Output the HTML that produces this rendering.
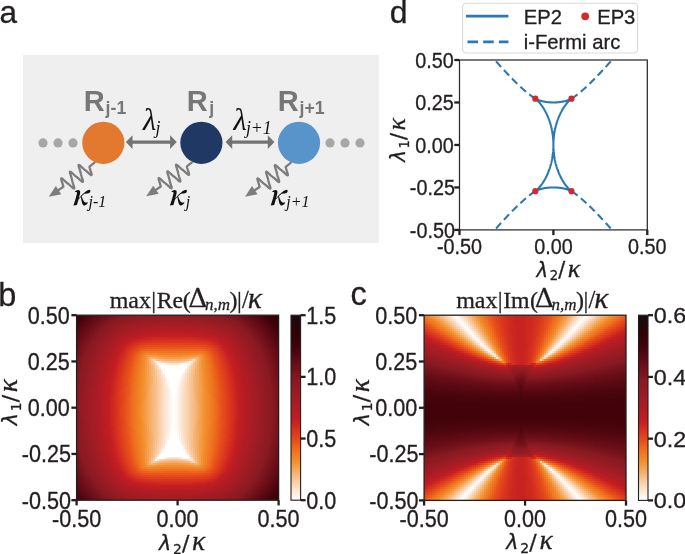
<!DOCTYPE html>
<html><head><meta charset="utf-8"><title>Figure</title><style>html,body{margin:0;padding:0;background:#fff;}body{width:685px;height:554px;overflow:hidden;}svg{display:block;}</style></head><body>
<svg width="685" height="554" viewBox="0 0 685 554">
<defs>
<linearGradient id="cmg" x1="0" y1="1" x2="0" y2="0"><stop offset="0.000" stop-color="#ffffff"/><stop offset="0.025" stop-color="#fdf3ea"/><stop offset="0.050" stop-color="#fce8d6"/><stop offset="0.075" stop-color="#fadabd"/><stop offset="0.100" stop-color="#f9cda5"/><stop offset="0.125" stop-color="#f7be89"/><stop offset="0.150" stop-color="#f6af6d"/><stop offset="0.175" stop-color="#f4a252"/><stop offset="0.200" stop-color="#f29536"/><stop offset="0.225" stop-color="#f18829"/><stop offset="0.250" stop-color="#f07a24"/><stop offset="0.275" stop-color="#ef6c1f"/><stop offset="0.300" stop-color="#eb5c1c"/><stop offset="0.325" stop-color="#e64d1a"/><stop offset="0.350" stop-color="#e0401d"/><stop offset="0.375" stop-color="#d9341f"/><stop offset="0.400" stop-color="#d02920"/><stop offset="0.425" stop-color="#c51f21"/><stop offset="0.450" stop-color="#bd1d22"/><stop offset="0.475" stop-color="#b51c23"/><stop offset="0.500" stop-color="#ad1c24"/><stop offset="0.525" stop-color="#a71c24"/><stop offset="0.550" stop-color="#a01c24"/><stop offset="0.575" stop-color="#9a1b23"/><stop offset="0.600" stop-color="#941b23"/><stop offset="0.625" stop-color="#8e1a22"/><stop offset="0.650" stop-color="#881a22"/><stop offset="0.675" stop-color="#7e161e"/><stop offset="0.700" stop-color="#74121b"/><stop offset="0.725" stop-color="#6b0f18"/><stop offset="0.750" stop-color="#620c16"/><stop offset="0.775" stop-color="#570912"/><stop offset="0.800" stop-color="#4d060e"/><stop offset="0.825" stop-color="#43030a"/><stop offset="0.850" stop-color="#3c0208"/><stop offset="0.875" stop-color="#350207"/><stop offset="0.900" stop-color="#2e0206"/><stop offset="0.925" stop-color="#290407"/><stop offset="0.950" stop-color="#23070a"/><stop offset="0.975" stop-color="#1e0a0d"/><stop offset="1.000" stop-color="#1a0e10"/></linearGradient>
<clipPath id="clb"><rect x="76.60" y="315.20" width="202.00" height="185.00"/></clipPath>
<clipPath id="clc"><rect x="424.10" y="315.20" width="201.90" height="185.20"/></clipPath>
<clipPath id="cld"><rect x="459.50" y="60.00" width="187.80" height="169.90"/></clipPath>
<filter id="bl" x="-5%" y="-5%" width="110%" height="110%" color-interpolation-filters="sRGB"><feGaussianBlur stdDeviation="0.6"/></filter>
</defs>
<text x="-0.40" y="23.30" font-family="Liberation Sans, Arial, sans-serif" font-size="31.50" fill="#231f20" stroke="#231f20" stroke-width="0.3">a</text>
<rect x="23" y="55" width="356" height="188" fill="#efefef"/>
<circle cx="43" cy="142.9" r="4.6" fill="#aaa6a5"/>
<circle cx="58" cy="142.9" r="4.6" fill="#aaa6a5"/>
<circle cx="73" cy="142.9" r="4.6" fill="#aaa6a5"/>
<circle cx="330" cy="142.9" r="4.6" fill="#aaa6a5"/>
<circle cx="345" cy="142.9" r="4.6" fill="#aaa6a5"/>
<circle cx="360" cy="142.9" r="4.6" fill="#aaa6a5"/>
<path d="M132.0 142.1H170.6" stroke="#737373" stroke-width="3.4"/>
<path d="M125.9 142.1L132.5 135.2L132.5 149.0z M176.7 142.1L170.1 135.2L170.1 149.0z" fill="#737373"/>
<path d="M231.7 142.1H268.3" stroke="#737373" stroke-width="3.4"/>
<path d="M225.6 142.1L232.2 135.2L232.2 149.0z M274.4 142.1L267.8 135.2L267.8 149.0z" fill="#737373"/>
<circle cx="103.3" cy="142.8" r="21.1" fill="#e3782f"/>
<circle cx="201.4" cy="142.8" r="21.1" fill="#1f3864"/>
<circle cx="299.0" cy="142.8" r="21.1" fill="#5893c9"/>
<path d="M94.50 162.70 L89.48 166.72 L89.66 167.54 L89.88 168.40 L90.14 169.33 L90.44 170.34 L90.79 171.40 L91.13 172.46 L91.42 173.44 L91.61 174.27 L91.66 174.87 L91.54 175.18 L91.23 175.20 L90.74 174.94 L90.11 174.45 L89.39 173.80 L88.61 173.08 L87.83 172.35 L87.09 171.67 L86.40 171.08 L85.75 170.55 L85.12 170.07 L84.50 169.60 L83.85 169.07 L83.16 168.48 L82.42 167.80 L81.64 167.07 L80.86 166.35 L80.14 165.70 L79.51 165.21 L79.02 164.95 L78.71 164.97 L78.59 165.28 L78.64 165.88 L78.83 166.71 L79.12 167.69 L79.46 168.75 L79.81 169.81 L80.11 170.82 L80.37 171.75 L80.59 172.61 L80.77 173.42 L80.96 174.24 L81.18 175.10 L81.44 176.03 L81.74 177.04 L82.09 178.10 L82.43 179.16 L82.72 180.14 L82.91 180.97 L82.96 181.57 L82.84 181.88 L82.53 181.90 L82.04 181.64 L81.41 181.15 L80.69 180.50 L79.91 179.78 L79.13 179.05 L78.39 178.37 L77.70 177.78 L77.05 177.25 L76.42 176.77 L75.80 176.30 L75.15 175.77 L74.46 175.18 L73.72 174.50 L72.94 173.77 L72.16 173.05 L71.44 172.40 L70.81 171.91 L70.32 171.65 L70.01 171.67 L69.89 171.98 L69.94 172.58 L70.13 173.41 L70.42 174.39 L70.76 175.45 L71.11 176.51 L71.41 177.52 L71.67 178.45 L71.89 179.31 L72.08 180.12 L72.26 180.94 L72.48 181.80 L72.74 182.73 L73.04 183.74 L73.39 184.80 L73.73 185.86 L74.02 186.84 L74.21 187.67 L74.26 188.27 L74.14 188.58 L73.83 188.60 L73.34 188.34 L72.71 187.85 L71.99 187.20 L71.21 186.48 L70.43 185.75 L69.69 185.07 L69.00 184.48 L68.35 183.95 L67.73 183.47 L67.10 183.00 L66.45 182.47 L65.76 181.88 L65.02 181.20 L64.24 180.47 L63.46 179.75 L62.74 179.10 L62.11 178.61 L61.62 178.35 L61.31 178.37 L61.19 178.68 L61.24 179.28 L61.43 180.11 L61.72 181.09 L62.06 182.15 L62.41 183.21 L62.71 184.22 L62.97 185.15 L63.19 186.01 L63.38 186.82 L57.74 190.63" fill="none" stroke="#7d7d7d" stroke-width="2.3" stroke-linejoin="round" stroke-linecap="round"/>
<path d="M48.79 196.67L55.83 186.01L61.31 194.13z" fill="#7d7d7d"/>
<path d="M191.90 162.40 L186.88 166.42 L187.06 167.24 L187.28 168.10 L187.54 169.03 L187.84 170.04 L188.19 171.10 L188.53 172.16 L188.82 173.14 L189.01 173.97 L189.06 174.57 L188.94 174.88 L188.63 174.90 L188.14 174.64 L187.51 174.15 L186.79 173.50 L186.01 172.78 L185.23 172.05 L184.49 171.37 L183.80 170.78 L183.15 170.25 L182.52 169.78 L181.90 169.30 L181.25 168.77 L180.56 168.18 L179.82 167.50 L179.04 166.77 L178.26 166.05 L177.54 165.40 L176.91 164.91 L176.42 164.65 L176.11 164.67 L175.99 164.98 L176.04 165.58 L176.23 166.41 L176.52 167.39 L176.86 168.45 L177.21 169.51 L177.51 170.52 L177.77 171.45 L177.99 172.31 L178.17 173.12 L178.36 173.94 L178.58 174.80 L178.84 175.73 L179.14 176.74 L179.49 177.80 L179.83 178.86 L180.12 179.84 L180.31 180.67 L180.36 181.27 L180.24 181.58 L179.93 181.60 L179.44 181.34 L178.81 180.85 L178.09 180.20 L177.31 179.48 L176.53 178.75 L175.79 178.07 L175.10 177.48 L174.45 176.95 L173.82 176.47 L173.20 176.00 L172.55 175.47 L171.86 174.88 L171.12 174.20 L170.34 173.47 L169.56 172.75 L168.84 172.10 L168.21 171.61 L167.72 171.35 L167.41 171.37 L167.29 171.68 L167.34 172.28 L167.53 173.11 L167.82 174.09 L168.16 175.15 L168.51 176.21 L168.81 177.22 L169.07 178.15 L169.29 179.01 L169.47 179.82 L169.66 180.64 L169.88 181.50 L170.14 182.43 L170.44 183.44 L170.79 184.50 L171.13 185.56 L171.42 186.54 L171.61 187.37 L171.66 187.97 L171.54 188.28 L171.23 188.30 L170.74 188.04 L170.11 187.55 L169.39 186.90 L168.61 186.18 L167.83 185.45 L167.09 184.77 L166.40 184.18 L165.75 183.65 L165.12 183.17 L164.50 182.70 L163.85 182.17 L163.16 181.58 L162.42 180.90 L161.64 180.17 L160.86 179.45 L160.14 178.80 L159.51 178.31 L159.02 178.05 L158.71 178.07 L158.59 178.38 L158.64 178.98 L158.83 179.81 L159.12 180.79 L159.46 181.85 L159.81 182.91 L160.11 183.92 L160.37 184.85 L160.59 185.71 L160.78 186.53 L155.14 190.33" fill="none" stroke="#7d7d7d" stroke-width="2.3" stroke-linejoin="round" stroke-linecap="round"/>
<path d="M146.19 196.37L153.23 185.71L158.71 193.83z" fill="#7d7d7d"/>
<path d="M290.70 162.80 L285.68 166.82 L285.86 167.64 L286.08 168.50 L286.34 169.43 L286.64 170.44 L286.99 171.50 L287.33 172.56 L287.62 173.54 L287.81 174.37 L287.86 174.97 L287.74 175.28 L287.43 175.30 L286.94 175.04 L286.31 174.55 L285.59 173.90 L284.81 173.18 L284.03 172.45 L283.29 171.77 L282.60 171.18 L281.95 170.65 L281.32 170.18 L280.70 169.70 L280.05 169.17 L279.36 168.58 L278.62 167.90 L277.84 167.17 L277.06 166.45 L276.34 165.80 L275.71 165.31 L275.22 165.05 L274.91 165.07 L274.79 165.38 L274.84 165.98 L275.03 166.81 L275.32 167.79 L275.66 168.85 L276.01 169.91 L276.31 170.92 L276.57 171.85 L276.79 172.71 L276.98 173.53 L277.16 174.34 L277.38 175.20 L277.64 176.13 L277.94 177.14 L278.29 178.20 L278.63 179.26 L278.92 180.24 L279.11 181.07 L279.16 181.67 L279.04 181.98 L278.73 182.00 L278.24 181.74 L277.61 181.25 L276.89 180.60 L276.11 179.88 L275.33 179.15 L274.59 178.47 L273.90 177.88 L273.25 177.35 L272.62 176.88 L272.00 176.40 L271.35 175.87 L270.66 175.28 L269.92 174.60 L269.14 173.87 L268.36 173.15 L267.64 172.50 L267.01 172.01 L266.52 171.75 L266.21 171.77 L266.09 172.08 L266.14 172.68 L266.33 173.51 L266.62 174.49 L266.96 175.55 L267.31 176.61 L267.61 177.62 L267.87 178.55 L268.09 179.41 L268.27 180.22 L268.46 181.04 L268.68 181.90 L268.94 182.83 L269.24 183.84 L269.59 184.90 L269.93 185.96 L270.22 186.94 L270.41 187.77 L270.46 188.37 L270.34 188.68 L270.03 188.70 L269.54 188.44 L268.91 187.95 L268.19 187.30 L267.41 186.58 L266.63 185.85 L265.89 185.17 L265.20 184.58 L264.55 184.05 L263.93 183.57 L263.30 183.10 L262.65 182.57 L261.96 181.98 L261.22 181.30 L260.44 180.57 L259.66 179.85 L258.94 179.20 L258.31 178.71 L257.82 178.45 L257.51 178.47 L257.39 178.78 L257.44 179.38 L257.63 180.21 L257.92 181.19 L258.26 182.25 L258.61 183.31 L258.91 184.32 L259.17 185.25 L259.39 186.11 L259.58 186.93 L253.94 190.73" fill="none" stroke="#7d7d7d" stroke-width="2.3" stroke-linejoin="round" stroke-linecap="round"/>
<path d="M244.99 196.77L252.03 186.11L257.51 194.23z" fill="#7d7d7d"/>
<text x="83.80" y="110.90" font-family="Liberation Sans, Arial, sans-serif" font-size="29.00" fill="#777777" font-weight="bold">R</text>
<text x="105.60" y="113.50" font-family="Liberation Sans, Arial, sans-serif" font-size="17.70" fill="#777777" font-weight="bold">j-1</text>
<text x="186.80" y="110.90" font-family="Liberation Sans, Arial, sans-serif" font-size="29.00" fill="#777777" font-weight="bold">R</text>
<text x="209.20" y="113.50" font-family="Liberation Sans, Arial, sans-serif" font-size="17.70" fill="#777777" font-weight="bold">j</text>
<text x="277.80" y="110.90" font-family="Liberation Sans, Arial, sans-serif" font-size="29.00" fill="#777777" font-weight="bold">R</text>
<text x="299.50" y="113.50" font-family="Liberation Sans, Arial, sans-serif" font-size="17.70" fill="#777777" font-weight="bold">j+1</text>
<text x="143.10" y="130.30" font-family="Liberation Serif, Times New Roman, serif" font-size="30.50" fill="#111" font-style="italic">&#955;</text>
<text x="155.40" y="133.90" font-family="Liberation Serif, Times New Roman, serif" font-size="17.80" fill="#111" font-style="italic">j</text>
<text x="233.40" y="130.30" font-family="Liberation Serif, Times New Roman, serif" font-size="30.50" fill="#111" font-style="italic">&#955;</text>
<text x="245.90" y="133.90" font-family="Liberation Serif, Times New Roman, serif" font-size="17.80" fill="#111" font-style="italic">j+1</text>
<text x="71.00" y="204.7" font-family="Noto Serif CJK SC, serif" font-size="27.5" font-style="italic" font-weight="bold" fill="#111">&#954;</text>
<text x="88.50" y="206.90" font-family="Liberation Serif, Times New Roman, serif" font-size="16.00" fill="#111" font-style="italic">j-1</text>
<text x="167.40" y="204.7" font-family="Noto Serif CJK SC, serif" font-size="27.5" font-style="italic" font-weight="bold" fill="#111">&#954;</text>
<text x="185.80" y="206.90" font-family="Liberation Serif, Times New Roman, serif" font-size="16.00" fill="#111" font-style="italic">j</text>
<text x="268.30" y="204.7" font-family="Noto Serif CJK SC, serif" font-size="27.5" font-style="italic" font-weight="bold" fill="#111">&#954;</text>
<text x="286.20" y="206.90" font-family="Liberation Serif, Times New Roman, serif" font-size="16.00" fill="#111" font-style="italic">j+1</text>
<text x="389.70" y="23.30" font-family="Liberation Sans, Arial, sans-serif" font-size="32.00" fill="#231f20" stroke="#231f20" stroke-width="0.3">d</text>
<g clip-path="url(#cld)">
<path d="M535.72 190.97 L535.72 190.96 L535.72 190.97 L535.72 190.97" fill="none" stroke="#2a79b6" stroke-width="2.1"/>
<path d="M571.08 190.97 L571.08 190.96 L571.08 190.97 L571.08 190.97" fill="none" stroke="#2a79b6" stroke-width="2.1"/>
<path d="M535.87 190.84 L535.87 190.81 L535.87 190.84 L535.87 190.84" fill="none" stroke="#2a79b6" stroke-width="2.1"/>
<path d="M570.93 190.84 L570.93 190.81 L570.93 190.84 L570.93 190.84" fill="none" stroke="#2a79b6" stroke-width="2.1"/>
<path d="M536.03 190.75 L536.27 190.68 L536.50 190.57 L536.65 190.51 L536.91 190.40 L537.12 190.30 L537.28 190.24 L537.59 190.12 L537.75 190.05 L537.97 189.97 L538.22 189.88 L538.38 189.82 L538.69 189.71 L538.85 189.66 L539.16 189.55 L539.31 189.50 L539.61 189.41 L539.78 189.35 L540.07 189.27 L540.25 189.21 L540.55 189.12 L540.72 189.07 L541.04 188.99 L541.19 188.95 L541.51 188.86 L541.66 188.82 L541.98 188.75 L542.17 188.70 L542.44 188.63 L542.76 188.56 L542.91 188.53 L543.23 188.46 L543.44 188.42 L543.70 188.36 L544.01 188.30 L544.17 188.27 L544.48 188.21 L544.79 188.16 L544.95 188.13 L545.26 188.08 L545.58 188.03 L545.81 187.99 L546.04 187.96 L546.36 187.91 L546.67 187.87 L546.83 187.85 L547.14 187.81 L547.45 187.77 L547.77 187.73 L548.01 187.71 L548.24 187.68 L548.55 187.65 L548.86 187.62 L549.17 187.60 L549.49 187.57 L549.64 187.56 L549.96 187.54 L550.27 187.52 L550.58 187.50 L550.90 187.49 L551.21 187.47 L551.52 187.46 L551.84 187.45 L552.15 187.44 L552.46 187.43 L552.77 187.43 L553.09 187.43 L553.40 187.43 L553.40 187.43 L553.71 187.43 L554.03 187.43 L554.34 187.43 L554.65 187.44 L554.97 187.45 L555.28 187.46 L555.59 187.47 L555.90 187.49 L556.22 187.50 L556.53 187.52 L556.84 187.54 L557.16 187.56 L557.31 187.57 L557.63 187.60 L557.94 187.62 L558.25 187.65 L558.56 187.68 L558.79 187.71 L559.03 187.73 L559.35 187.77 L559.66 187.81 L559.97 187.85 L560.13 187.87 L560.44 187.91 L560.76 187.96 L560.99 187.99 L561.23 188.03 L561.54 188.08 L561.85 188.13 L562.01 188.16 L562.32 188.21 L562.63 188.27 L562.79 188.30 L563.10 188.36 L563.36 188.42 L563.57 188.46 L563.89 188.53 L564.04 188.56 L564.36 188.63 L564.63 188.70 L564.82 188.75 L565.14 188.82 L565.29 188.86 L565.61 188.95 L565.76 188.99 L566.08 189.07 L566.25 189.12 L566.55 189.21 L566.73 189.27 L567.02 189.35 L567.19 189.41 L567.49 189.50 L567.64 189.55 L567.95 189.66 L568.11 189.71 L568.42 189.82 L568.58 189.88 L568.83 189.97 L569.05 190.05 L569.21 190.12 L569.52 190.24 L569.68 190.30 L569.89 190.40 L570.15 190.51 L570.30 190.57 L570.53 190.68 L570.77 190.75 L570.77 190.67 L570.62 190.54 L570.45 190.40 L570.28 190.26 L570.12 190.12 L569.97 189.97 L569.81 189.83 L569.66 189.69 L569.51 189.55 L569.36 189.40 L569.21 189.25 L569.05 189.10 L568.89 188.94 L568.74 188.78 L568.58 188.62 L568.42 188.45 L568.27 188.28 L568.13 188.13 L568.00 187.99 L567.87 187.85 L567.75 187.71 L567.62 187.57 L567.49 187.41 L567.33 187.23 L567.17 187.05 L567.02 186.86 L566.90 186.72 L566.78 186.58 L566.67 186.43 L566.55 186.29 L566.39 186.09 L566.23 185.89 L566.10 185.73 L565.99 185.58 L565.89 185.44 L565.76 185.28 L565.61 185.08 L565.46 184.88 L565.36 184.73 L565.25 184.59 L565.14 184.44 L564.98 184.22 L564.85 184.03 L564.75 183.89 L564.65 183.74 L564.51 183.55 L564.36 183.32 L564.26 183.18 L564.17 183.04 L564.04 182.85 L563.89 182.61 L563.79 182.47 L563.70 182.33 L563.57 182.13 L563.43 181.90 L563.34 181.76 L563.25 181.62 L563.10 181.38 L562.99 181.20 L562.90 181.05 L562.79 180.86 L562.65 180.63 L562.57 180.49 L562.48 180.33 L562.32 180.07 L562.24 179.92 L562.16 179.78 L562.01 179.52 L561.92 179.35 L561.84 179.21 L561.69 178.95 L561.60 178.79 L561.53 178.65 L561.38 178.37 L561.30 178.22 L561.23 178.08 L561.08 177.80 L561.00 177.66 L560.91 177.47 L560.79 177.23 L560.72 177.09 L560.60 176.85 L560.51 176.66 L560.44 176.52 L560.30 176.24 L560.23 176.10 L560.13 175.89 L560.03 175.67 L559.96 175.53 L559.83 175.25 L559.76 175.11 L559.66 174.88 L559.57 174.68 L559.50 174.53 L559.38 174.26 L559.32 174.12 L559.20 173.83 L559.14 173.69 L559.03 173.45 L558.96 173.27 L558.88 173.08 L558.78 172.84 L558.72 172.70 L558.61 172.42 L558.55 172.28 L558.44 171.99 L558.38 171.85 L558.27 171.57 L558.21 171.43 L558.11 171.14 L558.05 171.00 L557.95 170.72 L557.89 170.58 L557.79 170.29 L557.74 170.15 L557.64 169.87 L557.58 169.73 L557.48 169.44 L557.44 169.30 L557.34 169.02 L557.29 168.88 L557.19 168.59 L557.15 168.45 L557.05 168.17 L557.00 168.01 L556.91 167.74 L556.84 167.52 L556.78 167.32 L556.69 167.04 L556.65 166.90 L556.56 166.61 L556.52 166.47 L556.43 166.19 L556.37 165.98 L556.31 165.76 L556.23 165.48 L556.19 165.34 L556.11 165.05 L556.06 164.88 L555.99 164.63 L555.92 164.35 L555.88 164.21 L555.80 163.92 L555.75 163.70 L555.69 163.50 L555.62 163.21 L555.59 163.07 L555.52 162.79 L555.45 162.51 L555.42 162.36 L555.35 162.08 L555.28 161.80 L555.25 161.66 L555.19 161.37 L555.13 161.09 L555.10 160.95 L555.03 160.67 L554.98 160.38 L554.95 160.24 L554.89 159.96 L554.83 159.67 L554.80 159.53 L554.75 159.25 L554.69 158.97 L554.65 158.73 L554.62 158.54 L554.56 158.26 L554.52 157.98 L554.49 157.83 L554.44 157.55 L554.39 157.27 L554.35 156.98 L554.33 156.84 L554.28 156.56 L554.24 156.28 L554.20 155.99 L554.18 155.85 L554.14 155.57 L554.10 155.29 L554.06 155.00 L554.03 154.73 L554.00 154.58 L553.97 154.29 L553.93 154.01 L553.90 153.73 L553.87 153.44 L553.85 153.30 L553.82 153.02 L553.79 152.74 L553.76 152.45 L553.74 152.17 L553.71 151.89 L553.70 151.75 L553.67 151.46 L553.64 151.18 L553.62 150.90 L553.60 150.61 L553.58 150.33 L553.57 150.05 L553.56 149.85 L553.53 149.62 L553.50 149.34 L553.48 149.06 L553.46 148.77 L553.44 148.49 L553.43 148.21 L553.42 147.92 L553.41 147.64 L553.41 147.36 L553.41 147.07 L553.40 146.79 L553.40 146.51 L553.40 146.22 L553.40 145.94 L553.40 145.66 L553.40 145.37 L553.40 145.09 L553.40 145.09 L553.40 145.37 L553.40 145.66 L553.40 145.94 L553.40 146.22 L553.40 146.51 L553.40 146.79 L553.39 147.07 L553.39 147.36 L553.39 147.64 L553.38 147.92 L553.37 148.21 L553.36 148.49 L553.34 148.77 L553.32 149.06 L553.30 149.34 L553.27 149.62 L553.24 149.85 L553.23 150.05 L553.22 150.33 L553.20 150.61 L553.18 150.90 L553.16 151.18 L553.13 151.46 L553.10 151.75 L553.09 151.89 L553.06 152.17 L553.04 152.45 L553.01 152.74 L552.98 153.02 L552.95 153.30 L552.93 153.44 L552.90 153.73 L552.87 154.01 L552.83 154.29 L552.80 154.58 L552.77 154.73 L552.74 155.00 L552.70 155.29 L552.66 155.57 L552.62 155.85 L552.60 155.99 L552.56 156.28 L552.52 156.56 L552.47 156.84 L552.45 156.98 L552.41 157.27 L552.36 157.55 L552.31 157.83 L552.28 157.98 L552.24 158.26 L552.18 158.54 L552.15 158.73 L552.11 158.97 L552.05 159.25 L552.00 159.53 L551.97 159.67 L551.91 159.96 L551.85 160.24 L551.82 160.38 L551.77 160.67 L551.70 160.95 L551.67 161.09 L551.61 161.37 L551.55 161.66 L551.52 161.80 L551.45 162.08 L551.38 162.36 L551.35 162.51 L551.28 162.79 L551.21 163.07 L551.18 163.21 L551.11 163.50 L551.05 163.70 L551.00 163.92 L550.92 164.21 L550.88 164.35 L550.81 164.63 L550.74 164.88 L550.69 165.05 L550.61 165.34 L550.57 165.48 L550.49 165.76 L550.43 165.98 L550.37 166.19 L550.28 166.47 L550.24 166.61 L550.15 166.90 L550.11 167.04 L550.02 167.32 L549.96 167.52 L549.89 167.74 L549.80 168.01 L549.75 168.17 L549.65 168.45 L549.61 168.59 L549.51 168.88 L549.46 169.02 L549.36 169.30 L549.32 169.44 L549.22 169.73 L549.16 169.87 L549.06 170.15 L549.01 170.29 L548.91 170.58 L548.85 170.72 L548.75 171.00 L548.69 171.14 L548.59 171.43 L548.53 171.57 L548.42 171.85 L548.36 171.99 L548.25 172.28 L548.19 172.42 L548.08 172.70 L548.02 172.84 L547.92 173.08 L547.84 173.27 L547.77 173.45 L547.66 173.69 L547.60 173.83 L547.48 174.12 L547.42 174.26 L547.30 174.53 L547.23 174.68 L547.14 174.88 L547.04 175.11 L546.97 175.25 L546.84 175.53 L546.77 175.67 L546.67 175.89 L546.57 176.10 L546.50 176.24 L546.36 176.52 L546.29 176.66 L546.20 176.85 L546.08 177.09 L546.01 177.23 L545.89 177.47 L545.80 177.66 L545.72 177.80 L545.58 178.08 L545.50 178.22 L545.42 178.37 L545.27 178.65 L545.20 178.79 L545.11 178.95 L544.96 179.21 L544.88 179.35 L544.79 179.52 L544.64 179.78 L544.56 179.92 L544.48 180.07 L544.32 180.33 L544.23 180.49 L544.15 180.63 L544.01 180.86 L543.90 181.05 L543.81 181.20 L543.70 181.38 L543.55 181.62 L543.46 181.76 L543.37 181.90 L543.23 182.13 L543.10 182.33 L543.01 182.47 L542.91 182.61 L542.76 182.85 L542.63 183.04 L542.54 183.18 L542.44 183.32 L542.29 183.55 L542.15 183.74 L542.05 183.89 L541.95 184.03 L541.82 184.22 L541.66 184.44 L541.55 184.59 L541.44 184.73 L541.34 184.88 L541.19 185.08 L541.04 185.28 L540.91 185.44 L540.81 185.58 L540.70 185.73 L540.57 185.89 L540.41 186.09 L540.25 186.29 L540.13 186.43 L540.02 186.58 L539.90 186.72 L539.78 186.86 L539.63 187.05 L539.47 187.23 L539.31 187.41 L539.18 187.57 L539.05 187.71 L538.93 187.85 L538.80 187.99 L538.67 188.13 L538.53 188.28 L538.38 188.45 L538.22 188.62 L538.06 188.78 L537.91 188.94 L537.75 189.10 L537.59 189.25 L537.44 189.40 L537.29 189.55 L537.14 189.69 L536.99 189.83 L536.83 189.97 L536.68 190.12 L536.52 190.26 L536.35 190.40 L536.18 190.54 L536.03 190.67 L536.03 190.75 L536.03 190.75" fill="none" stroke="#2a79b6" stroke-width="2.1"/>
<path d="M553.40 144.95 L553.40 144.67 L553.40 144.38 L553.40 144.10 L553.40 143.82 L553.40 143.53 L553.40 143.25 L553.40 142.97 L553.41 142.68 L553.41 142.40 L553.42 142.12 L553.43 141.84 L553.44 141.55 L553.45 141.27 L553.47 140.99 L553.49 140.70 L553.51 140.42 L553.55 140.14 L553.56 139.99 L553.57 139.71 L553.59 139.43 L553.61 139.15 L553.63 138.86 L553.65 138.58 L553.68 138.30 L553.71 138.03 L553.72 137.87 L553.75 137.59 L553.77 137.30 L553.80 137.02 L553.84 136.74 L553.87 136.48 L553.89 136.31 L553.92 136.03 L553.95 135.75 L553.99 135.46 L554.02 135.18 L554.04 135.04 L554.08 134.76 L554.12 134.47 L554.16 134.19 L554.18 134.03 L554.22 133.76 L554.26 133.48 L554.30 133.20 L554.34 133.00 L554.37 132.77 L554.42 132.49 L554.47 132.21 L554.50 132.05 L554.54 131.78 L554.59 131.50 L554.64 131.22 L554.67 131.07 L554.72 130.79 L554.78 130.51 L554.81 130.35 L554.86 130.08 L554.92 129.80 L554.97 129.57 L555.00 129.38 L555.06 129.09 L555.12 128.83 L555.16 128.67 L555.22 128.38 L555.28 128.13 L555.32 127.96 L555.38 127.68 L555.43 127.46 L555.48 127.25 L555.55 126.97 L555.59 126.82 L555.66 126.54 L555.73 126.26 L555.77 126.12 L555.84 125.84 L555.90 125.60 L555.95 125.41 L556.03 125.13 L556.07 124.99 L556.15 124.70 L556.22 124.46 L556.27 124.28 L556.35 124.00 L556.39 123.85 L556.48 123.57 L556.53 123.39 L556.60 123.15 L556.69 122.88 L556.73 122.72 L556.82 122.44 L556.87 122.30 L556.96 122.01 L557.01 121.87 L557.10 121.59 L557.16 121.42 L557.24 121.16 L557.31 120.96 L557.39 120.74 L557.47 120.50 L557.53 120.31 L557.63 120.06 L557.69 119.89 L557.78 119.63 L557.84 119.47 L557.94 119.20 L558.00 119.04 L558.10 118.79 L558.16 118.62 L558.25 118.38 L558.32 118.19 L558.41 117.98 L558.49 117.77 L558.56 117.59 L558.66 117.34 L558.72 117.20 L558.84 116.92 L558.90 116.77 L559.02 116.49 L559.08 116.35 L559.19 116.08 L559.26 115.93 L559.35 115.73 L559.45 115.50 L559.51 115.36 L559.64 115.08 L559.70 114.93 L559.82 114.68 L559.90 114.51 L559.97 114.34 L560.10 114.08 L560.16 113.94 L560.29 113.69 L560.37 113.52 L560.44 113.36 L560.58 113.09 L560.65 112.95 L560.76 112.73 L560.86 112.53 L560.93 112.39 L561.07 112.12 L561.15 111.96 L561.23 111.82 L561.38 111.54 L561.45 111.39 L561.54 111.24 L561.68 110.97 L561.76 110.83 L561.85 110.66 L562.00 110.40 L562.08 110.26 L562.16 110.11 L562.32 109.84 L562.40 109.70 L562.48 109.55 L562.63 109.30 L562.73 109.13 L562.82 108.99 L562.95 108.78 L563.08 108.56 L563.16 108.42 L563.26 108.27 L563.42 108.02 L563.52 107.86 L563.61 107.71 L563.73 107.53 L563.89 107.29 L563.98 107.15 L564.07 107.01 L564.20 106.82 L564.36 106.58 L564.45 106.44 L564.55 106.30 L564.67 106.13 L564.82 105.90 L564.95 105.73 L565.05 105.59 L565.15 105.45 L565.29 105.25 L565.45 105.04 L565.56 104.88 L565.67 104.74 L565.78 104.60 L565.92 104.41 L566.08 104.21 L566.21 104.03 L566.32 103.89 L566.44 103.75 L566.55 103.61 L566.70 103.42 L566.86 103.23 L567.02 103.04 L567.13 102.90 L567.25 102.76 L567.38 102.62 L567.50 102.47 L567.64 102.31 L567.80 102.13 L567.95 101.96 L568.11 101.79 L568.26 101.63 L568.39 101.48 L568.52 101.34 L568.66 101.20 L568.80 101.06 L568.94 100.92 L569.08 100.78 L569.22 100.63 L569.37 100.49 L569.52 100.34 L569.68 100.19 L569.83 100.05 L569.99 99.90 L570.15 99.76 L570.30 99.62 L570.46 99.49 L570.62 99.36 L570.78 99.22 L570.62 99.19 L570.46 99.26 L570.21 99.36 L569.99 99.46 L569.83 99.53 L569.55 99.64 L569.36 99.72 L569.20 99.78 L568.89 99.90 L568.74 99.96 L568.45 100.07 L568.27 100.14 L568.05 100.21 L567.80 100.30 L567.63 100.35 L567.33 100.45 L567.17 100.50 L566.86 100.60 L566.70 100.64 L566.39 100.74 L566.23 100.78 L565.92 100.87 L565.74 100.92 L565.45 101.00 L565.20 101.06 L564.98 101.12 L564.67 101.19 L564.51 101.23 L564.20 101.30 L564.02 101.34 L563.73 101.41 L563.42 101.47 L563.26 101.50 L562.95 101.57 L562.64 101.63 L562.48 101.66 L562.16 101.71 L561.86 101.77 L561.69 101.80 L561.38 101.85 L561.07 101.90 L560.91 101.92 L560.60 101.97 L560.29 102.01 L559.99 102.05 L559.82 102.07 L559.50 102.11 L559.19 102.15 L558.88 102.18 L558.72 102.20 L558.41 102.23 L558.10 102.26 L557.78 102.29 L557.47 102.31 L557.22 102.33 L557.00 102.35 L556.69 102.37 L556.37 102.39 L556.06 102.41 L555.75 102.42 L555.43 102.44 L555.12 102.45 L554.81 102.46 L554.50 102.46 L554.18 102.47 L553.87 102.47 L553.56 102.47 L553.40 102.47 L553.24 102.47 L552.93 102.47 L552.62 102.47 L552.30 102.46 L551.99 102.46 L551.68 102.45 L551.37 102.44 L551.05 102.42 L550.74 102.41 L550.43 102.39 L550.11 102.37 L549.80 102.35 L549.58 102.33 L549.33 102.31 L549.02 102.29 L548.70 102.26 L548.39 102.23 L548.08 102.20 L547.92 102.18 L547.61 102.15 L547.30 102.11 L546.98 102.07 L546.81 102.05 L546.51 102.01 L546.20 101.97 L545.89 101.92 L545.73 101.90 L545.42 101.85 L545.11 101.80 L544.94 101.77 L544.64 101.71 L544.32 101.66 L544.16 101.63 L543.85 101.57 L543.54 101.50 L543.38 101.47 L543.07 101.41 L542.78 101.34 L542.60 101.30 L542.29 101.23 L542.13 101.19 L541.82 101.12 L541.60 101.06 L541.35 101.00 L541.06 100.92 L540.88 100.87 L540.57 100.78 L540.41 100.74 L540.10 100.64 L539.94 100.60 L539.63 100.50 L539.47 100.45 L539.17 100.35 L539.00 100.30 L538.75 100.21 L538.53 100.14 L538.35 100.07 L538.06 99.96 L537.91 99.90 L537.60 99.78 L537.44 99.72 L537.25 99.64 L536.97 99.53 L536.81 99.46 L536.59 99.36 L536.34 99.26 L536.18 99.19 L536.02 99.22 L536.18 99.36 L536.34 99.49 L536.50 99.62 L536.65 99.76 L536.81 99.90 L536.97 100.05 L537.12 100.19 L537.28 100.34 L537.43 100.49 L537.58 100.63 L537.72 100.78 L537.86 100.92 L538.00 101.06 L538.14 101.20 L538.28 101.34 L538.41 101.48 L538.54 101.63 L538.69 101.79 L538.85 101.96 L539.00 102.13 L539.16 102.31 L539.30 102.47 L539.42 102.62 L539.55 102.76 L539.67 102.90 L539.78 103.04 L539.94 103.23 L540.10 103.42 L540.25 103.61 L540.36 103.75 L540.48 103.89 L540.59 104.03 L540.72 104.21 L540.88 104.41 L541.02 104.60 L541.13 104.74 L541.24 104.88 L541.35 105.04 L541.51 105.25 L541.65 105.45 L541.75 105.59 L541.85 105.73 L541.98 105.90 L542.13 106.13 L542.25 106.30 L542.35 106.44 L542.44 106.58 L542.60 106.82 L542.73 107.01 L542.82 107.15 L542.91 107.29 L543.07 107.53 L543.19 107.71 L543.28 107.86 L543.38 108.02 L543.54 108.27 L543.64 108.42 L543.72 108.56 L543.85 108.78 L543.98 108.99 L544.07 109.13 L544.17 109.30 L544.32 109.55 L544.40 109.70 L544.48 109.84 L544.64 110.11 L544.72 110.26 L544.80 110.40 L544.95 110.66 L545.04 110.83 L545.12 110.97 L545.26 111.24 L545.35 111.39 L545.42 111.54 L545.57 111.82 L545.65 111.96 L545.73 112.12 L545.87 112.39 L545.94 112.53 L546.04 112.73 L546.15 112.95 L546.22 113.09 L546.36 113.36 L546.43 113.52 L546.51 113.69 L546.64 113.94 L546.70 114.08 L546.83 114.34 L546.90 114.51 L546.98 114.68 L547.10 114.93 L547.16 115.08 L547.29 115.36 L547.35 115.50 L547.45 115.73 L547.54 115.93 L547.61 116.08 L547.72 116.35 L547.78 116.49 L547.90 116.77 L547.96 116.92 L548.08 117.20 L548.14 117.34 L548.24 117.59 L548.31 117.77 L548.39 117.98 L548.48 118.19 L548.55 118.38 L548.64 118.62 L548.70 118.79 L548.80 119.04 L548.86 119.20 L548.96 119.47 L549.02 119.63 L549.11 119.89 L549.17 120.06 L549.27 120.31 L549.33 120.50 L549.41 120.74 L549.49 120.96 L549.56 121.16 L549.64 121.42 L549.70 121.59 L549.79 121.87 L549.84 122.01 L549.93 122.30 L549.98 122.44 L550.07 122.72 L550.11 122.88 L550.20 123.15 L550.27 123.39 L550.32 123.57 L550.41 123.85 L550.45 124.00 L550.53 124.28 L550.58 124.46 L550.65 124.70 L550.73 124.99 L550.77 125.13 L550.85 125.41 L550.90 125.60 L550.96 125.84 L551.03 126.12 L551.07 126.26 L551.14 126.54 L551.21 126.82 L551.25 126.97 L551.32 127.25 L551.37 127.46 L551.42 127.68 L551.48 127.96 L551.52 128.13 L551.58 128.38 L551.64 128.67 L551.68 128.83 L551.74 129.09 L551.80 129.38 L551.84 129.57 L551.88 129.80 L551.94 130.08 L551.99 130.35 L552.02 130.51 L552.08 130.79 L552.13 131.07 L552.16 131.22 L552.21 131.50 L552.26 131.78 L552.30 132.05 L552.33 132.21 L552.38 132.49 L552.43 132.77 L552.46 133.00 L552.50 133.20 L552.54 133.48 L552.58 133.76 L552.62 134.03 L552.64 134.19 L552.68 134.47 L552.72 134.76 L552.76 135.04 L552.78 135.18 L552.81 135.46 L552.85 135.75 L552.88 136.03 L552.91 136.31 L552.93 136.48 L552.96 136.74 L553.00 137.02 L553.03 137.30 L553.05 137.59 L553.08 137.87 L553.09 138.03 L553.12 138.30 L553.15 138.58 L553.17 138.86 L553.19 139.15 L553.21 139.43 L553.23 139.71 L553.24 139.99 L553.25 140.14 L553.29 140.42 L553.31 140.70 L553.33 140.99 L553.35 141.27 L553.36 141.55 L553.37 141.84 L553.38 142.12 L553.39 142.40 L553.39 142.68 L553.40 142.97 L553.40 143.25 L553.40 143.53 L553.40 143.82 L553.40 144.10 L553.40 144.38 L553.40 144.67 L553.40 144.95 L553.40 144.95" fill="none" stroke="#2a79b6" stroke-width="2.1"/>
<path d="M535.87 99.09 L535.87 99.06 L535.87 99.09 L535.87 99.09" fill="none" stroke="#2a79b6" stroke-width="2.1"/>
<path d="M570.93 99.09 L570.93 99.06 L570.93 99.09 L570.93 99.09" fill="none" stroke="#2a79b6" stroke-width="2.1"/>
<path d="M535.72 98.94 L535.72 98.93 L535.72 98.94 L535.72 98.94" fill="none" stroke="#2a79b6" stroke-width="2.1"/>
<path d="M571.08 98.94 L571.08 98.93 L571.08 98.94 L571.08 98.94" fill="none" stroke="#2a79b6" stroke-width="2.1"/>
<path d="M535.33 191.19 L534.77 191.55 L534.22 191.92 L533.66 192.29 L533.11 192.68 L532.55 193.07 L531.99 193.46 L531.44 193.87 L530.88 194.28 L530.33 194.70 L529.77 195.13 L529.22 195.56 L528.66 195.99 L528.10 196.44 L527.55 196.89 L526.99 197.34 L526.44 197.81 L525.88 198.27 L525.33 198.74 L524.77 199.22 L524.21 199.70 L523.66 200.19 L523.10 200.68 L522.55 201.18 L521.99 201.68 L521.44 202.19 L520.88 202.70 L520.32 203.21 L519.77 203.73 L519.21 204.25 L518.66 204.78 L518.10 205.31 L517.55 205.84 L516.99 206.38 L516.43 206.92 L515.88 207.47 L515.32 208.01 L514.77 208.56 L514.21 209.12 L513.66 209.68 L513.10 210.24 L512.54 210.80 L511.99 211.36 L511.43 211.93 L510.88 212.50 L510.32 213.08 L509.77 213.65 L509.21 214.23 L508.65 214.82 L508.10 215.40 L507.54 215.99 L506.99 216.57 L506.43 217.16 L505.88 217.76 L505.32 218.35 L504.76 218.95 L504.21 219.55 L503.65 220.15 L503.10 220.75 L502.54 221.36 L501.98 221.96 L501.43 222.57 L500.87 223.18 L500.32 223.79 L499.76 224.41 L499.21 225.02 L498.65 225.64 L498.09 226.25 L497.54 226.87 L496.98 227.50 L496.43 228.12 L495.87 228.74 L495.32 229.37 L494.76 229.99 L494.20 230.62 L493.65 231.25 L493.09 231.88 L492.54 232.51 L491.98 233.15 L491.43 233.78" fill="none" stroke="#2a79b6" stroke-width="2.1" stroke-dasharray="7.5 4.2"/>
<path d="M535.33 98.71 L534.77 98.35 L534.22 97.98 L533.66 97.61 L533.11 97.22 L532.55 96.83 L531.99 96.44 L531.44 96.03 L530.88 95.62 L530.33 95.20 L529.77 94.77 L529.22 94.34 L528.66 93.91 L528.10 93.46 L527.55 93.01 L526.99 92.56 L526.44 92.09 L525.88 91.63 L525.33 91.16 L524.77 90.68 L524.21 90.20 L523.66 89.71 L523.10 89.22 L522.55 88.72 L521.99 88.22 L521.44 87.71 L520.88 87.20 L520.32 86.69 L519.77 86.17 L519.21 85.65 L518.66 85.12 L518.10 84.59 L517.55 84.06 L516.99 83.52 L516.43 82.98 L515.88 82.43 L515.32 81.89 L514.77 81.34 L514.21 80.78 L513.66 80.22 L513.10 79.66 L512.54 79.10 L511.99 78.54 L511.43 77.97 L510.88 77.40 L510.32 76.82 L509.77 76.25 L509.21 75.67 L508.65 75.08 L508.10 74.50 L507.54 73.91 L506.99 73.33 L506.43 72.74 L505.88 72.14 L505.32 71.55 L504.76 70.95 L504.21 70.35 L503.65 69.75 L503.10 69.15 L502.54 68.54 L501.98 67.94 L501.43 67.33 L500.87 66.72 L500.32 66.11 L499.76 65.49 L499.21 64.88 L498.65 64.26 L498.09 63.65 L497.54 63.03 L496.98 62.40 L496.43 61.78 L495.87 61.16 L495.32 60.53 L494.76 59.91 L494.20 59.28 L493.65 58.65 L493.09 58.02 L492.54 57.39 L491.98 56.75 L491.43 56.12" fill="none" stroke="#2a79b6" stroke-width="2.1" stroke-dasharray="7.5 4.2"/>
<path d="M571.47 191.19 L572.03 191.55 L572.58 191.92 L573.14 192.29 L573.69 192.68 L574.25 193.07 L574.81 193.46 L575.36 193.87 L575.92 194.28 L576.47 194.70 L577.03 195.13 L577.58 195.56 L578.14 195.99 L578.70 196.44 L579.25 196.89 L579.81 197.34 L580.36 197.81 L580.92 198.27 L581.47 198.74 L582.03 199.22 L582.59 199.70 L583.14 200.19 L583.70 200.68 L584.25 201.18 L584.81 201.68 L585.36 202.19 L585.92 202.70 L586.48 203.21 L587.03 203.73 L587.59 204.25 L588.14 204.78 L588.70 205.31 L589.25 205.84 L589.81 206.38 L590.37 206.92 L590.92 207.47 L591.48 208.01 L592.03 208.56 L592.59 209.12 L593.14 209.68 L593.70 210.24 L594.26 210.80 L594.81 211.36 L595.37 211.93 L595.92 212.50 L596.48 213.08 L597.03 213.65 L597.59 214.23 L598.15 214.82 L598.70 215.40 L599.26 215.99 L599.81 216.57 L600.37 217.16 L600.92 217.76 L601.48 218.35 L602.04 218.95 L602.59 219.55 L603.15 220.15 L603.70 220.75 L604.26 221.36 L604.82 221.96 L605.37 222.57 L605.93 223.18 L606.48 223.79 L607.04 224.41 L607.59 225.02 L608.15 225.64 L608.71 226.25 L609.26 226.87 L609.82 227.50 L610.37 228.12 L610.93 228.74 L611.48 229.37 L612.04 229.99 L612.60 230.62 L613.15 231.25 L613.71 231.88 L614.26 232.51 L614.82 233.15 L615.37 233.78" fill="none" stroke="#2a79b6" stroke-width="2.1" stroke-dasharray="7.5 4.2"/>
<path d="M571.47 98.71 L572.03 98.35 L572.58 97.98 L573.14 97.61 L573.69 97.22 L574.25 96.83 L574.81 96.44 L575.36 96.03 L575.92 95.62 L576.47 95.20 L577.03 94.77 L577.58 94.34 L578.14 93.91 L578.70 93.46 L579.25 93.01 L579.81 92.56 L580.36 92.09 L580.92 91.63 L581.47 91.16 L582.03 90.68 L582.59 90.20 L583.14 89.71 L583.70 89.22 L584.25 88.72 L584.81 88.22 L585.36 87.71 L585.92 87.20 L586.48 86.69 L587.03 86.17 L587.59 85.65 L588.14 85.12 L588.70 84.59 L589.25 84.06 L589.81 83.52 L590.37 82.98 L590.92 82.43 L591.48 81.89 L592.03 81.34 L592.59 80.78 L593.14 80.22 L593.70 79.66 L594.26 79.10 L594.81 78.54 L595.37 77.97 L595.92 77.40 L596.48 76.82 L597.03 76.25 L597.59 75.67 L598.15 75.08 L598.70 74.50 L599.26 73.91 L599.81 73.33 L600.37 72.74 L600.92 72.14 L601.48 71.55 L602.04 70.95 L602.59 70.35 L603.15 69.75 L603.70 69.15 L604.26 68.54 L604.82 67.94 L605.37 67.33 L605.93 66.72 L606.48 66.11 L607.04 65.49 L607.59 64.88 L608.15 64.26 L608.71 63.65 L609.26 63.03 L609.82 62.40 L610.37 61.78 L610.93 61.16 L611.48 60.53 L612.04 59.91 L612.60 59.28 L613.15 58.65 L613.71 58.02 L614.26 57.39 L614.82 56.75 L615.37 56.12" fill="none" stroke="#2a79b6" stroke-width="2.1" stroke-dasharray="7.5 4.2"/>
</g>
<circle cx="535.33" cy="191.19" r="3.1" fill="#d5282b"/>
<circle cx="535.33" cy="98.71" r="3.1" fill="#d5282b"/>
<circle cx="571.47" cy="191.19" r="3.1" fill="#d5282b"/>
<circle cx="571.47" cy="98.71" r="3.1" fill="#d5282b"/>
<rect x="459.50" y="60.00" width="187.80" height="169.90" fill="none" stroke="#2d2828" stroke-width="1.25"/>
<path d="M454.30 60.00H459.50" stroke="#231f20" stroke-width="2.30"/>
<text transform="translate(453.70 67.83) scale(1.000 1.080)" font-family="Liberation Sans, Arial, sans-serif" font-size="19.80" fill="#231f20" stroke="#231f20" stroke-width="0.3" text-anchor="end">0.50</text>
<path d="M454.30 102.47H459.50" stroke="#231f20" stroke-width="2.30"/>
<text transform="translate(453.70 110.31) scale(1.000 1.080)" font-family="Liberation Sans, Arial, sans-serif" font-size="19.80" fill="#231f20" stroke="#231f20" stroke-width="0.3" text-anchor="end">0.25</text>
<path d="M454.30 144.95H459.50" stroke="#231f20" stroke-width="2.30"/>
<text transform="translate(453.70 152.78) scale(1.000 1.080)" font-family="Liberation Sans, Arial, sans-serif" font-size="19.80" fill="#231f20" stroke="#231f20" stroke-width="0.3" text-anchor="end">0.00</text>
<path d="M454.30 187.43H459.50" stroke="#231f20" stroke-width="2.30"/>
<text transform="translate(454.90 195.26) scale(1.000 1.080)" font-family="Liberation Sans, Arial, sans-serif" font-size="19.80" fill="#231f20" stroke="#231f20" stroke-width="0.3" text-anchor="end">-0.25</text>
<path d="M454.30 229.90H459.50" stroke="#231f20" stroke-width="2.30"/>
<text transform="translate(454.90 237.73) scale(1.000 1.080)" font-family="Liberation Sans, Arial, sans-serif" font-size="19.80" fill="#231f20" stroke="#231f20" stroke-width="0.3" text-anchor="end">-0.50</text>
<path d="M459.50 229.90V235.10" stroke="#231f20" stroke-width="2.30"/>
<text transform="translate(459.50 254.00) scale(1.000 1.080)" font-family="Liberation Sans, Arial, sans-serif" font-size="19.80" fill="#231f20" stroke="#231f20" stroke-width="0.3" text-anchor="middle">-0.50</text>
<path d="M553.40 229.90V235.10" stroke="#231f20" stroke-width="2.30"/>
<text transform="translate(553.40 254.00) scale(1.000 1.080)" font-family="Liberation Sans, Arial, sans-serif" font-size="19.80" fill="#231f20" stroke="#231f20" stroke-width="0.3" text-anchor="middle">0.00</text>
<path d="M647.30 229.90V235.10" stroke="#231f20" stroke-width="2.30"/>
<text transform="translate(647.30 254.00) scale(1.000 1.080)" font-family="Liberation Sans, Arial, sans-serif" font-size="19.80" fill="#231f20" stroke="#231f20" stroke-width="0.3" text-anchor="middle">0.50</text>
<g transform="translate(405.20 162.00) rotate(-90)">
<text transform="translate(0.28 0.00) scale(1.000 1.060)" font-family="DejaVu Sans, sans-serif" font-size="19.47" fill="#231f20" stroke="#231f20" stroke-width="0.3" font-style="italic">&#955;</text>
<text x="13.51" y="3.40" font-family="DejaVu Sans, sans-serif" font-size="13.23" fill="#231f20" stroke="#231f20" stroke-width="0.3">1</text>
<text x="22.02" y="0.57" font-family="DejaVu Sans, sans-serif" font-size="20.79" fill="#231f20" stroke="#231f20" stroke-width="0.3">/</text>
<text x="31.56" y="0.00" font-family="Liberation Serif, Times New Roman, serif" font-size="25.99" fill="#231f20" stroke="#231f20" stroke-width="0.3" font-style="italic">&#954;</text>
</g>
<text transform="translate(536.58 276.90) scale(1.000 1.060)" font-family="DejaVu Sans, sans-serif" font-size="19.47" fill="#231f20" stroke="#231f20" stroke-width="0.3" font-style="italic">&#955;</text>
<text x="549.81" y="280.30" font-family="DejaVu Sans, sans-serif" font-size="13.23" fill="#231f20" stroke="#231f20" stroke-width="0.3">2</text>
<text x="558.32" y="277.47" font-family="DejaVu Sans, sans-serif" font-size="20.79" fill="#231f20" stroke="#231f20" stroke-width="0.3">/</text>
<text x="567.86" y="276.90" font-family="Liberation Serif, Times New Roman, serif" font-size="25.99" fill="#231f20" stroke="#231f20" stroke-width="0.3" font-style="italic">&#954;</text>
<rect x="462.6" y="3.2" width="175" height="49.8" rx="4" fill="#fff" stroke="#d9d9d9" stroke-width="1.1"/>
<path d="M466 16.2H508.4" stroke="#2a79b6" stroke-width="2.7"/>
<text x="523.80" y="23.90" font-family="Liberation Sans, Arial, sans-serif" font-size="20.20" fill="#231f20" stroke="#231f20" stroke-width="0.3">EP2</text>
<circle cx="585.2" cy="16.3" r="3.9" fill="#d5282b"/>
<text x="597.20" y="23.90" font-family="Liberation Sans, Arial, sans-serif" font-size="20.20" fill="#231f20" stroke="#231f20" stroke-width="0.3">EP3</text>
<path d="M467.5 41.8H508.4" stroke="#2a79b6" stroke-width="2.7" stroke-dasharray="10.5 5.2"/>
<text x="523.80" y="48.60" font-family="Liberation Sans, Arial, sans-serif" font-size="20.20" fill="#231f20" stroke="#231f20" stroke-width="0.3">i-Fermi arc</text>
<text x="-1.80" y="305.50" font-family="Liberation Sans, Arial, sans-serif" font-size="32.50" fill="#231f20" stroke="#231f20" stroke-width="0.3">b</text>
<g clip-path="url(#clb)"><g filter="url(#bl)">
<g transform="translate(72.60 312.20) scale(2.000)" shape-rendering="crispEdges" fill="none">
<path stroke="#ffffff" d="M43 26h3m9 0h3M43 27h14M44 28h13M45 29h11M45 30h10M46 31h9M46 32h8M47 33h7M47 34h6M48 35h5M48 36h5M48 37h4M49 38h3M49 39h3M49 40h3M50 41h1M50 42h1M50 43h1M50 44h1M50 45h1M50 46h1M50 47h1M50 48h1M50 49h1M50 50h1M50 51h1M50 52h1M50 53h1M50 54h1M50 55h1M50 56h1M50 57h1M49 58h2M49 59h3M49 60h3M49 61h3M48 62h4M48 63h5M48 64h5M47 65h6M47 66h7M46 67h8M46 68h9M45 69h10M45 70h11M44 71h13M43 72h15M42 73h4m9 0h3M41 74h1"/>
<path stroke="#fefcf9" d="M49 41h1m1 0h1M49 42h1M49 57h1M51 58h1M53 65h1"/>
<path stroke="#fef9f4" d="M58 25h1M42 26h1m11 0h1M53 34h1M52 37h1M48 38h1M51 42h1M49 43h1m1 0h1M49 44h1m1 0h1M49 45h1m1 0h1M49 46h1m1 0h1M49 47h1m1 0h1M49 48h1m1 0h1M49 49h1m1 0h1M49 50h1m1 0h1M49 51h1m1 0h1M49 52h1m1 0h1M49 53h1m1 0h1M49 54h1m1 0h1M49 55h1m1 0h1M49 56h1m1 0h1M51 57h1M48 61h1M52 62h1M54 67h1M55 69h1"/>
<path stroke="#fdf6ef" d="M46 26h1M57 27h1M55 30h1M54 32h1M47 35h1M52 38h1M48 39h1M48 40h1M48 59h1M48 60h1m3 0h1M52 61h1M47 64h1"/>
<path stroke="#fdf3ea" d="M41 25h1M46 33h1M53 35h1M47 36h1M52 39h1M52 40h1M48 41h1m3 0h1M48 42h1m3 0h1M48 43h1m3 0h1M48 44h1m3 0h1M48 45h1m3 0h1M48 46h1m3 0h1M48 47h1m3 0h1M48 48h1m3 0h1M48 49h1m3 0h1M48 50h1m3 0h1M48 51h1m3 0h1M48 52h1m3 0h1M48 53h1m3 0h1M48 54h1m3 0h1M48 55h1m3 0h1M48 56h1m3 0h1M48 57h1m3 0h1M48 58h1m3 0h1M52 59h1M47 63h1M53 64h1M46 66h1M44 70h1"/>
<path stroke="#fdf0e5" d="M42 25h1M44 29h1M45 31h1M54 33h1M53 36h1M47 37h1m5 0h1M47 38h1M47 61h1M47 62h1m5 0h1M53 63h1M54 66h1M45 68h1M54 73h1m3 0h1"/>
<path stroke="#fcede0" d="M53 26h1m4 0h1M56 29h1M55 31h1M46 34h1m7 0h1M46 35h1M53 38h1M47 39h1m5 0h1M47 40h1m5 0h1M47 41h1m5 0h1M47 42h1m5 0h1M47 43h1m5 0h1M47 44h1M47 45h1M47 46h1M47 47h1M47 48h1M47 49h1M47 50h1M47 51h1M47 52h1M47 53h1M47 54h1M47 55h1M47 56h1m5 0h1M47 57h1m5 0h1M47 58h1m5 0h1M47 59h1m5 0h1M47 60h1m5 0h1M53 61h1M46 64h1M46 65h1m7 0h1M55 68h1M56 70h1M46 73h1M58 74h2"/>
<path stroke="#fceada" d="M59 25h1M47 26h1M43 28h1M45 32h1M54 35h1M46 36h1M46 37h1M53 44h1M53 45h1M53 46h1M53 47h1M53 48h1M53 49h1M53 50h1M53 51h1M53 52h1M53 53h1M53 54h1M53 55h1M46 62h1M46 63h1M54 64h1M45 67h1m9 0h1M44 69h1M43 71h1"/>
<path stroke="#fbe7d5" d="M48 26h1m3 0h1M44 30h1M55 32h1M45 33h1M54 36h1M54 37h1M46 38h1m7 0h1M46 39h1m7 0h1M46 40h1m7 0h1M46 41h1M46 42h1M46 43h1M46 44h1M46 45h1M46 46h1M46 47h1M46 48h1M46 49h1M46 50h1M46 51h1M46 52h1M46 53h1M46 54h1M46 55h1M46 56h1M46 57h1M46 58h1M46 59h1m7 0h1M46 60h1m7 0h1M46 61h1m7 0h1M54 62h1M54 63h1M45 66h1M56 69h1M57 71h1M47 73h1m5 0h1M42 74h1"/>
<path stroke="#fbe4cf" d="M49 26h3M57 28h1M56 30h1M44 31h1M55 33h1M45 34h1m9 0h1M45 35h1M54 41h1M54 42h1M54 43h1M54 44h1M54 45h1M54 46h1M54 47h1M54 48h1M54 49h1M54 50h1M54 51h1M54 52h1M54 53h1M54 54h1M54 55h1M54 56h1M54 57h1M54 58h1M45 64h1M45 65h1m9 0h1M55 66h1M44 68h1M42 72h1M48 73h1m3 0h1"/>
<path stroke="#fbe1c9" d="M60 24h1M57 25h1M42 27h1M43 29h1M56 31h1M44 32h1M55 35h1M45 36h1m9 0h1M45 37h1m9 0h1M45 38h1M45 39h1M45 40h1M45 41h1M45 42h1M45 43h1M45 44h1M45 45h1M45 46h1M45 47h1M45 48h1M45 49h1M45 50h1M45 51h1M45 52h1M45 53h1M45 54h1M45 55h1M45 56h1M45 57h1M45 58h1M45 59h1M45 60h1M45 61h1M45 62h1m9 0h1M45 63h1m9 0h1M55 64h1M44 67h1M56 68h1M43 70h1M49 73h3"/>
<path stroke="#faddc3" d="M43 25h1M58 27h1M57 29h1M56 32h1M44 33h1M44 34h1M55 38h1M55 39h1M55 40h1M55 41h1M55 42h1M55 43h1M55 44h1M55 45h1M55 46h1M55 47h1M55 48h1M55 49h1M55 50h1M55 51h1M55 52h1M55 53h1M55 54h1M55 55h1M55 56h1M55 57h1M55 58h1M55 59h1M55 60h1M55 61h1M44 65h1M44 66h1m11 0h1M56 67h1M43 69h1M57 70h1M58 72h1"/>
<path stroke="#fadabd" d="M40 24h1M41 26h1M42 28h1M43 30h1m13 0h1M56 33h1M56 34h1M44 35h1m11 0h1M44 36h1M44 37h1M44 38h1M44 39h1M44 40h1M44 41h1M44 42h1M44 43h1M44 44h1M44 45h1M44 46h1M44 47h1M44 48h1M44 49h1M44 50h1M44 51h1M44 52h1M44 53h1M44 54h1M44 55h1M44 56h1M44 57h1M44 58h1M44 59h1M44 60h1M44 61h1M44 62h1M44 63h1M44 64h1m11 0h1M56 65h1M43 68h1M57 69h1M42 71h1M41 73h1M57 74h1"/>
<path stroke="#fad6b6" d="M56 25h1M59 26h1M58 28h1M43 31h1m13 0h1M43 32h1M56 36h1M56 37h1M56 38h1M56 39h1M56 40h1M56 41h1M56 42h1M56 43h1M56 44h1M56 45h1M56 46h1M56 47h1M56 48h1M56 49h1M56 50h1M56 51h1M56 52h1M56 53h1M56 54h1M56 55h1M56 56h1M56 57h1M56 58h1M56 59h1M56 60h1M56 61h1M56 62h1M56 63h1M43 67h1M57 68h1M58 71h1M59 73h1M43 74h1M60 75h1"/>
<path stroke="#f9d3b0" d="M44 25h1M42 29h1M57 32h1M43 33h1m13 0h1M43 34h1M43 35h1M43 36h1M43 48h1M43 49h1M43 50h1M43 51h1M43 63h1M43 64h1M43 65h1m13 0h1M43 66h1m13 0h1M57 67h1M42 70h1m15 0h1M40 74h1m15 0h1M40 75h1"/>
<path stroke="#f9d0aa" d="M40 25h1m4 0h1m9 0h1M41 27h1M58 29h1M42 30h1m15 0h1M42 31h1M57 34h1M57 35h1M57 36h1M43 37h1m13 0h1M43 38h1m13 0h1M43 39h1m13 0h1M43 40h1m13 0h1M43 41h1m13 0h1M43 42h1m13 0h1M43 43h1m13 0h1M43 44h1m13 0h1M43 45h1m13 0h1M43 46h1m13 0h1M43 47h1m13 0h1M57 48h1M57 49h1M57 50h1M57 51h1M43 52h1m13 0h1M43 53h1m13 0h1M43 54h1m13 0h1M43 55h1m13 0h1M43 56h1m13 0h1M43 57h1m13 0h1M43 58h1m13 0h1M43 59h1m13 0h1M43 60h1m13 0h1M43 61h1m13 0h1M43 62h1m13 0h1M57 63h1M57 64h1M42 68h1M42 69h1m15 0h1M41 72h1m17 0h1M44 74h1"/>
<path stroke="#f8cca4" d="M59 24h1M54 25h1m5 0h1M59 27h1M41 28h1M58 31h1M42 32h1m15 0h1M42 33h1M42 34h1M42 65h1M42 66h1M42 67h1m15 0h1M58 68h1M41 71h1M45 74h1m9 0h1m4 0h1"/>
<path stroke="#f8c89d" d="M41 24h1M46 25h2m5 0h1M40 26h1M59 28h1M41 29h1M58 33h1M58 34h1M42 35h1m15 0h1M42 36h1m15 0h1M42 37h1m15 0h1M42 38h1m15 0h1M42 39h1m15 0h1M42 40h1m15 0h1M42 41h1m15 0h1M42 42h1m15 0h1M42 43h1m15 0h1M42 44h1m15 0h1M42 45h1m15 0h1M42 46h1m15 0h1M42 47h1m15 0h1M42 48h1m15 0h1M42 49h1m15 0h1M42 50h1m15 0h1M42 51h1m15 0h1M42 52h1m15 0h1M42 53h1m15 0h1M42 54h1m15 0h1M42 55h1m15 0h1M42 56h1m15 0h1M42 57h1m15 0h1M42 58h1m15 0h1M42 59h1m15 0h1M42 60h1m15 0h1M42 61h1m15 0h1M42 62h1m15 0h1M42 63h1m15 0h1M42 64h1m15 0h1M58 65h1M58 66h1M41 70h1M59 71h1M40 73h1M46 74h1m7 0h1M59 75h1"/>
<path stroke="#f8c596" d="M39 24h1M48 25h5M60 26h1M59 29h1M41 30h1m17 0h1M41 31h1M41 67h1M41 68h1M41 69h1m17 0h1M59 70h1M60 73h1M47 74h1m4 0h2M39 75h1m1 0h1"/>
<path stroke="#f7c18f" d="M42 24h1m15 0h1m2 0h1M40 27h1m19 0h1M59 31h1M41 32h1m17 0h1M41 33h1m17 0h1M41 34h1m17 0h1M41 35h1m17 0h1M41 36h1m17 0h1M41 37h1m17 0h1M41 38h1m17 0h1M41 39h1m17 0h1M41 40h1m17 0h1M41 41h1m17 0h1M41 42h1m17 0h1M41 43h1m17 0h1M41 44h1m17 0h1M41 45h1m17 0h1M41 46h1m17 0h1M41 47h1m17 0h1M41 48h1m17 0h1M41 49h1m17 0h1M41 50h1m17 0h1M41 51h1m17 0h1M41 52h1m17 0h1M41 53h1m17 0h1M41 54h1m17 0h1M41 55h1m17 0h1M41 56h1m17 0h1M41 57h1m17 0h1M41 58h1m17 0h1M41 59h1m17 0h1M41 60h1m17 0h1M41 61h1m17 0h1M41 62h1m17 0h1M41 63h1m17 0h1M41 64h1m17 0h1M41 65h1m17 0h1M41 66h1m17 0h1M59 67h1M59 68h1M40 71h1M40 72h1m19 0h1M48 74h4M61 75h1"/>
<path stroke="#f7be88" d="M39 25h1M40 28h1m19 0h1M40 29h1M40 70h1M60 71h1M39 74h1M42 75h1m15 0h1"/>
<path stroke="#f7ba81" d="M43 24h1m13 0h1M61 25h1M39 26h1M60 29h1M40 30h1m19 0h1M40 31h1m19 0h1M40 32h1M40 33h1M40 34h1M40 35h1M40 36h1M40 37h1M40 38h1M40 39h1M40 40h1M40 41h1m19 0h1M40 42h1m19 0h1M40 43h1m19 0h1M40 44h1m19 0h1M40 45h1m19 0h1M40 46h1m19 0h1M40 47h1m19 0h1M40 48h1m19 0h1M40 49h1m19 0h1M40 50h1m19 0h1M40 51h1m19 0h1M40 52h1m19 0h1M40 53h1m19 0h1M40 54h1m19 0h1M40 55h1m19 0h1M40 56h1m19 0h1M40 57h1m19 0h1M40 58h1m19 0h1M40 59h1M40 60h1M40 61h1M40 62h1M40 63h1M40 64h1M40 65h1M40 66h1M40 67h1M40 68h1m19 0h1M40 69h1m19 0h1M60 70h1M39 73h1M61 74h1M57 75h1"/>
<path stroke="#f6b67a" d="M61 23h1M44 24h1m11 0h1M61 26h1M39 27h1M60 32h1M60 33h1M60 34h1M60 35h1M60 36h1M60 37h1M60 38h1M60 39h1M60 40h1M60 59h1M60 60h1M60 61h1M60 62h1M60 63h1M60 64h1M60 65h1M60 66h1M60 67h1M39 72h1M61 73h1M43 75h1m12 0h1"/>
<path stroke="#f6b373" d="M39 23h1M38 24h1m6 0h2m7 0h2M61 27h1M39 28h1m21 0h1M39 29h1M39 30h1M39 31h1M39 32h1M39 36h1M39 37h1M39 38h1M39 39h1M39 40h1M39 41h1M39 42h1M39 43h1M39 44h1m21 0h1M39 45h1m21 0h1M39 46h1m21 0h1M39 47h1m21 0h1M39 48h1m21 0h1M39 49h1m21 0h1M39 50h1m21 0h1M39 51h1m21 0h1M39 52h1m21 0h1M39 53h1m21 0h1M39 54h1m21 0h1M39 55h1m21 0h1M39 56h1M39 57h1M39 58h1M39 59h1M39 60h1M39 61h1M39 62h1M39 67h1M39 68h1M39 69h1M39 70h1M39 71h1m21 0h1M61 72h1M38 75h1m5 0h2m9 0h1M39 76h1m21 0h1"/>
<path stroke="#f5af6c" d="M38 23h1m1 0h1m19 0h1M47 24h7m8 0h1M38 25h1M61 29h1M61 30h1M61 31h1M61 32h1M39 33h1m21 0h1M39 34h1m21 0h1M39 35h1m21 0h1M61 36h1M61 37h1M61 38h1M61 39h1M61 40h1M61 41h1M61 42h1M61 43h1M61 56h1M61 57h1M61 58h1M61 59h1M61 60h1M61 61h1M61 62h1M39 63h1m21 0h1M39 64h1m21 0h1M39 65h1m21 0h1M39 66h1m21 0h1M61 67h1M61 68h1M61 69h1M61 70h1M38 74h1M46 75h2m5 0h2m7 0h1M38 76h1"/>
<path stroke="#f5ac66" d="M41 23h1m17 0h1m2 0h1M62 25h1M38 26h1m23 0h1M38 27h1M38 39h1M38 40h1M38 41h1M38 42h1M38 43h1M38 44h1M38 45h1M38 46h1m23 0h1M38 47h1m23 0h1M38 48h1m23 0h1M38 49h1m23 0h1M38 50h1m23 0h1M38 51h1m23 0h1M38 52h1m23 0h1M38 53h1m23 0h1M38 54h1M38 55h1M38 56h1M38 57h1M38 58h1M38 59h1M38 71h1M38 72h1M38 73h1m23 0h1M62 74h1M48 75h5M40 76h1m19 0h1m1 0h1"/>
<path stroke="#f5a85f" d="M42 23h1m15 0h1M62 27h1M38 28h1m23 0h1M38 29h1m23 0h1M38 30h1m23 0h1M38 31h1m23 0h1M38 32h1m23 0h1M38 33h1m23 0h1M38 34h1m23 0h1M38 35h1m23 0h1M38 36h1m23 0h1M38 37h1m23 0h1M38 38h1m23 0h1M62 39h1M62 40h1M62 41h1M62 42h1M62 43h1M62 44h1M62 45h1M62 54h1M62 55h1M62 56h1M62 57h1M62 58h1M62 59h1M38 60h1m23 0h1M38 61h1m23 0h1M38 62h1m23 0h1M38 63h1m23 0h1M38 64h1m23 0h1M38 65h1m23 0h1M38 66h1m23 0h1M38 67h1m23 0h1M38 68h1m23 0h1M38 69h1m23 0h1M38 70h1m23 0h1M62 71h1M62 72h1M41 76h1m17 0h1"/>
<path stroke="#f4a558" d="M43 23h1m13 0h1M37 41h1M37 42h1M37 43h1M37 44h1M37 45h1M37 46h1M37 47h1M37 48h1M37 49h1m25 0h1M37 50h1m25 0h1M37 51h1M37 52h1M37 53h1M37 54h1M37 55h1M37 56h1M37 57h1M37 58h1M42 76h1m15 0h1"/>
<path stroke="#f4a251" d="M37 23h1m6 0h2m9 0h2M37 24h1m25 0h1M37 25h1M37 26h1M37 27h1M37 28h1M37 29h1M37 30h1M37 31h1M37 32h1M37 33h1M37 34h1M37 35h1m25 0h1M37 36h1m25 0h1M37 37h1m25 0h1M37 38h1m25 0h1M37 39h1m25 0h1M37 40h1m25 0h1M63 41h1M63 42h1M63 43h1M63 44h1M63 45h1M63 46h1M63 47h1M63 48h1M63 51h1M63 52h1M63 53h1M63 54h1M63 55h1M63 56h1M63 57h1M63 58h1M37 59h1m25 0h1M37 60h1m25 0h1M37 61h1m25 0h1M37 62h1m25 0h1M37 63h1m25 0h1M37 64h1M37 65h1M37 66h1M37 67h1M37 68h1M37 69h1M37 70h1M37 71h1M37 72h1M37 73h1M37 74h1m25 0h1M37 75h1m25 0h1M37 76h1m5 0h2m11 0h2"/>
<path stroke="#f39e4a" d="M46 23h9m8 0h1M63 25h1M63 26h1M63 27h1M63 28h1M63 29h1M63 30h1M63 31h1M63 32h1M63 33h1M63 34h1M36 43h1M36 44h1M36 45h1M36 46h1M36 47h1M36 48h1M36 49h1M36 50h1M36 51h1M36 52h1M36 53h1M36 54h1M36 55h1M36 56h1M63 64h1M63 65h1M63 66h1M63 67h1M63 68h1M63 69h1M63 70h1M63 71h1M63 72h1M63 73h1M45 76h2m7 0h2m7 0h1"/>
<path stroke="#f39b43" d="M38 22h2m21 0h2M36 34h1M36 35h1M36 36h1M36 37h1m27 0h1M36 38h1m27 0h1M36 39h1m27 0h1M36 40h1m27 0h1M36 41h1m27 0h1M36 42h1m27 0h1M64 43h1M64 44h1M64 45h1M64 46h1M64 47h1M64 48h1M64 49h1M64 50h1M64 51h1M64 52h1M64 53h1M64 54h1M64 55h1M64 56h1M36 57h1m27 0h1M36 58h1m27 0h1M36 59h1m27 0h1M36 60h1m27 0h1M36 61h1m27 0h1M36 62h1m27 0h1M36 63h1M36 64h1M36 65h1M47 76h7M38 77h1m23 0h1"/>
<path stroke="#f3983c" d="M37 22h1m2 0h2m17 0h2m2 0h1M36 24h1M36 25h1M36 26h1M36 27h1M36 28h1M36 29h1m27 0h1M36 30h1m27 0h1M36 31h1m27 0h1M36 32h1m27 0h1M36 33h1m27 0h1M64 34h1M64 35h1M64 36h1M35 44h1M35 45h1M35 46h1M35 47h1M35 48h1M35 49h1M35 50h1M35 51h1M35 52h1M35 53h1M35 54h1M35 55h1M64 63h1M64 64h1M64 65h1M36 66h1m27 0h1M36 67h1m27 0h1M36 68h1m27 0h1M36 69h1m27 0h1M36 70h1m27 0h1M36 71h1M36 72h1M36 73h1M36 74h1M36 75h1M37 77h1m1 0h2m19 0h2"/>
<path stroke="#f29435" d="M42 22h2m13 0h2M36 23h1m27 0h1M64 24h1M64 25h1M64 26h1M64 27h1M64 28h1M35 36h1M35 37h1M35 38h1M35 39h1m29 0h1M35 40h1m29 0h1M35 41h1m29 0h1M35 42h1m29 0h1M35 43h1m29 0h1M65 44h1M65 45h1M65 46h1M65 47h1M65 48h1M65 49h1M65 50h1M65 51h1M65 52h1M65 53h1M65 54h1M65 55h1M35 56h1m29 0h1M35 57h1m29 0h1M35 58h1m29 0h1M35 59h1m29 0h1M35 60h1m29 0h1M35 61h1M35 62h1M35 63h1M64 71h1M64 72h1M64 73h1M64 74h1M64 75h1M36 76h1m27 0h1M41 77h1m16 0h2m3 0h1"/>
<path stroke="#f2912e" d="M36 22h1m7 0h3m7 0h3M35 29h1M35 30h1M35 31h1M35 32h1m29 0h1M35 33h1m29 0h1M35 34h1m29 0h1M35 35h1m29 0h1M65 36h1M65 37h1M65 38h1M34 46h1M34 47h1M34 48h1M34 49h1M34 50h1M34 51h1M34 52h1M34 53h1M65 61h1M65 62h1M65 63h1M35 64h1m29 0h1M35 65h1m29 0h1M35 66h1m29 0h1M35 67h1m29 0h1M35 68h1M35 69h1M35 70h1M42 77h3m11 0h2"/>
<path stroke="#f18d2b" d="M47 22h7m10 0h1M35 24h1M35 25h1M35 26h1m29 0h1M35 27h1m29 0h1M35 28h1m29 0h1M65 29h1M65 30h1M65 31h1M34 37h1M34 38h1M34 39h1M34 40h1m31 0h1M34 41h1m31 0h1M34 42h1m31 0h1M34 43h1m31 0h1M34 44h1m31 0h1M34 45h1m31 0h1M66 46h1M66 47h1M66 48h1M66 49h1M66 50h1M66 51h1M66 52h1M66 53h1M34 54h1m31 0h1M34 55h1m31 0h1M34 56h1m31 0h1M34 57h1m31 0h1M34 58h1m31 0h1M34 59h1m31 0h1M34 60h1M34 61h1M34 62h1M65 68h1M65 69h1M65 70h1M35 71h1m29 0h1M35 72h1m29 0h1M35 73h1m29 0h1M35 74h1M35 75h1M36 77h1m8 0h11m8 0h1"/>
<path stroke="#f18a29" d="M35 23h1M65 24h1M65 25h1M34 31h1M34 32h1M34 33h1M34 34h1m31 0h1M34 35h1m31 0h1M34 36h1m31 0h1M66 37h1M66 38h1M66 39h1M33 48h1M33 49h1M33 50h1M33 51h1M66 60h1M66 61h1M66 62h1M34 63h1m31 0h1M34 64h1m31 0h1M34 65h1m31 0h1M34 66h1M34 67h1M65 74h1M65 75h1M35 76h1"/>
<path stroke="#f18728" d="M37 21h5m17 0h5M35 22h1M65 23h1M34 27h1M34 28h1M34 29h1m31 0h1M34 30h1m31 0h1M66 31h1M66 32h1M66 33h1M33 38h1M33 39h1M33 40h1M33 41h1m33 0h1M33 42h1m33 0h1M33 43h1m33 0h1M33 44h1m33 0h1M33 45h1m33 0h1M33 46h1m33 0h1M33 47h1m33 0h1M67 48h1M67 49h1M67 50h1M67 51h1M33 52h1m33 0h1M33 53h1m33 0h1M33 54h1m33 0h1M33 55h1m33 0h1M33 56h1m33 0h1M33 57h1m33 0h1M33 58h1m33 0h1M33 59h1M33 60h1M33 61h1M66 66h1M66 67h1M34 68h1m31 0h1M34 69h1m31 0h1M34 70h1m31 0h1M34 71h1M34 72h1M65 76h1M35 77h1M37 78h3m21 0h3"/>
<path stroke="#f18327" d="M36 21h1m5 0h3m10 0h4m5 0h1M65 22h1M34 24h1M34 25h1M34 26h1m31 0h1M66 27h1M66 28h1M33 33h1M33 34h1M33 35h1m33 0h1M33 36h1m33 0h1M33 37h1m33 0h1M67 38h1M67 39h1M67 40h1M67 59h1M67 60h1M67 61h1M33 62h1m33 0h1M33 63h1m33 0h1M33 64h1m33 0h1M33 65h1M33 66h1M66 71h1M66 72h1M34 73h1m31 0h1M34 74h1M34 75h1M65 77h1M36 78h1m3 0h4m13 0h4"/>
<path stroke="#f18026" d="M45 21h10M34 23h1M66 24h1M66 25h1M33 29h1M33 30h1M33 31h1m33 0h1M33 32h1m33 0h1M67 33h1M67 34h1M32 39h1M32 40h1M32 41h1M32 42h1m35 0h1M32 43h1m35 0h1M32 44h1m35 0h1M32 45h1m35 0h1M32 46h1m35 0h1M32 47h1m35 0h1M32 48h1m35 0h1M32 49h1m35 0h1M32 50h1m35 0h1M32 51h1m35 0h1M32 52h1m35 0h1M32 53h1m35 0h1M32 54h1m35 0h1M32 55h1m35 0h1M32 56h1m35 0h1M32 57h1m35 0h1M32 58h1M32 59h1M32 60h1M67 65h1M67 66h1M33 67h1m33 0h1M33 68h1m33 0h1M33 69h1M33 70h1M66 74h1M66 75h1M34 76h1M44 78h13m7 0h1"/>
<path stroke="#f07d24" d="M35 21h1m29 0h1M34 22h1M66 23h1M33 26h1M33 27h1m33 0h1M33 28h1m33 0h1M67 29h1M67 30h1M32 34h1M32 35h1M32 36h1m35 0h1M32 37h1m35 0h1M32 38h1m35 0h1M68 39h1M68 40h1M68 41h1M68 58h1M68 59h1M68 60h1M32 61h1m35 0h1M32 62h1m35 0h1M32 63h1m35 0h1M32 64h1M32 65h1M67 69h1M67 70h1M33 71h1m33 0h1M33 72h1m33 0h1M33 73h1M66 76h1M34 77h1M35 78h1m29 0h1"/>
<path stroke="#f07923" d="M66 22h1M33 24h1M33 25h1m33 0h1M67 26h1M32 30h1M32 31h1M32 32h1m35 0h1M32 33h1m35 0h1M68 34h1M68 35h1M31 40h1M31 41h1M31 42h1M31 43h1m37 0h1M31 44h1m37 0h1M31 45h1m37 0h1M31 46h1m37 0h1M31 47h1m37 0h1M31 48h1m37 0h1M31 49h1m37 0h1M31 50h1m37 0h1M31 51h1m37 0h1M31 52h1m37 0h1M31 53h1m37 0h1M31 54h1m37 0h1M31 55h1m37 0h1M31 56h1m37 0h1M31 57h1M31 58h1M31 59h1M68 64h1M68 65h1M32 66h1m35 0h1M32 67h1m35 0h1M32 68h1M32 69h1M67 73h1M33 74h1m33 0h1M33 75h1M66 77h1"/>
<path stroke="#f07622" d="M36 20h9m10 0h10M34 21h1M33 23h1M67 24h1M32 27h1M32 28h1M32 29h1m35 0h1M68 30h1M68 31h1M31 35h1M31 36h1M31 37h1m37 0h1M31 38h1m37 0h1M31 39h1m37 0h1M69 40h1M69 41h1M69 42h1M69 57h1M69 58h1M69 59h1M31 60h1m37 0h1M31 61h1m37 0h1M31 62h1m37 0h1M31 63h1M31 64h1M68 68h1M68 69h1M32 70h1m35 0h1M32 71h1M32 72h1M67 75h1M33 76h1M34 78h1M37 79h6m15 0h6"/>
<path stroke="#f07321" d="M35 20h1m9 0h10M66 21h1M33 22h1M67 23h1M32 25h1M32 26h1m35 0h1M68 27h1M68 28h1M31 31h1M31 32h1M31 33h1m37 0h1M31 34h1m37 0h1M69 35h1M69 36h1M30 41h1M30 42h1M30 43h1M30 44h1m39 0h1M30 45h1m39 0h1M30 46h1m39 0h1M30 47h1m39 0h1M30 48h1m39 0h1M30 49h1m39 0h1M30 50h1m39 0h1M30 51h1m39 0h1M30 52h1m39 0h1M30 53h1m39 0h1M30 54h1m39 0h1M30 55h1m39 0h1M30 56h1M30 57h1M30 58h1M69 63h1M69 64h1M31 65h1m37 0h1M31 66h1m37 0h1M31 67h1M31 68h1M68 71h1M68 72h1M32 73h1m35 0h1M32 74h1M67 76h1M33 77h1M66 78h1M36 79h1m6 0h15m6 0h1"/>
<path stroke="#ef6f1f" d="M65 20h1M67 22h1M32 24h1m35 0h1M68 25h1M31 28h1M31 29h1M31 30h1m37 0h1M69 31h1M69 32h1M30 36h1M30 37h1M30 38h1m39 0h1M30 39h1m39 0h1M30 40h1m39 0h1M70 41h1M70 42h1M70 43h1M70 56h1M70 57h1M70 58h1M30 59h1m39 0h1M30 60h1m39 0h1M30 61h1m39 0h1M30 62h1M30 63h1M69 67h1M69 68h1M31 69h1m37 0h1M31 70h1M31 71h1M68 74h1M32 75h1M67 77h1M35 79h1m29 0h1"/>
<path stroke="#ee6b1f" d="M34 20h1m31 0h1M33 21h1m33 0h1M32 23h1m35 0h1M31 26h1M31 27h1m37 0h1M69 28h1M69 29h1M30 32h1M30 33h1M30 34h1m39 0h1M30 35h1m39 0h1M70 36h1M70 37h1M29 41h1M29 42h1M29 43h1M29 44h1M29 45h1m41 0h1M29 46h1m41 0h1M29 47h1m41 0h1M29 48h1m41 0h1M29 49h1m41 0h1M29 50h1m41 0h1M29 51h1m41 0h1M29 52h1m41 0h1M29 53h1m41 0h1M29 54h1m41 0h1M29 55h1M29 56h1M29 57h1M70 62h1M70 63h1M30 64h1m39 0h1M30 65h1m39 0h1M30 66h1M30 67h1M69 70h1M69 71h1M31 72h1m37 0h1M31 73h1M68 75h1M32 76h1m35 0h1M33 78h1m33 0h1M34 79h1"/>
<path stroke="#ed671e" d="M37 19h27M32 22h1m35 0h1M31 25h1m37 0h1M69 26h1M30 29h1M30 30h1m39 0h1M30 31h1m39 0h1M70 32h1M70 33h1M29 36h1M29 37h1M29 38h1m41 0h1M29 39h1m41 0h1M29 40h1m41 0h1M71 41h1M71 42h1M71 43h1M71 44h1M71 55h1M71 56h1M71 57h1M29 58h1m41 0h1M29 59h1m41 0h1M29 60h1m41 0h1M29 61h1m41 0h1M29 62h1M29 63h1M70 66h1M70 67h1M30 68h1m39 0h1M30 69h1M30 70h1M69 73h1M31 74h1m37 0h1M32 77h1m35 0h1M66 79h1M38 80h6m13 0h6"/>
<path stroke="#ec631d" d="M35 19h2m27 0h2M33 20h1m33 0h1M32 21h1M31 23h1M31 24h1m37 0h1M30 27h1M30 28h1m39 0h1M70 29h1M29 33h1M29 34h1m41 0h1M29 35h1m41 0h1M71 36h1M71 37h1M28 42h1M28 43h1M28 44h1M28 45h1M28 46h1m43 0h1M28 47h1m43 0h1M28 48h1m43 0h1M28 49h1m43 0h1M28 50h1m43 0h1M28 51h1m43 0h1M28 52h1m43 0h1M28 53h1M28 54h1M28 55h1M28 56h1M28 57h1M71 62h1M71 63h1M29 64h1m41 0h1M29 65h1m41 0h1M29 66h1M70 69h1M70 70h1M30 71h1m39 0h1M30 72h1M31 75h1m37 0h1M31 76h1M32 78h1M33 79h1M36 80h2m6 0h13m6 0h2"/>
<path stroke="#eb5f1c" d="M34 19h1M68 21h1M31 22h1M69 23h1M30 25h1M30 26h1m39 0h1M70 27h1M29 30h1M29 31h1m41 0h1M29 32h1m41 0h1M71 33h1M28 37h1M28 38h1M28 39h1m43 0h1M28 40h1m43 0h1M28 41h1m43 0h1M72 42h1M72 43h1M72 44h1M72 45h1M72 53h1M72 54h1M72 55h1M72 56h1M72 57h1M28 58h1m43 0h1M28 59h1m43 0h1M28 60h1m43 0h1M28 61h1M28 62h1M71 66h1M29 67h1m41 0h1M29 68h1m41 0h1M29 69h1M70 72h1M30 73h1m39 0h1M30 74h1M69 76h1M68 78h1M67 79h1M35 80h1m29 0h1"/>
<path stroke="#ea5b1c" d="M66 19h1M32 20h1M69 22h1M30 24h1M70 25h1M29 28h1M29 29h1m41 0h1M71 30h1M28 33h1M28 34h1M28 35h1m43 0h1M28 36h1m43 0h1M72 37h1M72 38h1M27 43h1M27 44h1M27 45h1M27 46h1M27 47h1M27 48h1M27 49h1m45 0h1M27 50h1m45 0h1M27 51h1M27 52h1M27 53h1M27 54h1M27 55h1M27 56h1M72 61h1M72 62h1M28 63h1m43 0h1M28 64h1m43 0h1M28 65h1M71 69h1M29 70h1m41 0h1M29 71h1M70 74h1M30 75h1M31 77h1m37 0h1M32 79h1M34 80h1m31 0h1"/>
<path stroke="#e9571b" d="M36 18h28M33 19h1m33 0h1M68 20h1M31 21h1m37 0h1M30 23h1m39 0h1M70 24h1M29 26h1M29 27h1m41 0h1M71 28h1M28 31h1M28 32h1m43 0h1M72 33h1M72 34h1M27 38h1M27 39h1M27 40h1m45 0h1M27 41h1m45 0h1M27 42h1m45 0h1M73 43h1M73 44h1M73 45h1M73 46h1M73 47h1M73 48h1M73 51h1M73 52h1M73 53h1M73 54h1M73 55h1M73 56h1M27 57h1m45 0h1M27 58h1m45 0h1M27 59h1m45 0h1M27 60h1M27 61h1M72 65h1M28 66h1m43 0h1M28 67h1m43 0h1M28 68h1M71 71h1M29 72h1m41 0h1M29 73h1M70 75h1M30 76h1M31 78h1m37 0h1M68 79h1M33 80h1m33 0h1M38 81h25"/>
<path stroke="#e8531a" d="M35 18h1m28 0h2M31 20h1M30 22h1m39 0h1M29 25h1m41 0h1M71 26h1M28 28h1M28 29h1m43 0h1M28 30h1m43 0h1M72 31h1M27 34h1M27 35h1m45 0h1M27 36h1m45 0h1M27 37h1m45 0h1M73 38h1M73 39h1M26 44h1M26 45h1M26 46h1M26 47h1M26 48h1M26 49h1M26 50h1M26 51h1M26 52h1M26 53h1M26 54h1M26 55h1M73 60h1M73 61h1M27 62h1m45 0h1M27 63h1m45 0h1M27 64h1M27 65h1M72 68h1M28 69h1m43 0h1M28 70h1M71 73h1M29 74h1m41 0h1M70 76h1M30 77h1M35 81h3m25 0h2"/>
<path stroke="#e74f1a" d="M34 18h1m31 0h1M32 19h1m35 0h1M69 20h1M30 21h1M29 23h1M29 24h1m41 0h1M28 27h1m43 0h1M72 28h1M27 31h1M27 32h1m45 0h1M27 33h1m45 0h1M73 34h1M26 38h1M26 39h1M26 40h1m47 0h1M26 41h1m47 0h1M26 42h1m47 0h1M26 43h1m47 0h1M74 44h1M74 45h1M74 46h1M74 47h1M74 48h1M74 49h1M74 50h1M74 51h1M74 52h1M74 53h1M74 54h1M74 55h1M26 56h1m47 0h1M26 57h1m47 0h1M26 58h1m47 0h1M26 59h1m47 0h1M26 60h1M26 61h1M73 64h1M73 65h1M27 66h1m45 0h1M27 67h1M27 68h1M72 70h1M28 71h1m43 0h1M28 72h1M29 75h1m41 0h1M70 77h1M30 78h1M31 79h1m37 0h1M32 80h1m35 0h1M34 81h1m30 0h2"/>
<path stroke="#e64c1a" d="M39 17h23M33 18h1m33 0h1M70 21h1M29 22h1M71 23h1M28 25h1M28 26h1m43 0h1M27 29h1M27 30h1m45 0h1M73 31h1M26 35h1M26 36h1m47 0h1M26 37h1m47 0h1M74 38h1M74 39h1M25 45h1M25 46h1M25 47h1M25 48h1M25 49h1M25 50h1M25 51h1M25 52h1M25 53h1M25 54h1M74 60h1M74 61h1M26 62h1m47 0h1M26 63h1m47 0h1M26 64h1M73 67h1M73 68h1M27 69h1m45 0h1M27 70h1M72 72h1M28 73h1m43 0h1M28 74h1M29 76h1m41 0h1M70 78h1M33 81h1M46 82h3m3 0h3"/>
<path stroke="#e4491b" d="M36 17h3m23 0h3M31 19h1m37 0h1M30 20h1m39 0h1M71 22h1M28 24h1m43 0h1M72 25h1M27 27h1M27 28h1m45 0h1M73 29h1M26 32h1M26 33h1m47 0h1M26 34h1m47 0h1M74 35h1M25 39h1M25 40h1M25 41h1m49 0h1M25 42h1m49 0h1M25 43h1m49 0h1M25 44h1m49 0h1M75 45h1M75 46h1M75 47h1M75 48h1M75 49h1M75 50h1M75 51h1M75 52h1M75 53h1M75 54h1M25 55h1m49 0h1M25 56h1m49 0h1M25 57h1m49 0h1M25 58h1m49 0h1M25 59h1M25 60h1M74 64h1M26 65h1m47 0h1M26 66h1m47 0h1M26 67h1M73 70h1M27 71h1m45 0h1M27 72h1M72 74h1M28 75h1M29 77h1m41 0h1M30 79h1m39 0h1M31 80h1m37 0h1M67 81h1M37 82h9m3 0h3m3 0h9"/>
<path stroke="#e2461b" d="M34 17h2m29 0h1M32 18h1m35 0h1M29 21h1m41 0h1M28 23h1m43 0h1M27 26h1m45 0h1M73 27h1M26 30h1M26 31h1m47 0h1M74 32h1M25 35h1M25 36h1M25 37h1m49 0h1M25 38h1m49 0h1M75 39h1M75 40h1M24 46h1M24 47h1M24 48h1M24 49h1M24 50h1M24 51h1M24 52h1M24 53h1M75 59h1M75 60h1M25 61h1m49 0h1M25 62h1m49 0h1M25 63h1M25 64h1M74 67h1M26 68h1m47 0h1M26 69h1M73 72h1M27 73h1m45 0h1M72 75h1M28 76h1m43 0h1M29 78h1m41 0h1M32 81h1m35 0h1M35 82h2m27 0h2"/>
<path stroke="#e1431c" d="M44 16h13M33 17h1m32 0h1M31 18h1M30 19h1m39 0h1M29 20h1M28 22h1m43 0h1M27 24h1M27 25h1m45 0h1M26 28h1M26 29h1m47 0h1M74 30h1M25 32h1M25 33h1m49 0h1M25 34h1m49 0h1M75 35h1M75 36h1M24 39h1M24 40h1M24 41h1M24 42h1m51 0h1M24 43h1m51 0h1M24 44h1m51 0h1M24 45h1m51 0h1M76 46h1M76 47h1M76 48h1M76 49h1M76 50h1M76 51h1M76 52h1M76 53h1M24 54h1m51 0h1M24 55h1m51 0h1M24 56h1m51 0h1M24 57h1m51 0h1M24 58h1M24 59h1M75 63h1M75 64h1M25 65h1m49 0h1M25 66h1M25 67h1M74 69h1M26 70h1m47 0h1M26 71h1M27 74h1m45 0h1M27 75h1M28 77h1m43 0h1M29 79h1M30 80h1m39 0h1M31 81h1M34 82h1m31 0h1"/>
<path stroke="#df3f1d" d="M37 16h7m13 0h7M67 17h1M69 18h1M71 20h1M28 21h1M27 23h1M73 24h1M26 26h1M26 27h1m47 0h1M74 28h1M25 30h1M25 31h1m49 0h1M75 32h1M24 36h1M24 37h1m51 0h1M24 38h1m51 0h1M76 39h1M76 40h1M76 41h1M23 48h1M23 49h1M23 50h1M23 51h1M76 58h1M76 59h1M24 60h1m51 0h1M24 61h1m51 0h1M24 62h1m51 0h1M24 63h1M75 66h1M75 67h1M25 68h1m49 0h1M25 69h1M74 71h1M26 72h1m47 0h1M26 73h1M73 75h1M27 76h1M28 78h1M71 79h1M69 81h1M33 82h1m33 0h1M38 83h24"/>
<path stroke="#dd3c1d" d="M35 16h2m27 0h2M32 17h1m35 0h1M30 18h1m39 0h1M29 19h1m41 0h1M28 20h1M72 21h1M27 22h1M73 23h1M26 25h1m47 0h1M74 26h1M25 28h1M25 29h1m49 0h1M75 30h1M24 33h1M24 34h1m51 0h1M24 35h1m51 0h1M76 36h1M23 40h1M23 41h1M23 42h1m53 0h1M23 43h1m53 0h1M23 44h1m53 0h1M23 45h1m53 0h1M23 46h1m53 0h1M23 47h1m53 0h1M77 48h1M77 49h1M77 50h1M77 51h1M23 52h1m53 0h1M23 53h1m53 0h1M23 54h1m53 0h1M23 55h1m53 0h1M23 56h1m53 0h1M23 57h1m53 0h1M23 58h1M23 59h1M76 63h1M24 64h1m51 0h1M24 65h1m51 0h1M24 66h1M75 69h1M25 70h1m49 0h1M25 71h1M74 73h1M26 74h1m47 0h1M73 76h1M27 77h1M72 78h1M29 80h1M30 81h1M32 82h1m35 0h1M36 83h2m24 0h3"/>
<path stroke="#dc391e" d="M34 16h1m31 0h1M31 17h1m37 0h1M72 20h1M27 21h1M73 22h1M26 24h1m47 0h1M25 27h1m49 0h1M75 28h1M24 31h1m51 0h1M24 32h1m51 0h1M76 33h1M23 36h1M23 37h1M23 38h1m53 0h1M23 39h1m53 0h1M77 40h1M77 41h1M77 58h1M77 59h1M23 60h1m53 0h1M23 61h1m53 0h1M23 62h1M23 63h1M76 66h1M24 67h1m51 0h1M24 68h1M75 71h1M25 72h1m49 0h1M26 75h1m47 0h1M73 77h1M28 79h1m43 0h1M71 80h1M70 81h1M31 82h1M34 83h2m29 0h2"/>
<path stroke="#da361f" d="M39 15h23M33 16h1m33 0h1M29 18h1m41 0h1M28 19h1M73 21h1M26 23h1m47 0h1M25 25h1M25 26h1m49 0h1M24 29h1m51 0h1M24 30h1m51 0h1M23 33h1M23 34h1m53 0h1M23 35h1m53 0h1M77 36h1M77 37h1M22 41h1M22 42h1M22 43h1m55 0h1M22 44h1m55 0h1M22 45h1m55 0h1M22 46h1m55 0h1M22 47h1m55 0h1M22 48h1m55 0h1M22 49h1m55 0h1M22 50h1m55 0h1M22 51h1m55 0h1M22 52h1m55 0h1M22 53h1m55 0h1M22 54h1m55 0h1M22 55h1m55 0h1M22 56h1m55 0h1M22 57h1M22 58h1M77 62h1M77 63h1M23 64h1m53 0h1M23 65h1M23 66h1M76 68h1M24 69h1m51 0h1M24 70h1m51 0h1M25 73h1m49 0h1M25 74h1M26 76h1m47 0h1M27 78h1m45 0h1M28 80h1M29 81h1M69 82h1M33 83h1m33 0h1M40 84h21"/>
<path stroke="#d8331f" d="M36 15h3m23 0h3M32 16h1m35 0h1M30 17h1m39 0h1M72 19h1M27 20h1m45 0h1M26 22h1m47 0h1M25 24h1m49 0h1M75 25h1M24 27h1M24 28h1m51 0h1M23 31h1M23 32h1m53 0h1M77 33h1M22 37h1M22 38h1m55 0h1M22 39h1m55 0h1M22 40h1m55 0h1M78 41h1M78 42h1M78 57h1M78 58h1M22 59h1m55 0h1M22 60h1m55 0h1M22 61h1m55 0h1M22 62h1M77 65h1M77 66h1M23 67h1m53 0h1M23 68h1M24 71h1m51 0h1M24 72h1M75 74h1M25 75h1M26 77h1m47 0h1M27 79h1m45 0h1M72 80h1M71 81h1M30 82h1m39 0h1M32 83h1m35 0h1M37 84h3m21 0h3"/>
<path stroke="#d63020" d="M34 15h2m29 0h2M31 16h1m37 0h1M29 17h1M28 18h1m43 0h1M27 19h1M26 21h1m47 0h1M25 23h1m49 0h1M24 26h1m51 0h1M76 27h1M23 29h1M23 30h1m53 0h1M77 31h1M22 34h1M22 35h1m55 0h1M22 36h1m55 0h1M78 37h1M21 41h1M21 42h1M21 43h1M21 44h1m57 0h1M21 45h1m57 0h1M21 46h1m57 0h1M21 47h1m57 0h1M21 48h1m57 0h1M21 49h1m57 0h1M21 50h1m57 0h1M21 51h1m57 0h1M21 52h1m57 0h1M21 53h1m57 0h1M21 54h1m57 0h1M21 55h1m57 0h1M21 56h1M21 57h1M21 58h1M78 62h1M22 63h1m55 0h1M22 64h1m55 0h1M22 65h1M77 68h1M23 69h1m53 0h1M23 70h1M76 72h1M24 73h1m51 0h1M75 75h1M25 76h1m49 0h1M26 78h1m47 0h1M27 80h1M28 81h1M31 83h1m37 0h1M35 84h2m27 0h2"/>
<path stroke="#d42e20" d="M39 14h22M33 15h1m33 0h1M30 16h1M71 17h1M73 19h1M26 20h1m47 0h1M25 22h1m49 0h1M24 24h1M24 25h1m51 0h1M23 27h1M23 28h1m53 0h1M77 29h1M22 31h1M22 32h1m55 0h1M22 33h1m55 0h1M78 34h1M21 37h1M21 38h1M21 39h1m57 0h1M21 40h1m57 0h1M79 41h1M79 42h1M79 43h1M79 56h1M79 57h1M79 58h1M21 59h1m57 0h1M21 60h1m57 0h1M21 61h1M21 62h1M78 65h1M22 66h1m55 0h1M22 67h1m55 0h1M22 68h1M77 70h1M23 71h1m53 0h1M23 72h1M24 74h1m51 0h1M24 75h1M25 77h1m49 0h1M26 79h1M73 80h1M72 81h1M29 82h1m41 0h1M33 84h2m31 0h2M41 85h19"/>
<path stroke="#d12b20" d="M36 14h3m22 0h3M32 15h1m35 0h1M70 16h1M28 17h1m43 0h1M27 18h1m45 0h1M26 19h1M25 21h1m49 0h1M24 23h1M76 24h1M23 26h1m53 0h1M77 27h1M22 29h1M22 30h1m55 0h1M78 31h1M21 34h1M21 35h1m57 0h1M21 36h1m57 0h1M79 37h1M79 38h1M20 42h1M20 43h1M20 44h1M20 45h1m59 0h1M20 46h1m59 0h1M20 47h1m59 0h1M20 48h1m59 0h1M20 49h1m59 0h1M20 50h1m59 0h1M20 51h1m59 0h1M20 52h1m59 0h1M20 53h1m59 0h1M20 54h1m59 0h1M20 55h1M20 56h1M20 57h1M79 61h1M79 62h1M21 63h1m57 0h1M21 64h1m57 0h1M21 65h1M78 68h1M22 69h1m55 0h1M22 70h1M77 72h1M23 73h1M76 75h1M24 76h1M25 78h1M74 79h1M27 81h1M28 82h1M30 83h1m39 0h1M32 84h1m35 0h1M37 85h4m19 0h4"/>
<path stroke="#ce2820" d="M34 14h2m28 0h2M31 15h1m37 0h1M29 16h1m41 0h1M74 19h1M25 20h1M24 22h1M76 23h1M23 25h1m53 0h1M22 28h1m55 0h1M78 29h1M21 32h1M21 33h1m57 0h1M79 34h1M20 37h1M20 38h1M20 39h1m59 0h1M20 40h1m59 0h1M20 41h1m59 0h1M80 42h1M80 43h1M80 44h1M80 55h1M80 56h1M80 57h1M20 58h1m59 0h1M20 59h1m59 0h1M20 60h1m59 0h1M20 61h1M79 65h1M21 66h1m57 0h1M21 67h1M78 70h1M22 71h1m55 0h1M77 73h1M23 74h1m53 0h1M76 76h1M24 77h1M75 78h1M25 79h1M26 80h1m47 0h1M73 81h1M72 82h1M29 83h1m41 0h1M31 84h1m37 0h1M35 85h2m27 0h2"/>
<path stroke="#cc2621" d="M40 13h21M33 14h1m32 0h2M30 15h1m39 0h1M28 16h1M27 17h1m45 0h1M26 18h1M75 20h1M24 21h1M76 22h1M23 23h1M23 24h1m53 0h1M22 26h1M22 27h1m55 0h1M21 30h1M21 31h1m57 0h1M79 32h1M20 34h1M20 35h1M20 36h1m59 0h1M80 37h1M80 38h1M19 42h1M19 43h1M19 44h1M19 45h1m61 0h1M19 46h1m61 0h1M19 47h1m61 0h1M19 48h1m61 0h1M19 49h1m61 0h1M19 50h1m61 0h1M19 51h1m61 0h1M19 52h1m61 0h1M19 53h1m61 0h1M19 54h1M19 55h1M19 56h1M19 57h1M80 61h1M20 62h1m59 0h1M20 63h1m59 0h1M20 64h1M79 67h1M21 68h1m57 0h1M21 69h1M22 72h1m55 0h1M22 73h1M23 75h1m53 0h1M76 77h1M24 78h1M75 79h1M26 81h1M27 82h1M30 84h1M33 85h2m31 0h1M42 86h17"/>
<path stroke="#c92321" d="M37 13h3m21 0h3M32 14h1m35 0h1M29 15h1M72 16h1M74 18h1M25 19h1m49 0h1M24 20h1M76 21h1M23 22h1M77 23h1M22 25h1m55 0h1M78 26h1M21 28h1M21 29h1m57 0h1M79 30h1M20 32h1M20 33h1m59 0h1M80 34h1M80 35h1M19 38h1M19 39h1M19 40h1m61 0h1M19 41h1m61 0h1M81 42h1M81 43h1M81 44h1M81 54h1M81 55h1M81 56h1M81 57h1M19 58h1m61 0h1M19 59h1m61 0h1M19 60h1M19 61h1M80 64h1M20 65h1m59 0h1M20 66h1m59 0h1M20 67h1M79 69h1M21 70h1m57 0h1M21 71h1M78 73h1M22 74h1M23 76h1m53 0h1M23 77h1M76 78h1M25 80h1m49 0h1M74 81h1M73 82h1M28 83h1m43 0h1M70 84h1M32 85h1m34 0h2M38 86h4m17 0h4"/>
<path stroke="#c72121" d="M35 13h2m27 0h2M31 14h1m37 0h1M71 15h1M27 16h1M26 17h1m47 0h1M25 18h1M76 20h1M23 21h1M77 22h1M22 24h1m55 0h1M21 26h1M21 27h1m57 0h1M79 28h1M20 30h1M20 31h1m59 0h1M80 32h1M19 35h1M19 36h1m61 0h1M19 37h1m61 0h1M81 38h1M81 39h1M18 43h1M18 44h1M18 45h1M18 46h1M18 47h1m63 0h1M18 48h1m63 0h1M18 49h1m63 0h1M18 50h1m63 0h1M18 51h1m63 0h1M18 52h1m63 0h1M18 53h1M18 54h1M18 55h1M18 56h1M81 60h1M81 61h1M19 62h1m61 0h1M19 63h1m61 0h1M19 64h1M80 67h1M20 68h1m59 0h1M20 69h1M79 71h1M21 72h1m57 0h1M78 74h1M22 75h1m55 0h1M77 77h1M24 79h1m51 0h1M25 81h1M26 82h1M27 83h1M29 84h1m41 0h1M31 85h1m37 0h1M35 86h3m25 0h3"/>
<path stroke="#c41e21" d="M40 12h21M33 13h2m31 0h2M30 14h1m39 0h1M28 15h1m43 0h1M73 16h1M75 18h1M24 19h1m51 0h1M77 21h1M22 23h1m55 0h1M21 25h1M79 26h1M20 28h1M20 29h1m59 0h1M80 30h1M19 32h1M19 33h1m61 0h1M19 34h1m61 0h1M81 35h1M18 38h1M18 39h1M18 40h1m63 0h1M18 41h1m63 0h1M18 42h1m63 0h1M82 43h1M82 44h1M82 45h1M82 46h1M82 53h1M82 54h1M82 55h1M82 56h1M18 57h1m63 0h1M18 58h1m63 0h1M18 59h1m63 0h1M18 60h1M18 61h1M81 64h1M19 65h1m61 0h1M19 66h1m61 0h1M19 67h1M80 69h1M20 70h1m59 0h1M20 71h1M21 73h1m57 0h1M21 74h1M22 76h1m55 0h1M23 78h1m53 0h1M24 80h1m51 0h1M75 81h1M74 82h1M73 83h1M28 84h1m43 0h1M30 85h1m39 0h1M34 86h1m31 0h1M42 87h17"/>
<path stroke="#c21d22" d="M37 12h3m21 0h3M32 13h1m35 0h1M29 14h1m41 0h1M26 16h1m47 0h1M25 17h1m49 0h1M24 18h1M23 20h1m53 0h1M22 22h1m55 0h1M21 24h1m57 0h1M79 25h1M20 27h1m59 0h1M80 28h1M19 30h1M19 31h1m61 0h1M81 32h1M18 35h1M18 36h1m63 0h1M18 37h1m63 0h1M82 38h1M82 39h1M17 44h1M17 45h1M17 46h1M17 47h1M17 48h1M17 49h1m65 0h1M17 50h1m65 0h1M17 51h1M17 52h1M17 53h1M17 54h1M17 55h1M82 60h1M82 61h1M18 62h1m63 0h1M18 63h1M18 64h1M81 67h1M19 68h1m61 0h1M19 69h1M80 71h1M20 72h1m59 0h1M79 74h1M21 75h1M22 77h1m55 0h1M23 79h1m53 0h1M24 81h1M25 82h1M26 83h1M29 85h1M32 86h2m33 0h2M38 87h4m17 0h4"/>
<path stroke="#c01d22" d="M47 11h7M35 12h2m27 0h2M31 13h1m37 0h1M28 14h1M27 15h1m45 0h1M76 18h1M23 19h1m53 0h1M22 21h1m55 0h1M21 23h1m57 0h1M20 25h1M20 26h1m59 0h1M19 29h1m61 0h1M81 30h1M18 33h1M18 34h1m63 0h1M82 35h1M17 39h1M17 40h1M17 41h1m65 0h1M17 42h1m65 0h1M17 43h1m65 0h1M83 44h1M83 45h1M83 46h1M83 47h1M83 48h1M83 51h1M83 52h1M83 53h1M83 54h1M83 55h1M17 56h1m65 0h1M17 57h1m65 0h1M17 58h1m65 0h1M17 59h1M17 60h1M82 63h1M82 64h1M18 65h1m63 0h1M18 66h1M81 69h1M19 70h1m61 0h1M20 73h1m59 0h1M20 74h1M79 75h1M21 76h1m57 0h1M22 78h1m55 0h1M23 80h1M76 81h1M75 82h1M74 83h1M27 84h1m45 0h1M71 85h1M31 86h1m37 0h1M35 87h3m25 0h2"/>
<path stroke="#be1d22" d="M40 11h7m7 0h7M33 12h2m31 0h2M30 13h1m39 0h1M72 14h1M26 15h1M25 16h1m49 0h1M24 17h1m51 0h1M23 18h1M22 20h1m55 0h1M21 22h1m57 0h1M20 24h1M80 25h1M19 27h1M19 28h1m61 0h1M18 31h1m63 0h1M18 32h1m63 0h1M82 33h1M17 36h1M17 37h1m65 0h1M17 38h1m65 0h1M83 39h1M83 40h1M16 44h1M16 45h1M16 46h1M16 47h1M16 48h1M16 49h1M16 50h1M16 51h1M16 52h1M16 53h1M16 54h1M83 59h1M83 60h1M17 61h1m65 0h1M17 62h1m65 0h1M17 63h1M82 66h1M18 67h1m63 0h1M18 68h1M19 71h1m61 0h1M19 72h1M80 74h1M20 75h1M21 77h1m57 0h1M22 79h1m55 0h1M77 80h1M24 82h1M25 83h1m49 0h1M26 84h1M28 85h1m43 0h1M30 86h1m39 0h1M34 87h1m30 0h2M41 88h18"/>
<path stroke="#bc1d22" d="M37 11h3m21 0h3M32 12h1m35 0h1M29 13h1m41 0h1M27 14h1m45 0h1M74 15h1M77 18h1M22 19h1M21 21h1m57 0h1M20 23h1m59 0h1M80 24h1M19 26h1m61 0h1M81 27h1M18 29h1M18 30h1m63 0h1M17 33h1M17 34h1m65 0h1M17 35h1m65 0h1M83 36h1M16 39h1M16 40h1M16 41h1m67 0h1M16 42h1m67 0h1M16 43h1m67 0h1M84 44h1M84 45h1M84 46h1M84 47h1M84 48h1M84 49h1M84 50h1M84 51h1M84 52h1M84 53h1M84 54h1M16 55h1m67 0h1M16 56h1m67 0h1M16 57h1m67 0h1M16 58h1m67 0h1M16 59h1M16 60h1M83 63h1M17 64h1m65 0h1M17 65h1m65 0h1M17 66h1M82 68h1M18 69h1m63 0h1M18 70h1M81 72h1M19 73h1m61 0h1M80 75h1M20 76h1M21 78h1m57 0h1M22 80h1M23 81h1m53 0h1M76 82h1M74 84h1M27 85h1m45 0h1M29 86h1m41 0h1M32 87h2m33 0h2M38 88h3m18 0h4"/>
<path stroke="#ba1d22" d="M45 10h10M35 11h2m27 0h2M31 12h1m37 0h1M28 13h1m43 0h1M26 14h1M25 15h1m49 0h1M24 16h1m51 0h1M23 17h1m53 0h1M22 18h1M78 19h1M21 20h1m57 0h1M20 22h1m59 0h1M19 24h1M19 25h1m61 0h1M18 27h1M18 28h1m63 0h1M82 29h1M17 31h1M17 32h1m65 0h1M83 33h1M16 36h1M16 37h1m67 0h1M16 38h1m67 0h1M84 39h1M84 40h1M15 45h1M15 46h1M15 47h1M15 48h1M15 49h1M15 50h1M15 51h1M15 52h1M15 53h1M15 54h1M84 59h1M84 60h1M16 61h1m67 0h1M16 62h1m67 0h1M16 63h1M83 66h1M17 67h1m65 0h1M17 68h1M82 70h1M18 71h1m63 0h1M18 72h1M19 74h1m61 0h1M19 75h1M80 76h1M20 77h1M21 79h1M78 80h1M23 82h1M24 83h1m51 0h1M25 84h1m49 0h1M28 86h1M31 87h1m37 0h1M35 88h3m25 0h3"/>
<path stroke="#b81c23" d="M40 10h5m10 0h6M33 11h2m31 0h2M30 12h1m39 0h1M27 13h1M74 14h1M78 18h1M21 19h1M20 21h1m59 0h1M19 23h1M81 24h1M18 26h1m63 0h1M82 27h1M17 29h1M17 30h1m65 0h1M83 31h1M16 33h1M16 34h1m67 0h1M16 35h1m67 0h1M84 36h1M15 40h1M15 41h1M15 42h1m69 0h1M15 43h1m69 0h1M15 44h1m69 0h1M85 45h1M85 46h1M85 47h1M85 48h1M85 49h1M85 50h1M85 51h1M85 52h1M85 53h1M85 54h1M15 55h1m69 0h1M15 56h1m69 0h1M15 57h1m69 0h1M15 58h1M15 59h1M84 63h1M16 64h1m67 0h1M16 65h1m67 0h1M16 66h1M83 68h1M17 69h1m65 0h1M17 70h1M82 72h1M18 73h1M81 75h1M19 76h1M80 77h1M20 78h1M79 79h1M21 80h1M22 81h1m55 0h1M77 82h1M26 85h1m47 0h1M72 86h1M30 87h1m39 0h1M33 88h2m31 0h1M41 89h19"/>
<path stroke="#b61c23" d="M37 10h3m21 0h3M32 11h1m35 0h1M29 12h1m41 0h1M73 13h1M25 14h1m49 0h1M24 15h1m51 0h1M23 16h1m53 0h1M22 17h1m55 0h1M79 19h1M20 20h1M19 22h1M81 23h1M18 25h1m63 0h1M17 27h1M17 28h1m65 0h1M83 29h1M16 31h1M16 32h1m67 0h1M84 33h1M15 36h1M15 37h1M15 38h1m69 0h1M15 39h1m69 0h1M85 40h1M85 41h1M14 46h1M14 47h1M14 48h1M14 49h1M14 50h1M14 51h1M14 52h1M85 58h1M85 59h1M15 60h1m69 0h1M15 61h1m69 0h1M15 62h1M15 63h1M84 66h1M16 67h1m67 0h1M16 68h1M83 70h1M17 71h1m65 0h1M82 73h1M18 74h1m63 0h1M81 76h1M19 77h1M80 78h1M20 79h1M79 80h1M22 82h1M23 83h1m53 0h1M24 84h1m51 0h1M25 85h1M27 86h1m45 0h1M29 87h1m41 0h1M32 88h1m34 0h2M37 89h4m19 0h3"/>
<path stroke="#b41c23" d="M44 9h13M35 10h2m27 0h2M30 11h2m37 0h1M28 12h1m43 0h1M26 13h1m47 0h1M21 18h1m57 0h1M20 19h1M80 20h1M19 21h1M81 22h1M18 23h1M18 24h1m63 0h1M17 26h1M83 27h1M16 29h1M16 30h1m67 0h1M84 31h1M15 34h1M15 35h1m69 0h1M85 36h1M85 37h1M14 40h1M14 41h1M14 42h1m71 0h1M14 43h1m71 0h1M14 44h1m71 0h1M14 45h1m71 0h1M86 46h1M86 47h1M86 48h1M86 49h1M86 50h1M86 51h1M86 52h1M14 53h1m71 0h1M14 54h1m71 0h1M14 55h1m71 0h1M14 56h1m71 0h1M14 57h1m71 0h1M14 58h1M14 59h1M85 62h1M85 63h1M15 64h1m69 0h1M15 65h1M84 68h1M16 69h1m67 0h1M16 70h1M17 72h1m65 0h1M17 73h1M18 75h1m63 0h1M18 76h1M81 77h1M19 78h1M80 79h1M20 80h1M21 81h1m57 0h1M78 82h1M75 85h1M26 86h1m47 0h1M28 87h1m43 0h1M31 88h1m37 0h1M35 89h2m26 0h3M46 90h8"/>
<path stroke="#b11c23" d="M39 9h5m13 0h5M33 10h2m31 0h2M29 11h1m40 0h1M27 12h1m45 0h1M25 13h1M24 14h1m51 0h1M23 15h1m53 0h1M22 16h1m55 0h1M21 17h1m57 0h1M80 19h1M19 20h1M81 21h1M18 22h1M82 23h1M17 25h1m65 0h1M83 26h1M16 28h1m67 0h1M84 29h1M15 31h1M15 32h1m69 0h1M15 33h1m69 0h1M85 34h1M14 37h1M14 38h1m71 0h1M14 39h1m71 0h1M86 40h1M86 41h1M13 48h1M13 49h1M13 50h1M13 51h1M86 58h1M86 59h1M14 60h1m71 0h1M14 61h1m71 0h1M14 62h1M85 65h1M15 66h1m69 0h1M15 67h1m69 0h1M84 70h1M16 71h1M83 73h1M17 74h1m65 0h1M82 76h1M18 77h1M81 78h1M19 79h1M80 80h1M21 82h1M22 83h1m55 0h1M23 84h1m53 0h1M24 85h1m51 0h1M27 87h1M30 88h1m39 0h1M33 89h2m31 0h1M40 90h6m8 0h7"/>
<path stroke="#af1c24" d="M36 9h3m23 0h2M31 10h2m35 0h1M28 11h1m42 0h1M26 12h1M75 13h1M22 15h1M20 18h1m59 0h1M19 19h1M81 20h1M18 21h1M82 22h1M17 24h1m65 0h1M16 26h1M16 27h1m67 0h1M15 30h1m69 0h1M85 31h1M14 34h1M14 35h1m71 0h1M14 36h1m71 0h1M86 37h1M13 41h1M13 42h1M13 43h1m73 0h1M13 44h1m73 0h1M13 45h1m73 0h1M13 46h1m73 0h1M13 47h1m73 0h1M87 48h1M87 49h1M87 50h1M87 51h1M13 52h1m73 0h1M13 53h1m73 0h1M13 54h1m73 0h1M13 55h1m73 0h1M13 56h1m73 0h1M13 57h1M13 58h1M86 62h1M14 63h1m71 0h1M14 64h1m71 0h1M14 65h1M15 68h1m69 0h1M15 69h1m69 0h1M84 71h1M16 72h1m67 0h1M16 73h1M17 75h1m65 0h1M82 77h1M18 78h1M81 79h1M20 81h1m59 0h1M79 82h1M25 86h1m49 0h1M73 87h1M29 88h1m41 0h1M32 89h1m34 0h2M37 90h3m21 0h3"/>
<path stroke="#ae1c24" d="M43 8h15M34 9h2m28 0h2M30 10h1m38 0h2M72 11h1M74 12h1M24 13h1m51 0h1M23 14h1m53 0h1M78 15h1M21 16h1m57 0h1M20 17h1m59 0h1M81 19h1M18 20h1M82 21h1M17 22h1M17 23h1m65 0h1M16 25h1M84 26h1M15 28h1M15 29h1m69 0h1M14 32h1M14 33h1m71 0h1M86 34h1M13 37h1M13 38h1m73 0h1M13 39h1m73 0h1M13 40h1m73 0h1M87 41h1M87 42h1M87 57h1M87 58h1M13 59h1m73 0h1M13 60h1m73 0h1M13 61h1m73 0h1M13 62h1M86 65h1M14 66h1m71 0h1M14 67h1M15 70h1m69 0h1M15 71h1M84 73h1M16 74h1M17 76h1m65 0h1M82 78h1M19 80h1m61 0h1M20 82h1M21 83h1m57 0h1M22 84h1m55 0h1M23 85h1m53 0h1M24 86h1M26 87h1m47 0h1M28 88h1m43 0h1M31 89h1m37 0h1M35 90h2m27 0h2M44 91h12"/>
<path stroke="#ac1c24" d="M39 8h4m15 0h4M33 9h1m32 0h2M29 10h1m41 0h1M27 11h1m45 0h1M25 12h1m49 0h1M22 14h1M21 15h1M19 18h1m61 0h1M82 20h1M17 21h1M83 22h1M16 24h1m67 0h1M84 25h1M15 26h1M15 27h1m69 0h1M85 28h1M14 30h1M14 31h1m71 0h1M86 32h1M13 34h1M13 35h1m73 0h1M13 36h1m73 0h1M87 37h1M12 41h1M12 42h1M12 43h1m75 0h1M12 44h1m75 0h1M12 45h1m75 0h1M12 46h1m75 0h1M12 47h1m75 0h1M12 48h1m75 0h1M12 49h1m75 0h1M12 50h1m75 0h1M12 51h1m75 0h1M12 52h1m75 0h1M12 53h1m75 0h1M12 54h1m75 0h1M12 55h1m75 0h1M12 56h1m75 0h1M12 57h1M12 58h1M87 62h1M13 63h1m73 0h1M13 64h1m73 0h1M13 65h1M86 67h1M14 68h1m71 0h1M14 69h1M85 71h1M15 72h1m69 0h1M84 74h1M16 75h1m67 0h1M17 77h1m65 0h1M18 79h1m63 0h1M19 81h1m61 0h1M80 82h1M76 86h1M25 87h1m49 0h1M27 88h1m45 0h1M29 89h2m39 0h1M33 90h2m31 0h2M40 91h4m12 0h5"/>
<path stroke="#ab1c24" d="M36 8h3m23 0h3M31 9h2m35 0h2M28 10h1m43 0h1M26 11h1m47 0h1M24 12h1M23 13h1m53 0h1M78 14h1M79 15h1M20 16h1m59 0h1M19 17h1M18 19h1m63 0h1M83 21h1M16 23h1m67 0h1M15 25h1M85 26h1M14 28h1M14 29h1m71 0h1M86 30h1M13 32h1M13 33h1m73 0h1M87 34h1M12 37h1M12 38h1M12 39h1m75 0h1M12 40h1m75 0h1M88 41h1M88 42h1M88 57h1M88 58h1M12 59h1m75 0h1M12 60h1m75 0h1M12 61h1M12 62h1M87 65h1M13 66h1m73 0h1M13 67h1M86 69h1M14 70h1m71 0h1M14 71h1M15 73h1m69 0h1M15 74h1M16 76h1m67 0h1M17 78h1m65 0h1M18 80h1m63 0h1M19 82h1M20 83h1m59 0h1M21 84h1m57 0h1M22 85h1m55 0h1M23 86h1m53 0h1M24 87h1M26 88h1m47 0h1M28 89h1m42 0h1M32 90h1m35 0h1M37 91h3m21 0h3"/>
<path stroke="#a91c24" d="M42 7h17M34 8h2m29 0h2M30 9h1m39 0h1M27 10h1m45 0h1M25 11h1m49 0h1M76 12h1M22 13h1M21 14h1M20 15h1M81 17h1M18 18h1m63 0h1M17 20h1m65 0h1M16 22h1m67 0h1M15 24h1m69 0h1M85 25h1M14 27h1m71 0h1M86 28h1M13 30h1M13 31h1m73 0h1M87 32h1M12 35h1M12 36h1m75 0h1M88 37h1M88 38h1M11 42h1M11 43h1M11 44h1m77 0h1M11 45h1m77 0h1M11 46h1m77 0h1M11 47h1m77 0h1M11 48h1m77 0h1M11 49h1m77 0h1M11 50h1m77 0h1M11 51h1m77 0h1M11 52h1m77 0h1M11 53h1m77 0h1M11 54h1m77 0h1M11 55h1m77 0h1M11 56h1M11 57h1M88 61h1M88 62h1M12 63h1m75 0h1M12 64h1M87 67h1M13 68h1m73 0h1M13 69h1M86 71h1M14 72h1m71 0h1M85 74h1M15 75h1M16 77h1m67 0h1M17 79h1m65 0h1M18 81h1m63 0h1M81 82h1M20 84h1M21 85h1M76 87h1M25 88h1M27 89h1m44 0h1M30 90h2m37 0h2M34 91h3m27 0h2M43 92h15"/>
<path stroke="#a71c24" d="M38 7h4m17 0h4M32 8h2m33 0h2M29 9h1m41 0h1M26 10h1M23 12h1m53 0h1M78 13h1M79 14h1M80 15h1M19 16h1m61 0h1M18 17h1M17 19h1m65 0h1M16 21h1m67 0h1M15 23h1m69 0h1M14 25h1M14 26h1m71 0h1M13 28h1M13 29h1m73 0h1M87 30h1M12 32h1M12 33h1m75 0h1M12 34h1m75 0h1M88 35h1M11 38h1M11 39h1m77 0h1M11 40h1m77 0h1M11 41h1m77 0h1M89 42h1M89 43h1M89 56h1M89 57h1M11 58h1m77 0h1M11 59h1m77 0h1M11 60h1m77 0h1M11 61h1M88 64h1M12 65h1m75 0h1M12 66h1m75 0h1M12 67h1M87 69h1M13 70h1m73 0h1M13 71h1M14 73h1m71 0h1M14 74h1M85 75h1M15 76h1m69 0h1M16 78h1m67 0h1M17 80h1m65 0h1M18 82h1M19 83h1m61 0h1M80 84h1M79 85h1M22 86h1m55 0h1M23 87h1m53 0h1M75 88h1M73 89h1M29 90h1m41 0h1M33 91h1m32 0h2M39 92h4m15 0h4"/>
<path stroke="#a61c24" d="M46 6h8M36 7h2m25 0h2M31 8h1m37 0h1M28 9h1m43 0h1M74 10h1M24 11h1m51 0h1M22 12h1M21 13h1m57 0h1M20 14h1m59 0h1M19 15h1M82 17h1M17 18h1m65 0h1M16 20h1m67 0h1M15 22h1m69 0h1M14 24h1M86 25h1M13 27h1m73 0h1M87 28h1M12 30h1M12 31h1m75 0h1M88 32h1M11 35h1M11 36h1m77 0h1M11 37h1m77 0h1M89 38h1M10 42h1M10 43h1M10 44h1M10 45h1m79 0h1M10 46h1m79 0h1M10 47h1m79 0h1M10 48h1m79 0h1M10 49h1m79 0h1M10 50h1m79 0h1M10 51h1m79 0h1M10 52h1m79 0h1M10 53h1m79 0h1M10 54h1m79 0h1M10 55h1M10 56h1M10 57h1M89 61h1M11 62h1m77 0h1M11 63h1m77 0h1M11 64h1M88 67h1M12 68h1m75 0h1M12 69h1M87 71h1M13 72h1M86 74h1M14 75h1M15 77h1m69 0h1M16 79h1m67 0h1M17 81h1m65 0h1M82 82h1M19 84h1M20 85h1M21 86h1M24 88h1m51 0h1M26 89h1m47 0h1M28 90h1m43 0h1M31 91h2m35 0h2M36 92h3m23 0h3"/>
<path stroke="#a41c24" d="M40 6h6m8 0h6M34 7h2m29 0h2M30 8h1m39 0h1M27 9h1m45 0h1M25 10h1m49 0h1M23 11h1m53 0h1M78 12h1M81 15h1M18 16h1m63 0h1M17 17h1M16 19h1m67 0h1M15 21h1m69 0h1M14 23h1m71 0h1M86 24h1M13 25h1M13 26h1m73 0h1M12 29h1m75 0h1M88 30h1M11 33h1m77 0h1M11 34h1m77 0h1M89 35h1M10 38h1M10 39h1M10 40h1m79 0h1M10 41h1m79 0h1M90 42h1M90 43h1M90 44h1M90 55h1M90 56h1M90 57h1M10 58h1m79 0h1M10 59h1m79 0h1M10 60h1M10 61h1M89 64h1M11 65h1m77 0h1M11 66h1M88 69h1M12 70h1m75 0h1M87 72h1M13 73h1m73 0h1M86 75h1M14 76h1m71 0h1M15 78h1m69 0h1M16 80h1m67 0h1M17 82h1M18 83h1m63 0h1M81 84h1M80 85h1M79 86h1M22 87h1m55 0h1M23 88h1M25 89h1m49 0h1M27 90h1m45 0h1M30 91h1m39 0h1M34 92h2m29 0h2M42 93h17"/>
<path stroke="#a31c24" d="M37 6h3m20 0h3M32 7h2m33 0h2M28 8h2m41 0h1M26 9h1m47 0h1M24 10h1m51 0h1M21 12h1m57 0h1M20 13h1m59 0h1M19 14h1m61 0h1M18 15h1M83 17h1M16 18h1m67 0h1M15 20h1m69 0h1M14 22h1m71 0h1M13 24h1M87 25h1M12 27h1M12 28h1m75 0h1M11 31h1m77 0h1M11 32h1m77 0h1M10 35h1M10 36h1m79 0h1M10 37h1m79 0h1M90 38h1M90 39h1M9 43h1M9 44h1M9 45h1M9 46h1m81 0h1M9 47h1m81 0h1M9 48h1m81 0h1M9 49h1m81 0h1M9 50h1m81 0h1M9 51h1m81 0h1M9 52h1m81 0h1M9 53h1m81 0h1M9 54h1M9 55h1M9 56h1M90 60h1M90 61h1M10 62h1m79 0h1M10 63h1m79 0h1M10 64h1M89 66h1M11 67h1m77 0h1M11 68h1m77 0h1M12 71h1m75 0h1M12 72h1M13 74h1m73 0h1M13 75h1M14 77h1m71 0h1M15 79h1m69 0h1M16 81h1m67 0h1M83 82h1M18 84h1M19 85h1m61 0h1M20 86h1m59 0h1M21 87h1M77 88h1M24 89h1m51 0h1M26 90h1m47 0h1M29 91h1m41 0h1M32 92h2m33 0h1M38 93h4m17 0h4"/>
<path stroke="#a11c24" d="M44 5h13M35 6h2m26 0h3M30 7h2m37 0h1M27 8h1m44 0h1M25 9h1m49 0h1M23 10h1M22 11h1m55 0h1M82 15h1M17 16h1m65 0h1M16 17h1M15 19h1m69 0h1M14 21h1m71 0h1M13 23h1M87 24h1M12 26h1m75 0h1M88 27h1M11 29h1M11 30h1m77 0h1M10 33h1M10 34h1m79 0h1M90 35h1M9 38h1M9 39h1M9 40h1m81 0h1M9 41h1m81 0h1M9 42h1m81 0h1M91 43h1M91 44h1M91 45h1M91 54h1M91 55h1M91 56h1M9 57h1m81 0h1M9 58h1m81 0h1M9 59h1m81 0h1M9 60h1M90 64h1M10 65h1m79 0h1M10 66h1M11 69h1m77 0h1M11 70h1M88 72h1M12 73h1m75 0h1M87 75h1M13 76h1M14 78h1m71 0h1M15 80h1m69 0h1M16 82h1M17 83h1m65 0h1M82 84h1M79 87h1M22 88h1m55 0h1M25 90h1M28 91h1m43 0h1M31 92h1m36 0h2M36 93h2m25 0h2M46 94h9"/>
<path stroke="#a01c24" d="M39 5h5m13 0h4M33 6h2m31 0h2M29 7h1m40 0h2M26 8h1m46 0h1M24 9h1M77 10h1M21 11h1m57 0h1M20 12h1m59 0h1M19 13h1m61 0h1M18 14h1m63 0h1M17 15h1m65 0h1M84 17h1M15 18h1m69 0h1M14 20h1m71 0h1M13 22h1m73 0h1M87 23h1M12 24h1M12 25h1m75 0h1M11 27h1M11 28h1m77 0h1M89 29h1M10 31h1M10 32h1m79 0h1M90 33h1M9 35h1M9 36h1M9 37h1m81 0h1M91 38h1M91 39h1M8 43h1M8 44h1M8 45h1M8 46h1M8 47h1m83 0h1M8 48h1m83 0h1M8 49h1m83 0h1M8 50h1m83 0h1M8 51h1m83 0h1M8 52h1m83 0h1M8 53h1M8 54h1M8 55h1M8 56h1M91 60h1M9 61h1m81 0h1M9 62h1m81 0h1M9 63h1M90 66h1M10 67h1m79 0h1M10 68h1M89 70h1M11 71h1m77 0h1M11 72h1M12 74h1m75 0h1M12 75h1M87 76h1M13 77h1m73 0h1M14 79h1m71 0h1M15 81h1M84 82h1M17 84h1M18 85h1m63 0h1M19 86h1m61 0h1M20 87h1m59 0h1M21 88h1M23 89h1m53 0h1M75 90h1M27 91h1m45 0h1M30 92h1m39 0h1M34 93h2m29 0h2M40 94h6m9 0h5"/>
<path stroke="#9e1c24" d="M37 5h2m22 0h3M31 6h2m35 0h1M28 7h1m43 0h1M74 8h1M76 9h1M22 10h1m55 0h1M19 12h1M18 13h1M16 16h1m67 0h1M15 17h1M14 19h1m71 0h1M13 21h1m73 0h1M12 23h1M88 24h1M11 26h1m77 0h1M89 27h1M10 29h1M10 30h1m79 0h1M90 31h1M9 33h1M9 34h1m81 0h1M91 35h1M91 36h1M8 39h1M8 40h1m83 0h1M8 41h1m83 0h1M8 42h1m83 0h1M92 43h1M92 44h1M92 45h1M92 46h1M92 53h1M92 54h1M92 55h1M92 56h1M8 57h1m83 0h1M8 58h1m83 0h1M8 59h1m83 0h1M8 60h1M91 63h1M9 64h1m81 0h1M9 65h1m81 0h1M9 66h1M90 68h1M10 69h1m79 0h1M10 70h1M89 72h1M11 73h1m77 0h1M88 75h1M12 76h1M13 78h1m73 0h1M14 80h1m71 0h1M85 81h1M15 82h1M16 83h1m67 0h1M83 84h1M79 88h1M22 89h1m55 0h1M24 90h1m51 0h1M26 91h1m47 0h1M28 92h2m41 0h1M32 93h2m33 0h2M37 94h3m20 0h4"/>
<path stroke="#9c1c24" d="M42 4h17M34 5h3m27 0h2M30 6h1m38 0h2M27 7h1m45 0h1M25 8h1m49 0h1M23 9h1m53 0h1M21 10h1M20 11h1m59 0h1M81 12h1M82 13h1M17 14h1m65 0h1M16 15h1m67 0h1M85 17h1M14 18h1m71 0h1M13 20h1m73 0h1M12 22h1m75 0h1M88 23h1M11 24h1M11 25h1m77 0h1M10 27h1M10 28h1m79 0h1M90 29h1M9 31h1M9 32h1m81 0h1M91 33h1M8 36h1M8 37h1m83 0h1M8 38h1m83 0h1M92 39h1M7 44h1M7 45h1M7 46h1M7 47h1M7 48h1m85 0h1M7 49h1m85 0h1M7 50h1m85 0h1M7 51h1m85 0h1M7 52h1M7 53h1M7 54h1M7 55h1M92 60h1M8 61h1m83 0h1M8 62h1m83 0h1M8 63h1M91 66h1M9 67h1m81 0h1M9 68h1M90 70h1M10 71h1m79 0h1M10 72h1M11 74h1m77 0h1M88 76h1M12 77h1M13 79h1m73 0h1M14 81h1M85 82h1M16 84h1M17 85h1m65 0h1M18 86h1m63 0h1M19 87h1m61 0h1M20 88h1m59 0h1M21 89h1M23 90h1m53 0h1M25 91h1m49 0h1M27 92h1m44 0h2M30 93h2m37 0h1M35 94h2m27 0h2M44 95h13"/>
<path stroke="#9b1b23" d="M38 4h4m17 0h3M33 5h1m32 0h2M29 6h1m41 0h1M26 7h1m47 0h1M24 8h1m51 0h1M22 9h1m55 0h1M79 10h1M19 11h1M18 12h1M17 13h1M15 16h1m69 0h1M14 17h1M13 19h1m73 0h1M12 21h1m75 0h1M11 23h1M89 24h1M10 26h1M90 27h1M9 29h1M9 30h1m81 0h1M91 31h1M8 33h1M8 34h1m83 0h1M8 35h1m83 0h1M92 36h1M7 39h1M7 40h1M7 41h1m85 0h1M7 42h1m85 0h1M7 43h1m85 0h1M93 44h1M93 45h1M93 46h1M93 47h1M93 52h1M93 53h1M93 54h1M93 55h1M7 56h1m85 0h1M7 57h1m85 0h1M7 58h1m85 0h1M7 59h1M7 60h1M92 63h1M8 64h1m83 0h1M8 65h1m83 0h1M8 66h1M91 68h1M9 69h1m81 0h1M9 70h1M90 72h1M10 73h1M11 75h1m77 0h1M11 76h1M88 77h1M12 78h1M13 80h1M86 81h1M14 82h1M15 83h1m69 0h1M84 84h1M17 86h1M18 87h1M79 89h1M22 90h1M24 91h1m51 0h1M26 92h1m47 0h1M29 93h1m40 0h2M33 94h2m31 0h2M39 95h5m13 0h4"/>
<path stroke="#991b23" d="M47 3h7M36 4h2m24 0h3M31 5h2m35 0h2M28 6h1m43 0h1M25 7h1m49 0h1M23 8h1m53 0h1M21 9h1M20 10h1m59 0h1M81 11h1M82 12h1M83 13h1M16 14h1m67 0h1M15 15h1m69 0h1M86 17h1M13 18h1M12 20h1m75 0h1M11 22h1M89 23h1M10 25h1m79 0h1M90 26h1M9 28h1m81 0h1M91 29h1M8 31h1M8 32h1m83 0h1M92 33h1M7 36h1M7 37h1m85 0h1M7 38h1m85 0h1M93 39h1M93 40h1M6 45h1M6 46h1M6 47h1M6 48h1M6 49h1M6 50h1M6 51h1M6 52h1M6 53h1M6 54h1M93 59h1M93 60h1M7 61h1m85 0h1M7 62h1m85 0h1M7 63h1M92 66h1M8 67h1m83 0h1M8 68h1M91 70h1M9 71h1m81 0h1M90 73h1M10 74h1m79 0h1M89 76h1M11 77h1M88 78h1M12 79h1M87 80h1M13 81h1M86 82h1M15 84h1M16 85h1m67 0h1M83 86h1M82 87h1M19 88h1m61 0h1M20 89h1m59 0h1M78 90h1M23 91h1M25 92h1M28 93h1m43 0h1M31 94h2m35 0h1M36 95h3m22 0h3"/>
<path stroke="#981b23" d="M41 3h6m7 0h6M34 4h2m29 0h2M30 5h1m39 0h1M27 6h1m45 0h1M24 7h1m51 0h1M22 8h1M79 9h1M19 10h1M18 11h1m63 0h1M17 12h1m65 0h1M16 13h1M15 14h1M14 16h1m71 0h1M13 17h1M87 18h1M12 19h1m75 0h1M11 21h1M89 22h1M10 23h1M10 24h1m79 0h1M9 26h1M9 27h1m81 0h1M8 29h1M8 30h1m83 0h1M92 31h1M7 34h1M7 35h1m85 0h1M93 36h1M6 40h1M6 41h1m87 0h1M6 42h1m87 0h1M6 43h1m87 0h1M6 44h1m87 0h1M94 45h1M94 46h1M94 47h1M94 48h1M94 49h1M94 50h1M94 51h1M94 52h1M94 53h1M94 54h1M6 55h1m87 0h1M6 56h1m87 0h1M6 57h1m87 0h1M6 58h1m87 0h1M6 59h1M93 63h1M7 64h1m85 0h1M7 65h1M92 68h1M8 69h1m83 0h1M8 70h1M9 72h1m81 0h1M9 73h1M10 75h1m79 0h1M10 76h1M89 77h1M11 78h1M88 79h1M12 80h1M87 81h1M13 82h1M14 83h1m71 0h1M85 84h1M16 86h1M17 87h1M18 88h1M21 90h1m57 0h1M77 91h1M24 92h1m50 0h1M27 93h1m45 0h1M30 94h1m38 0h2M34 95h2m28 0h3M42 96h17"/>
<path stroke="#961b23" d="M38 3h3m19 0h3M32 4h2m33 0h2M28 5h2m41 0h1M26 6h1m47 0h1M23 7h1M78 8h1M20 9h1m59 0h1M81 10h1M84 13h1M85 14h1M14 15h1m71 0h1M87 17h1M12 18h1M11 20h1m77 0h1M89 21h1M10 22h1M90 23h1M9 25h1m81 0h1M91 26h1M8 28h1m83 0h1M92 29h1M7 31h1M7 32h1m85 0h1M7 33h1m85 0h1M93 34h1M6 36h1M6 37h1M6 38h1m87 0h1M6 39h1m87 0h1M94 40h1M5 45h1M5 46h1M5 47h1M5 48h1M5 49h1M5 50h1M5 51h1M5 52h1M5 53h1M94 59h1M6 60h1m87 0h1M6 61h1m87 0h1M6 62h1M6 63h1M93 65h1M7 66h1m85 0h1M7 67h1m85 0h1M7 68h1M92 70h1M8 71h1m83 0h1M91 73h1M9 74h1m81 0h1M90 76h1M10 77h1M89 78h1M11 79h1M88 80h1M12 81h1M87 82h1M14 84h1M15 85h1m69 0h1M84 86h1M83 87h1M82 88h1M19 89h1m61 0h1M20 90h1m59 0h1M22 91h1m55 0h1M76 92h1M26 93h1m47 0h1M29 94h1m41 0h1M32 95h2m33 0h1M38 96h4m17 0h4"/>
<path stroke="#951b23" d="M44 2h13M35 3h3m25 0h3M30 4h2m37 0h1M27 5h1m44 0h2M25 6h1m49 0h1M77 7h1M21 8h1m57 0h1M19 9h1M18 10h1m63 0h1M17 11h1m65 0h1M16 12h1m67 0h1M15 13h1m69 0h1M14 14h1M13 16h1m73 0h1M12 17h1M88 18h1M11 19h1M10 21h1M90 22h1M9 23h1M9 24h1m81 0h1M8 26h1M8 27h1m83 0h1M7 30h1m85 0h1M93 31h1M6 34h1M6 35h1m87 0h1M94 36h1M94 37h1M5 40h1M5 41h1M5 42h1m89 0h1M5 43h1m89 0h1M5 44h1m89 0h1M95 45h1M95 46h1M95 47h1M95 48h1M95 49h1M95 50h1M95 51h1M95 52h1M95 53h1M5 54h1m89 0h1M5 55h1m89 0h1M5 56h1m89 0h1M5 57h1m89 0h1M5 58h1M5 59h1M94 62h1M94 63h1M6 64h1m87 0h1M6 65h1M93 68h1M7 69h1m85 0h1M8 72h1m83 0h1M8 73h1M9 75h1m81 0h1M90 77h1M10 78h1M89 79h1M11 80h1M88 81h1M12 82h1M13 83h1m73 0h1M86 84h1M15 86h1M16 87h1m67 0h1M17 88h1m65 0h1M18 89h1M21 91h1m57 0h1M23 92h1m53 0h1M25 93h1m49 0h1M27 94h2m43 0h1M31 95h1m36 0h2M36 96h2m25 0h2"/>
<path stroke="#931b23" d="M39 2h5m13 0h4M33 3h2m31 0h2M29 4h1m40 0h2M26 5h1m47 0h1M24 6h1m51 0h1M22 7h1m55 0h1M20 8h1m59 0h1M81 9h1M86 14h1M13 15h1m73 0h1M88 17h1M11 18h1M89 19h1M10 20h1M90 21h1M9 22h1M91 23h1M8 25h1m83 0h1M92 26h1M7 28h1M7 29h1m85 0h1M6 32h1m87 0h1M6 33h1m87 0h1M94 34h1M5 37h1M5 38h1m89 0h1M5 39h1m89 0h1M95 40h1M95 41h1M4 46h1M4 47h1M4 48h1M4 49h1M4 50h1M4 51h1M4 52h1M95 58h1M95 59h1M5 60h1m89 0h1M5 61h1m89 0h1M5 62h1M94 65h1M6 66h1m87 0h1M6 67h1M7 70h1m85 0h1M7 71h1M92 73h1M8 74h1M9 76h1m81 0h1M9 77h1M90 78h1M10 79h1M89 80h1M11 81h1M88 82h1M13 84h1m73 0h1M14 85h1m71 0h1M85 86h1M82 89h1M19 90h1m61 0h1M20 91h1M22 92h1m55 0h1M24 93h1m51 0h1M26 94h1m46 0h1M29 95h2m39 0h1M34 96h2m29 0h2"/>
<path stroke="#911a22" d="M37 2h2m22 0h3M31 3h2m35 0h1M28 4h1m43 0h1M25 5h1m49 0h1M23 6h1m53 0h1M21 7h1m57 0h1M18 9h1m63 0h1M17 10h1m65 0h1M16 11h1m67 0h1M15 12h1m69 0h1M14 13h1m71 0h1M13 14h1M12 16h1m75 0h1M11 17h1M89 18h1M10 19h1M90 20h1M9 21h1M91 22h1M8 24h1m83 0h1M7 26h1M7 27h1m85 0h1M93 28h1M6 30h1m87 0h1M6 31h1m87 0h1M5 34h1M5 35h1m89 0h1M5 36h1m89 0h1M95 37h1M4 40h1M4 41h1M4 42h1m91 0h1M4 43h1m91 0h1M4 44h1m91 0h1M4 45h1m91 0h1M96 46h1M96 47h1M96 48h1M96 49h1M96 50h1M96 51h1M96 52h1M4 53h1m91 0h1M4 54h1m91 0h1M4 55h1m91 0h1M4 56h1m91 0h1M4 57h1m91 0h1M4 58h1M4 59h1M95 62h1M5 63h1m89 0h1M5 64h1m89 0h1M5 65h1M94 67h1M6 68h1m87 0h1M6 69h1M93 71h1M7 72h1m85 0h1M7 73h1M92 74h1M8 75h1m83 0h1M91 77h1M9 78h1M90 79h1M10 80h1M89 81h1M11 82h1M12 83h1m75 0h1M13 85h1M14 86h1m71 0h1M15 87h1m69 0h1M16 88h1m67 0h1M17 89h1m65 0h1M18 90h1M80 91h1M21 92h1m57 0h1M23 93h1m53 0h1M25 94h1m48 0h1M28 95h1m42 0h2M32 96h2m33 0h2"/>
<path stroke="#901a22" d="M42 1h17M34 2h3m27 0h3M30 3h1m38 0h2M27 4h1m45 0h1M24 5h1m51 0h1M22 6h1m55 0h1M20 7h1M19 8h1m61 0h1M16 10h1M15 11h1M87 14h1M12 15h1m75 0h1M89 17h1M10 18h1M90 19h1M9 20h1M91 21h1M8 22h1M8 23h1m83 0h1M7 25h1M93 26h1M6 28h1M6 29h1m87 0h1M5 32h1M5 33h1m89 0h1M95 34h1M4 37h1M4 38h1m91 0h1M4 39h1m91 0h1M96 40h1M96 41h1M3 48h1M3 49h1M3 50h1M3 51h1M96 58h1M96 59h1M4 60h1m91 0h1M4 61h1m91 0h1M4 62h1M95 65h1M5 66h1m89 0h1M5 67h1M94 69h1M6 70h1m87 0h1M6 71h1M93 73h1M7 74h1M8 76h1m83 0h1M91 78h1M9 79h1M90 80h1M10 81h1M89 82h1M12 84h1m75 0h1M87 85h1M82 90h1M19 91h1m61 0h1M22 93h1m55 0h1M24 94h1m50 0h1M27 95h1m45 0h1M30 96h2m37 0h2"/>
<path stroke="#8e1a22" d="M38 1h4m17 0h4M32 2h2m33 0h1M29 3h1m41 0h1M26 4h1m47 0h1M23 5h1m53 0h1M21 6h1M80 7h1M18 8h1m63 0h1M17 9h1m65 0h1M84 10h1M85 11h1M14 12h1m71 0h1M13 13h1m73 0h1M12 14h1M11 16h1m77 0h1M10 17h1M90 18h1M9 19h1M91 20h1M8 21h1M92 22h1M7 24h1m85 0h1M93 25h1M6 27h1m87 0h1M94 28h1M5 30h1M5 31h1m89 0h1M95 32h1M4 34h1M4 35h1m91 0h1M4 36h1m91 0h1M96 37h1M3 41h1M3 42h1M3 43h1m93 0h1M3 44h1m93 0h1M3 45h1m93 0h1M3 46h1m93 0h1M3 47h1m93 0h1M97 48h1M97 49h1M97 50h1M97 51h1M3 52h1m93 0h1M3 53h1m93 0h1M3 54h1m93 0h1M3 55h1m93 0h1M3 56h1m93 0h1M3 57h1M3 58h1M96 62h1M4 63h1m91 0h1M4 64h1m91 0h1M4 65h1M95 67h1M5 68h1m89 0h1M5 69h1M94 71h1M6 72h1m87 0h1M93 74h1M7 75h1m85 0h1M8 77h1m83 0h1M8 78h1M91 79h1M9 80h1M90 81h1M11 83h1m77 0h1M12 85h1M13 86h1m73 0h1M14 87h1m71 0h1M15 88h1m69 0h1M16 89h1m67 0h1M17 90h1m65 0h1M18 91h1M20 92h1m59 0h1M21 93h1M23 94h1m52 0h1M26 95h1m47 0h1M29 96h1m41 0h1"/>
<path stroke="#8d1a22" d="M45 0h10M36 1h2m25 0h2M31 2h1m36 0h2M27 3h2m43 0h2M25 4h1m49 0h1M22 5h1M79 6h1M19 7h1m61 0h1M16 9h1M15 10h1m69 0h1M14 11h1M13 12h1M88 14h1M11 15h1m77 0h1M90 17h1M9 18h1M91 19h1M8 20h1M92 21h1M7 23h1m85 0h1M6 25h1M6 26h1m87 0h1M5 28h1M5 29h1m89 0h1M95 30h1M4 32h1M4 33h1m91 0h1M96 34h1M3 37h1M3 38h1M3 39h1m93 0h1M3 40h1m93 0h1M97 41h1M97 42h1M97 57h1M97 58h1M3 59h1m93 0h1M3 60h1m93 0h1M3 61h1M3 62h1M96 65h1M4 66h1m91 0h1M4 67h1M95 69h1M5 70h1m89 0h1M5 71h1M6 73h1m87 0h1M6 74h1M7 76h1m85 0h1M92 78h1M8 79h1M91 80h1M9 81h1M10 82h1m79 0h1M11 84h1m77 0h1M88 85h1M14 88h1M15 89h1M16 90h1M82 91h1M19 92h1m61 0h1M79 93h1M77 94h1M25 95h1m49 0h1M28 96h1m43 0h1"/>
<path stroke="#8b1a22" d="M40 0h5m10 0h6M33 1h3m29 0h2M29 2h2m39 0h2M26 3h1m47 0h1M24 4h1m51 0h1M78 5h1M20 6h1m59 0h1M18 7h1m63 0h1M17 8h1m65 0h1M84 9h1M86 11h1M87 12h1M12 13h1m75 0h1M11 14h1M10 16h1m79 0h1M9 17h1M91 18h1M8 19h1M92 20h1M7 21h1M7 22h1m85 0h1M6 24h1m87 0h1M94 25h1M5 27h1m89 0h1M95 28h1M4 30h1M4 31h1m91 0h1M96 32h1M3 34h1M3 35h1M3 36h1m93 0h1M97 37h1M97 38h1M2 41h1M2 42h1M2 43h1m95 0h1M2 44h1m95 0h1M2 45h1m95 0h1M2 46h1m95 0h1M2 47h1m95 0h1M2 48h1m95 0h1M2 49h1m95 0h1M2 50h1m95 0h1M2 51h1m95 0h1M2 52h1m95 0h1M2 53h1m95 0h1M2 54h1m95 0h1M2 55h1m95 0h1M2 56h1m95 0h1M2 57h1M2 58h1M97 61h1M97 62h1M3 63h1m93 0h1M3 64h1M96 67h1M4 68h1m91 0h1M4 69h1M95 71h1M5 72h1m89 0h1M94 74h1M6 75h1m87 0h1M7 77h1m85 0h1M7 78h1M92 79h1M8 80h1M91 81h1M10 83h1m79 0h1M11 85h1M12 86h1m75 0h1M13 87h1m73 0h1M86 88h1M85 89h1M84 90h1M17 91h1m65 0h1M18 92h1M20 93h1m59 0h1M22 94h1m55 0h1M24 95h1m51 0h1M26 96h2m45 0h1"/>
<path stroke="#8a1a22" d="M37 0h3m21 0h3M32 1h1m34 0h2M28 2h1m43 0h1M25 3h1m49 0h1M23 4h1m53 0h1M21 5h1m57 0h1M19 6h1m61 0h1M16 8h1M15 9h1m69 0h1M14 10h1m71 0h1M13 11h1m73 0h1M12 12h1M89 14h1M10 15h1m79 0h1M91 17h1M8 18h1M92 19h1M7 20h1M93 21h1M6 23h1m87 0h1M5 25h1M5 26h1m89 0h1M4 28h1M4 29h1m91 0h1M96 30h1M3 32h1M3 33h1m93 0h1M97 34h1M97 35h1M2 37h1M2 38h1M2 39h1m95 0h1M2 40h1m95 0h1M98 41h1M98 42h1M98 57h1M98 58h1M2 59h1m95 0h1M2 60h1m95 0h1M2 61h1M97 64h1M3 65h1m93 0h1M3 66h1m93 0h1M3 67h1M96 69h1M4 70h1m91 0h1M4 71h1M5 73h1m89 0h1M5 74h1M6 76h1m87 0h1M93 78h1M7 79h1M92 80h1M8 81h1M9 82h1m81 0h1M10 84h1m79 0h1M89 85h1M12 87h1M13 88h1M14 89h1m71 0h1M15 90h1M16 91h1M82 92h1M19 93h1m61 0h1M21 94h1m57 0h1M23 95h1m53 0h1M25 96h1m48 0h1"/>
<path stroke="#881a22" d="M35 0h2m27 0h2M30 1h2m37 0h2M27 2h1m45 0h1M24 3h1m51 0h1M22 4h1m55 0h1M20 5h1m59 0h1M18 6h1M17 7h1m65 0h1M84 8h1M88 12h1M11 13h1m77 0h1M10 14h1M9 16h1m81 0h1M8 17h1M92 18h1M7 19h1M93 20h1M6 21h1M6 22h1m87 0h1M5 24h1m89 0h1M95 25h1M4 27h1m91 0h1M96 28h1M3 30h1M3 31h1m93 0h1M97 32h1M2 35h1M2 36h1m95 0h1M98 37h1M98 38h1M1 42h1M1 43h1M1 44h1m97 0h1M1 45h1m97 0h1M1 46h1m97 0h1M1 47h1m97 0h1M1 48h1m97 0h1M1 49h1m97 0h1M1 50h1m97 0h1M1 51h1m97 0h1M1 52h1m97 0h1M1 53h1m97 0h1M1 54h1m97 0h1M1 55h1m97 0h1M1 56h1M1 57h1M98 61h1M2 62h1m95 0h1M2 63h1m95 0h1M2 64h1M97 67h1M3 68h1m93 0h1M3 69h1M96 71h1M4 72h1M95 74h1M5 75h1M6 77h1m87 0h1M93 79h1M7 80h1M92 81h1M9 83h1m81 0h1M10 85h1M11 86h1m77 0h1M88 87h1M87 88h1M85 90h1M84 91h1M17 92h1m65 0h1M20 94h1m59 0h1M22 95h1m55 0h1M24 96h1m50 0h2"/>
<path stroke="#861921" d="M33 0h2m31 0h2M29 1h1m41 0h1M26 2h1m47 0h1M23 3h1m53 0h1M21 4h1m57 0h1M19 5h1m61 0h1M82 6h1M16 7h1M15 8h1m69 0h1M14 9h1m71 0h1M13 10h1m73 0h1M12 11h1m75 0h1M11 12h1m77 0h1M90 14h1M9 15h1m81 0h1M92 17h1M7 18h1M93 19h1M6 20h1M94 21h1M5 23h1m89 0h1M4 25h1M4 26h1m91 0h1M3 29h1m93 0h1M97 30h1M2 32h1M2 33h1m95 0h1M2 34h1m95 0h1M98 35h1M1 38h1M1 39h1m97 0h1M1 40h1m97 0h1M1 41h1m97 0h1M99 42h1M99 43h1M99 56h1M99 57h1M1 58h1m97 0h1M1 59h1m97 0h1M1 60h1m97 0h1M1 61h1M98 64h1M2 65h1m95 0h1M2 66h1m95 0h1M97 69h1M3 70h1m93 0h1M96 72h1M4 73h1m91 0h1M4 74h1M95 75h1M5 76h1m89 0h1M6 78h1m87 0h1M6 79h1M93 80h1M7 81h1M8 82h1m83 0h1M9 84h1m81 0h1M90 85h1M11 87h1M12 88h1m75 0h1M13 89h1m73 0h1M14 90h1m71 0h1M15 91h1m69 0h1M16 92h1M18 93h1m63 0h1M19 94h1M21 95h1m57 0h1M23 96h1m53 0h1"/>
<path stroke="#841820" d="M31 0h2m35 0h2M27 1h2m43 0h1M24 2h2m49 0h1M22 3h1m55 0h1M20 4h1m59 0h1M18 5h1M17 6h1m65 0h1M84 7h1M13 9h1M12 10h1M10 13h1m79 0h1M9 14h1M8 16h1m83 0h1M7 17h1M93 18h1M6 19h1M94 20h1M5 22h1m89 0h1M4 24h1M96 25h1M3 27h1M3 28h1m93 0h1M2 30h1M2 31h1m95 0h1M98 32h1M1 35h1M1 36h1m97 0h1M1 37h1m97 0h1M99 38h1M0 42h1M0 43h1M0 44h1M0 45h1m99 0h1M0 46h1m99 0h1M0 47h1m99 0h1M0 48h1m99 0h1M0 49h1m99 0h1M0 50h1m99 0h1M0 51h1m99 0h1M0 52h1m99 0h1M0 53h1m99 0h1M0 54h1m99 0h1M0 55h1M0 56h1M0 57h1M99 61h1M1 62h1m97 0h1M1 63h1m97 0h1M1 64h1M2 67h1m95 0h1M2 68h1m95 0h1M3 71h1m93 0h1M3 72h1M96 74h1M4 75h1M5 77h1m89 0h1M94 79h1M6 80h1M93 81h1M8 83h1m83 0h1M9 85h1M10 86h1m79 0h1M89 87h1M84 92h1M17 93h1m65 0h1M81 94h1M20 95h1M22 96h1"/>
<path stroke="#811720" d="M29 0h2m39 0h1M26 1h1m46 0h2M23 2h1m52 0h1M21 3h1m57 0h1M19 4h1M82 5h1M16 6h1M15 7h1m69 0h1M14 8h1m71 0h1M87 9h1M88 10h1M11 11h1m77 0h1M10 12h1m79 0h1M9 13h1M91 14h1M8 15h1m83 0h1M93 17h1M6 18h1M94 19h1M5 20h1M5 21h1m89 0h1M4 23h1m91 0h1M96 24h1M3 25h1M3 26h1m93 0h1M97 27h1M2 29h1m95 0h1M98 30h1M1 33h1M1 34h1m97 0h1M99 35h1M0 38h1M0 39h1M0 40h1m99 0h1M0 41h1m99 0h1M100 42h1M100 43h1M100 44h1M100 55h1M100 56h1M100 57h1M0 58h1m99 0h1M0 59h1m99 0h1M0 60h1M0 61h1M99 64h1M1 65h1m97 0h1M1 66h1M2 69h1m95 0h1M2 70h1m95 0h1M97 72h1M3 73h1m93 0h1M96 75h1M4 76h1m91 0h1M5 78h1m89 0h1M94 80h1M6 81h1M7 82h1m85 0h1M8 84h1m83 0h1M91 85h1M10 87h1M11 88h1m77 0h1M12 89h1m75 0h1M13 90h1m73 0h1M14 91h1m71 0h1M15 92h1m69 0h1M16 93h1M18 94h1m63 0h1M80 95h1M21 96h1m56 0h1"/>
<path stroke="#7f161f" d="M28 0h1m42 0h2M25 1h1m49 0h1M22 2h1m54 0h1M20 3h1M81 4h1M17 5h1m65 0h1M84 6h1M14 7h1M13 8h1M12 9h1m75 0h1M11 10h1M91 13h1M8 14h1m83 0h1M7 16h1m85 0h1M6 17h1M94 18h1M5 19h1M95 20h1M4 22h1m91 0h1M3 24h1M97 25h1M2 27h1M2 28h1m95 0h1M1 31h1m97 0h1M1 32h1m97 0h1M99 33h1M0 35h1M0 36h1m99 0h1M0 37h1m99 0h1M100 38h1M100 39h1M101 46h1M101 47h1M101 48h1M101 49h1M101 50h1M101 51h1M101 52h1M101 53h1M100 60h1M100 61h1M0 62h1m99 0h1M0 63h1m99 0h1M0 64h1M99 66h1M1 67h1m97 0h1M1 68h1M2 71h1m95 0h1M2 72h1M3 74h1m93 0h1M3 75h1M4 77h1m91 0h1M5 79h1m89 0h1M94 81h1M7 83h1m85 0h1M8 85h1M9 86h1m81 0h1M90 87h1M11 89h1M12 90h1M13 91h1M84 93h1M17 94h1m65 0h1M19 95h1m61 0h1M79 96h1"/>
<path stroke="#7c151e" d="M27 0h1m45 0h1M24 1h1m51 0h1M78 2h1M80 3h1M18 4h1m63 0h1M16 5h1M15 6h1m69 0h1M86 7h1M87 8h1M89 10h1M10 11h1m79 0h1M9 12h1m81 0h1M8 13h1M7 15h1m85 0h1M94 17h1M5 18h1M95 19h1M4 20h1M4 21h1m91 0h1M3 23h1m93 0h1M97 24h1M2 26h1m95 0h1M98 27h1M1 29h1M1 30h1m97 0h1M0 33h1M0 34h1m99 0h1M100 35h1M101 40h1M101 41h1M101 42h1M101 43h1M101 44h1M101 45h1M101 54h1M101 55h1M101 56h1M101 57h1M101 58h1M101 59h1M100 64h1M0 65h1m99 0h1M0 66h1M99 68h1M1 69h1m97 0h1M1 70h1M98 72h1M2 73h1m95 0h1M97 75h1M3 76h1m93 0h1M4 78h1m91 0h1M5 80h1m89 0h1M6 82h1m87 0h1M7 84h1m85 0h1M92 85h1M9 87h1m81 0h1M10 88h1m79 0h1M89 89h1M88 90h1M87 91h1M14 92h1m71 0h1M15 93h1m69 0h1M18 95h1m63 0h1M20 96h1m59 0h1"/>
<path stroke="#7a151d" d="M25 0h2m47 0h1M23 1h1m53 0h1M21 2h1m57 0h1M19 3h1m61 0h1M17 4h1m65 0h1M84 5h1M14 6h1M13 7h1m73 0h1M12 8h1m75 0h1M11 9h1m77 0h1M10 10h1m79 0h1M9 11h1M92 13h1M7 14h1m85 0h1M6 16h1m87 0h1M5 17h1M95 18h1M4 19h1M96 20h1M3 22h1m93 0h1M2 24h1M2 25h1m95 0h1M1 27h1M1 28h1m97 0h1M99 29h1M0 31h1M0 32h1m99 0h1M100 33h1M101 37h1M101 38h1M101 39h1M102 47h1M102 48h1M102 49h1M102 50h1M102 51h1M102 52h1M101 60h1M101 61h1M101 62h1M100 66h1M0 67h1m99 0h1M0 68h1M99 70h1M1 71h1m97 0h1M1 72h1M2 74h1m95 0h1M2 75h1M3 77h1m93 0h1M4 79h1m91 0h1M5 81h1m89 0h1M6 83h1m87 0h1M7 85h1M8 86h1m83 0h1M10 89h1M11 90h1m77 0h1M12 91h1m75 0h1M13 92h1M16 94h1m67 0h1M17 95h1M19 96h1m61 0h1"/>
<path stroke="#78141c" d="M24 0h1m50 0h1M22 1h1m55 0h1M20 2h1m59 0h1M18 3h1m63 0h1M16 4h1M15 5h1m69 0h1M86 6h1M91 11h1M8 12h1m83 0h1M7 13h1M6 15h1m87 0h1M95 17h1M4 18h1M96 19h1M3 21h1m93 0h1M2 23h1m95 0h1M98 24h1M1 26h1m97 0h1M99 27h1M0 29h1M0 30h1m99 0h1M100 31h1M101 34h1M101 35h1M101 36h1M102 40h1M102 41h1M102 42h1M102 43h1M102 44h1M102 45h1M102 46h1M102 53h1M102 54h1M102 55h1M102 56h1M102 57h1M102 58h1M102 59h1M101 63h1M101 64h1M101 65h1M100 68h1M0 69h1m99 0h1M0 70h1M99 72h1M1 73h1m97 0h1M98 75h1M2 76h1M3 78h1m93 0h1M4 80h1m91 0h1M5 82h1m89 0h1M6 84h1m87 0h1M93 85h1M7 86h1M8 87h1m83 0h1M9 88h1m81 0h1M90 89h1M87 92h1M14 93h1m71 0h1M15 94h1m69 0h1M83 95h1M18 96h1m63 0h1"/>
<path stroke="#75131c" d="M23 0h1m52 0h2M21 1h1m57 0h1M19 2h1m61 0h1M17 3h1m65 0h1M84 4h1M14 5h1M13 6h1m73 0h1M12 7h1m75 0h1M11 8h1m77 0h1M10 9h1m79 0h1M9 10h1m81 0h1M8 11h1M93 13h1M6 14h1m87 0h1M5 16h1m89 0h1M4 17h1M96 18h1M3 19h1M3 20h1m93 0h1M2 22h1m95 0h1M1 24h1M1 25h1m97 0h1M0 27h1M0 28h1m99 0h1M100 29h1M101 32h1M101 33h1M102 37h1M102 38h1M102 39h1M103 48h1M103 49h1M103 50h1M103 51h1M102 60h1M102 61h1M102 62h1M101 66h1M101 67h1M100 70h1M0 71h1m99 0h1M0 72h1M1 74h1m97 0h1M1 75h1M98 76h1M2 77h1m95 0h1M3 79h1m93 0h1M4 81h1m91 0h1M5 83h1m89 0h1M6 85h1M93 86h1M8 88h1M9 89h1m81 0h1M10 90h1m79 0h1M11 91h1m77 0h1M12 92h1m75 0h1M13 93h1m73 0h1M14 94h1M16 95h1m67 0h1M17 96h1"/>
<path stroke="#73121b" d="M22 0h1m55 0h1M20 1h1m59 0h1M18 2h1m63 0h1M15 4h1m69 0h1M86 5h1M11 7h1M10 8h1M9 9h1M92 11h1M7 12h1m85 0h1M6 13h1M5 15h1m89 0h1M96 17h1M3 18h1M97 19h1M2 21h1m95 0h1M1 23h1M99 24h1M0 26h1m99 0h1M100 27h1M101 30h1M101 31h1M102 34h1M102 35h1M102 36h1M103 41h1M103 42h1M103 43h1M103 44h1M103 45h1M103 46h1M103 47h1M103 52h1M103 53h1M103 54h1M103 55h1M103 56h1M103 57h1M103 58h1M102 63h1M102 64h1M102 65h1M101 68h1M101 69h1M100 72h1M0 73h1M99 75h1M1 76h1M2 78h1m95 0h1M3 80h1m93 0h1M4 82h1m91 0h1M5 84h1m89 0h1M94 85h1M6 86h1M7 87h1m85 0h1M92 88h1M86 94h1M15 95h1m69 0h1M83 96h1"/>
<path stroke="#70111a" d="M21 0h1m57 0h1M19 1h1m61 0h1M17 2h1M16 3h1m67 0h1M14 4h1M13 5h1m73 0h1M12 6h1m75 0h1M89 7h1M90 8h1M91 9h1M8 10h1m83 0h1M7 11h1m85 0h1M94 13h1M5 14h1m89 0h1M4 16h1m91 0h1M3 17h1M97 18h1M2 20h1m95 0h1M1 22h1m97 0h1M99 23h1M0 24h1M0 25h1m99 0h1M101 28h1M101 29h1M102 32h1M102 33h1M103 37h1M103 38h1M103 39h1M103 40h1M103 59h1M103 60h1M103 61h1M103 62h1M102 66h1M102 67h1M101 70h1M101 71h1M100 73h1M0 74h1m99 0h1M0 75h1M99 76h1M1 77h1m97 0h1M2 79h1m95 0h1M3 81h1m93 0h1M4 83h1m91 0h1M5 85h1m89 0h1M94 86h1M7 88h1M8 89h1m83 0h1M9 90h1m81 0h1M10 91h1m79 0h1M11 92h1m77 0h1M12 93h1m75 0h1M13 94h1m73 0h1M14 95h1M16 96h1m67 0h1"/>
<path stroke="#6e1019" d="M20 0h1M18 1h1M83 2h1M15 3h1m69 0h1M86 4h1M12 5h1M11 6h1m77 0h1M10 7h1m79 0h1M9 8h1m81 0h1M8 9h1M6 12h1m87 0h1M5 13h1M4 15h1m91 0h1M97 17h1M2 18h1M2 19h1m95 0h1M1 21h1m97 0h1M0 23h1M100 24h1M101 27h1M102 30h1M102 31h1M103 34h1M103 35h1M103 36h1M104 41h1M104 42h1M104 43h1M104 44h1M104 45h1M104 46h1M104 47h1M104 48h1M104 49h1M104 50h1M104 51h1M104 52h1M104 53h1M104 54h1M104 55h1M104 56h1M104 57h1M104 58h1M103 63h1M103 64h1M102 68h1M102 69h1M101 72h1M100 75h1M0 76h1M1 78h1m97 0h1M2 80h1m95 0h1M3 82h1m93 0h1M4 84h1m91 0h1M5 86h1M6 87h1m87 0h1M93 88h1M8 90h1M9 91h1M10 92h1M11 93h1M86 95h1M15 96h1m69 0h1"/>
<path stroke="#6c0f19" d="M19 0h1m60 0h1M82 1h1M16 2h1m67 0h1M14 3h1M13 4h1m73 0h1M88 5h1M92 9h1M7 10h1m85 0h1M6 11h1m87 0h1M95 13h1M4 14h1m91 0h1M3 16h1m93 0h1M98 18h1M1 20h1m97 0h1M0 22h1m99 0h1M100 23h1M101 25h1M101 26h1M102 28h1M102 29h1M103 32h1M103 33h1M104 38h1M104 39h1M104 40h1M104 59h1M104 60h1M104 61h1M103 65h1M103 66h1M103 67h1M102 70h1M102 71h1M101 73h1M101 74h1M100 76h1M0 77h1m99 0h1M1 79h1m97 0h1M2 81h1m95 0h1M3 83h1m93 0h1M4 85h1m91 0h1M95 86h1M6 88h1m87 0h1M7 89h1m85 0h1M92 90h1M91 91h1M90 92h1M89 93h1M12 94h1m75 0h1M13 95h1m73 0h1"/>
<path stroke="#690e18" d="M81 0h1M17 1h1m65 0h1M15 2h1m69 0h1M86 3h1M12 4h1M11 5h1m77 0h1M10 6h1m79 0h1M9 7h1m81 0h1M8 8h1m83 0h1M7 9h1m85 0h1M6 10h1M5 12h1m89 0h1M4 13h1M3 15h1m93 0h1M2 17h1m95 0h1M1 19h1m97 0h1M0 21h1m99 0h1M101 24h1M102 27h1M103 30h1M103 31h1M104 35h1M104 36h1M104 37h1M105 42h1M105 43h1M105 44h1M105 45h1M105 46h1M105 47h1M105 48h1M105 49h1M105 50h1M105 51h1M105 52h1M105 53h1M105 54h1M105 55h1M105 56h1M105 57h1M104 62h1M104 63h1M104 64h1M103 68h1M103 69h1M102 72h1M101 75h1M0 78h1m99 0h1M1 80h1m97 0h1M2 82h1m95 0h1M3 84h1m93 0h1M4 86h1M5 87h1m89 0h1M7 90h1M8 91h1m83 0h1M9 92h1m81 0h1M10 93h1m79 0h1M11 94h1m77 0h1M14 96h1m71 0h1"/>
<path stroke="#670d17" d="M18 0h1m63 0h1M16 1h1m67 0h1M14 2h1M13 3h1m73 0h1M88 4h1M9 6h1M8 7h1M94 10h1M5 11h1m89 0h1M4 12h1M96 13h1M3 14h1m93 0h1M2 16h1m95 0h1M1 18h1m97 0h1M0 20h1m99 0h1M101 22h1M101 23h1M102 25h1M102 26h1M103 28h1M103 29h1M104 32h1M104 33h1M104 34h1M105 38h1M105 39h1M105 40h1M105 41h1M105 58h1M105 59h1M105 60h1M105 61h1M104 65h1M104 66h1M104 67h1M103 70h1M103 71h1M102 73h1M102 74h1M101 76h1M0 79h1m99 0h1M1 81h1m97 0h1M2 83h1m95 0h1M3 85h1m93 0h1M96 86h1M5 88h1m89 0h1M6 89h1m87 0h1M93 90h1M12 95h1m75 0h1M13 96h1m73 0h1"/>
<path stroke="#640d16" d="M17 0h1m65 0h1M15 1h1m69 0h1M86 2h1M12 3h1M11 4h1m77 0h1M10 5h1m79 0h1M91 6h1M92 7h1M7 8h1m85 0h1M6 9h1m87 0h1M5 10h1M96 12h1M3 13h1m93 0h1M2 15h1m95 0h1M1 17h1m97 0h1M0 19h1m99 0h1M101 21h1M102 24h1M103 27h1M104 30h1M104 31h1M105 35h1M105 36h1M105 37h1M105 62h1M105 63h1M105 64h1M104 68h1M104 69h1M103 72h1M102 75h1M101 77h1M101 78h1M0 80h1m99 0h1M1 82h1m97 0h1M2 84h1m95 0h1M3 86h1M4 87h1m91 0h1M5 89h1M6 90h1m87 0h1M7 91h1m85 0h1M8 92h1m83 0h1M9 93h1m81 0h1M10 94h1m79 0h1M11 95h1m77 0h1M12 96h1"/>
<path stroke="#620c16" d="M16 0h1m67 0h1M14 1h1M13 2h1m73 0h1M88 3h1M10 4h1M9 5h1M8 6h1M7 7h1M6 8h1M95 10h1M4 11h1m91 0h1M3 12h1M2 14h1m95 0h1M1 16h1m97 0h1M0 18h1m99 0h1M101 20h1M102 22h1M102 23h1M103 25h1M103 26h1M104 29h1M105 33h1M105 34h1M105 65h1M105 66h1M104 70h1M103 73h1M103 74h1M102 76h1M101 79h1M0 81h1m99 0h1M1 83h1m97 0h1M2 85h1m95 0h1M97 86h1M3 87h1M4 88h1m91 0h1M95 89h1M7 92h1M8 93h1M9 94h1M88 96h1"/>
<path stroke="#600b15" d="M15 0h1M86 1h1M12 2h1M11 3h1m77 0h1M90 4h1M91 5h1M92 6h1M93 7h1M94 8h1M5 9h1m89 0h1M4 10h1M97 12h1M2 13h1m95 0h1M1 15h1m97 0h1M0 17h1m99 0h1M101 19h1M102 21h1M103 24h1M104 27h1M104 28h1M105 30h1M105 31h1M105 32h1M105 67h1M105 68h1M104 71h1M104 72h1M103 75h1M102 77h1M102 78h1M101 80h1M0 82h1m99 0h1M1 84h1m97 0h1M2 86h1M97 87h1M4 89h1M5 90h1m89 0h1M6 91h1m87 0h1M93 92h1M92 93h1M91 94h1M10 95h1m79 0h1M11 96h1m77 0h1"/>
<path stroke="#5d0a14" d="M85 0h1M13 1h1m73 0h1M88 2h1M10 3h1M9 4h1m81 0h1M8 5h1m83 0h1M7 6h1m85 0h1M6 7h1m87 0h1M5 8h1M96 10h1M3 11h1m93 0h1M2 12h1M1 14h1m97 0h1M0 16h1m99 0h1M101 18h1M102 20h1M103 23h1M104 25h1M104 26h1M105 29h1M105 69h1M105 70h1M104 73h1M104 74h1M103 76h1M102 79h1M101 81h1M0 83h1m99 0h1M1 85h1m97 0h1M98 86h1M2 87h1M3 88h1m93 0h1M96 89h1M5 91h1M6 92h1M7 93h1m85 0h1M8 94h1m83 0h1M9 95h1"/>
<path stroke="#5b0a13" d="M14 0h1m71 0h1M12 1h1M11 2h1m77 0h1M90 3h1M95 8h1M4 9h1m91 0h1M3 10h1m93 0h1M98 12h1M1 13h1m97 0h1M0 15h1m99 0h1M101 17h1M102 19h1M103 21h1M103 22h1M104 24h1M105 27h1M105 28h1M105 71h1M105 72h1M104 75h1M103 77h1M103 78h1M102 80h1M101 82h1M0 84h1m99 0h1M1 86h1m97 0h1M98 87h1M3 89h1M4 90h1m91 0h1M95 91h1M94 92h1M91 95h1M10 96h1m79 0h1"/>
<path stroke="#580912" d="M13 0h1m73 0h1M88 1h1M10 2h1M9 3h1m81 0h1M8 4h1m83 0h1M7 5h1m85 0h1M6 6h1m87 0h1M5 7h1m89 0h1M4 8h1m91 0h1M3 9h1M2 11h1m95 0h1M1 12h1M0 14h1m99 0h1M101 16h1M102 18h1M103 20h1M104 23h1M105 25h1M105 26h1M105 73h1M104 76h1M103 79h1M102 81h1M101 83h1M0 85h1m99 0h1M1 87h1M2 88h1m95 0h1M97 89h1M4 91h1M5 92h1m89 0h1M6 93h1m87 0h1M7 94h1m85 0h1M8 95h1m83 0h1M9 96h1m81 0h1"/>
<path stroke="#560811" d="M12 0h1M11 1h1m77 0h1M90 2h1M8 3h1M7 4h1M6 5h1M5 6h1M97 9h1M2 10h1m95 0h1M1 11h1M99 12h1M0 13h1m99 0h1M101 15h1M102 17h1M103 19h1M104 21h1M104 22h1M105 24h1M105 74h1M105 75h1M104 77h1M104 78h1M103 80h1M102 82h1M101 84h1M0 86h1m99 0h1M99 87h1M2 89h1m95 0h1M3 90h1m93 0h1M96 91h1M6 94h1M7 95h1"/>
<path stroke="#530710" d="M88 0h1M10 1h1m79 0h1M9 2h1m81 0h1M92 3h1M93 4h1M94 5h1M95 6h1M4 7h1m91 0h1M3 8h1m93 0h1M2 9h1M99 11h1M0 12h1M101 14h1M102 16h1M103 18h1M104 20h1M105 23h1M105 76h1M104 79h1M103 81h1M102 83h1M101 85h1M0 87h1M1 88h1m97 0h1M2 90h1M3 91h1m93 0h1M4 92h1m91 0h1M5 93h1m89 0h1M94 94h1M93 95h1M8 96h1m83 0h1"/>
<path stroke="#51070f" d="M11 0h1m77 0h1M8 2h1M7 3h1m85 0h1M6 4h1m87 0h1M5 5h1m89 0h1M4 6h1m91 0h1M3 7h1M98 9h1M1 10h1m97 0h1M0 11h1M100 12h1M101 13h1M102 15h1M103 17h1M104 19h1M105 21h1M105 22h1M105 77h1M104 80h1M103 82h1M102 84h1M101 86h1M100 87h1M1 89h1m97 0h1M98 90h1M4 93h1M5 94h1m89 0h1M6 95h1m87 0h1M7 96h1"/>
<path stroke="#4e060e" d="M10 0h1m79 0h1M9 1h1m81 0h1M92 2h1M97 7h1M2 8h1m95 0h1M1 9h1M100 11h1M101 12h1M102 14h1M103 16h1M104 18h1M105 20h1M105 78h1M105 79h1M104 81h1M103 83h1M102 85h1M0 88h1m99 0h1M1 90h1M2 91h1m95 0h1M3 92h1m93 0h1M96 93h1M93 96h1"/>
<path stroke="#4b050d" d="M8 1h1m83 0h1M7 2h1m85 0h1M6 3h1m87 0h1M5 4h1m89 0h1M4 5h1m91 0h1M3 6h1m93 0h1M2 7h1M99 9h1M0 10h1m99 0h1M102 13h1M103 15h1M104 17h1M105 19h1M105 80h1M104 82h1M103 84h1M102 86h1M101 87h1M0 89h1m99 0h1M99 90h1M2 92h1M3 93h1m93 0h1M4 94h1m91 0h1M5 95h1m89 0h1M6 96h1m87 0h1"/>
<path stroke="#49050c" d="M9 0h1m81 0h1M6 2h1M5 3h1M4 4h1M3 5h1M98 7h1M1 8h1m97 0h1M0 9h1m99 0h1M101 11h1M102 12h1M103 14h1M104 16h1M105 18h1M105 81h1M104 83h1M103 85h1M102 87h1M101 88h1M0 90h1M1 91h1m97 0h1M98 92h1"/>
<path stroke="#46040b" d="M8 0h1m83 0h1M7 1h1m85 0h1M94 2h1M95 3h1M96 4h1M97 5h1M2 6h1m95 0h1M1 7h1m97 0h1M0 8h1M101 10h1M103 13h1M104 15h1M105 17h1M105 82h1M104 84h1M103 86h1M101 89h1M100 90h1M1 92h1m97 0h1M2 93h1m95 0h1M3 94h1m93 0h1M4 95h1m91 0h1M5 96h1m89 0h1"/>
<path stroke="#44030a" d="M6 1h1M5 2h1m89 0h1M4 3h1m91 0h1M3 4h1m93 0h1M2 5h1M1 6h1M100 8h1M101 9h1M102 11h1M103 12h1M104 14h1M105 16h1M105 83h1M104 85h1M103 87h1M102 88h1M101 90h1M0 91h1m99 0h1M2 94h1M3 95h1M4 96h1"/>
<path stroke="#410209" d="M7 0h1m85 0h1M94 1h1M98 5h1M99 6h1M0 7h1m99 0h1M102 10h1M104 13h1M105 15h1M105 84h1M104 86h1M102 89h1M0 92h1m99 0h1M1 93h1m97 0h1M98 94h1M97 95h1M96 96h1"/>
<path stroke="#400209" d="M6 0h1m87 0h1M5 1h1m89 0h1M4 2h1m91 0h1M3 3h1m93 0h1M2 4h1m95 0h1M1 5h1m97 0h1M0 6h1M101 8h1M102 9h1M103 11h1M104 12h1M105 14h1M105 85h1M104 87h1M103 88h1M102 90h1M101 91h1M0 93h1M1 94h1m97 0h1M2 95h1m95 0h1M3 96h1m93 0h1"/>
<path stroke="#3e0209" d="M4 1h1M3 2h1M2 3h1M100 6h1M101 7h1M102 8h1M103 10h1M104 11h1M105 13h1M105 86h1M103 89h1M101 92h1M100 93h1"/>
<path stroke="#3c0209" d="M5 0h1m89 0h1M96 1h1M97 2h1M98 3h1M1 4h1m97 0h1M0 5h1m99 0h1M101 6h1M103 9h1M105 12h1M105 87h1M104 88h1M103 90h1M102 91h1M0 94h1m99 0h1M1 95h1m97 0h1M2 96h1m95 0h1"/>
<path stroke="#3b0208" d="M4 0h1M3 1h1m93 0h1M2 2h1m95 0h1M1 3h1m97 0h1M0 4h1M102 7h1M103 8h1M104 10h1M105 11h1M105 88h1M104 89h1M103 91h1M102 92h1M101 93h1M0 95h1M1 96h1"/>
<path stroke="#390208" d="M96 0h1M100 4h1M101 5h1M102 6h1M104 9h1M104 90h1M102 93h1M101 94h1M100 95h1M99 96h1"/>
<path stroke="#370208" d="M3 0h1m93 0h1M2 1h1m95 0h1M1 2h1m97 0h1M0 3h1m99 0h1M101 4h1M103 7h1M104 8h1M105 10h1M105 89h1M104 91h1M103 92h1M0 96h1m99 0h1"/>
<path stroke="#350207" d="M2 0h1M1 1h1M0 2h1M102 5h1M103 6h1M105 9h1M105 90h1M103 93h1M102 94h1M101 95h1"/>
<path stroke="#340207" d="M98 0h1M99 1h1M100 2h1M101 3h1M102 4h1M103 5h1M104 7h1M105 8h1M105 91h1M104 92h1M102 95h1M101 96h1"/>
<path stroke="#320207" d="M1 0h1m97 0h1M0 1h1m99 0h1M101 2h1M104 6h1M105 7h1M104 93h1M103 94h1"/>
<path stroke="#300206" d="M102 3h1M103 4h1M104 5h1M105 92h1M104 94h1M103 95h1M102 96h1"/>
<path stroke="#2e0206" d="M0 0h1m99 0h1M101 1h1M102 2h1M103 3h1M105 6h1M105 93h1"/>
<path stroke="#2d0206" d="M104 4h1M105 5h1M105 94h1M104 95h1M103 96h1"/>
<path stroke="#2b0206" d="M101 0h1M102 1h1M103 2h1M104 3h1M104 96h1"/>
<path stroke="#2a0306" d="M102 0h1M103 1h1M105 4h1M105 95h1"/>
<path stroke="#290307" d="M104 2h1M105 3h1M105 96h1"/>
<path stroke="#270408" d="M103 0h1M104 1h1M105 2h1"/>
<path stroke="#250609" d="M104 0h1M105 1h1"/>
<path stroke="#24070a" d="M105 0h1"/>
</g>
</g></g>
<rect x="76.60" y="315.20" width="202.00" height="185.00" fill="none" stroke="#231f20" stroke-width="1.30"/>
<path d="M71.40 315.20H76.60" stroke="#231f20" stroke-width="2.30"/>
<text transform="translate(69.70 323.56) scale(1.000 1.080)" font-family="Liberation Sans, Arial, sans-serif" font-size="21.60" fill="#231f20" stroke="#231f20" stroke-width="0.3" text-anchor="end">0.50</text>
<path d="M71.40 361.45H76.60" stroke="#231f20" stroke-width="2.30"/>
<text transform="translate(69.70 369.81) scale(1.000 1.080)" font-family="Liberation Sans, Arial, sans-serif" font-size="21.60" fill="#231f20" stroke="#231f20" stroke-width="0.3" text-anchor="end">0.25</text>
<path d="M71.40 407.70H76.60" stroke="#231f20" stroke-width="2.30"/>
<text transform="translate(69.70 416.06) scale(1.000 1.080)" font-family="Liberation Sans, Arial, sans-serif" font-size="21.60" fill="#231f20" stroke="#231f20" stroke-width="0.3" text-anchor="end">0.00</text>
<path d="M71.40 453.95H76.60" stroke="#231f20" stroke-width="2.30"/>
<text transform="translate(70.90 462.31) scale(1.000 1.080)" font-family="Liberation Sans, Arial, sans-serif" font-size="21.60" fill="#231f20" stroke="#231f20" stroke-width="0.3" text-anchor="end">-0.25</text>
<path d="M71.40 500.20H76.60" stroke="#231f20" stroke-width="2.30"/>
<text transform="translate(70.90 508.56) scale(1.000 1.080)" font-family="Liberation Sans, Arial, sans-serif" font-size="21.60" fill="#231f20" stroke="#231f20" stroke-width="0.3" text-anchor="end">-0.50</text>
<path d="M76.60 500.20V505.40" stroke="#231f20" stroke-width="2.30"/>
<text transform="translate(76.60 526.50) scale(1.000 1.080)" font-family="Liberation Sans, Arial, sans-serif" font-size="21.60" fill="#231f20" stroke="#231f20" stroke-width="0.3" text-anchor="middle">-0.50</text>
<path d="M177.60 500.20V505.40" stroke="#231f20" stroke-width="2.30"/>
<text transform="translate(177.60 526.50) scale(1.000 1.080)" font-family="Liberation Sans, Arial, sans-serif" font-size="21.60" fill="#231f20" stroke="#231f20" stroke-width="0.3" text-anchor="middle">0.00</text>
<path d="M278.60 500.20V505.40" stroke="#231f20" stroke-width="2.30"/>
<text transform="translate(278.60 526.50) scale(1.000 1.080)" font-family="Liberation Sans, Arial, sans-serif" font-size="21.60" fill="#231f20" stroke="#231f20" stroke-width="0.3" text-anchor="middle">0.50</text>
<rect x="291.00" y="315.20" width="9.60" height="185.00" fill="url(#cmg)" stroke="#231f20" stroke-width="1.1"/>
<path d="M300.60 500.20H305.60" stroke="#231f20" stroke-width="2.3"/>
<text transform="translate(306.20 508.66) scale(1.000 1.080)" font-family="Liberation Sans, Arial, sans-serif" font-size="21.60" fill="#231f20" stroke="#231f20" stroke-width="0.3">0.0</text>
<path d="M300.60 438.53H305.60" stroke="#231f20" stroke-width="2.3"/>
<text transform="translate(306.20 447.00) scale(1.000 1.080)" font-family="Liberation Sans, Arial, sans-serif" font-size="21.60" fill="#231f20" stroke="#231f20" stroke-width="0.3">0.5</text>
<path d="M300.60 376.87H305.60" stroke="#231f20" stroke-width="2.3"/>
<text transform="translate(306.20 385.33) scale(1.000 1.080)" font-family="Liberation Sans, Arial, sans-serif" font-size="21.60" fill="#231f20" stroke="#231f20" stroke-width="0.3">1.0</text>
<path d="M300.60 315.20H305.60" stroke="#231f20" stroke-width="2.3"/>
<text transform="translate(306.20 323.66) scale(1.000 1.080)" font-family="Liberation Sans, Arial, sans-serif" font-size="21.60" fill="#231f20" stroke="#231f20" stroke-width="0.3">1.5</text>
<text x="109.70" y="307.70" font-family="Liberation Serif, Times New Roman, serif" font-size="24.00" fill="#231f20" stroke="#231f20" stroke-width="0.3">max</text>
<text x="151.20" y="307.70" font-family="Liberation Serif, Times New Roman, serif" font-size="24.00" fill="#231f20" stroke="#231f20" stroke-width="0.3">|</text>
<text x="156.70" y="307.70" font-family="Liberation Serif, Times New Roman, serif" font-size="23.80" fill="#231f20" stroke="#231f20" stroke-width="0.3">Re</text>
<text x="182.70" y="307.70" font-family="Liberation Serif, Times New Roman, serif" font-size="24.00" fill="#231f20" stroke="#231f20" stroke-width="0.3">(</text>
<text x="188.30" y="306.90" font-family="DejaVu Serif, serif" font-size="26.50" fill="#231f20" stroke="#231f20" stroke-width="0.3">&#916;</text>
<text x="205.00" y="309.50" font-family="Liberation Serif, Times New Roman, serif" font-size="17.00" fill="#231f20" stroke="#231f20" stroke-width="0.3" font-style="italic">n,m</text>
<text x="229.50" y="307.70" font-family="Liberation Serif, Times New Roman, serif" font-size="24.00" fill="#231f20" stroke="#231f20" stroke-width="0.3">)</text>
<text x="236.95" y="307.70" font-family="Liberation Serif, Times New Roman, serif" font-size="24.00" fill="#231f20" stroke="#231f20" stroke-width="0.3">|</text>
<text x="242.00" y="307.90" font-family="Liberation Serif, Times New Roman, serif" font-size="24.50" fill="#231f20" stroke="#231f20" stroke-width="0.3">/</text>
<text x="247.80" y="307.80" font-family="Liberation Serif, Times New Roman, serif" font-size="29.50" fill="#231f20" stroke="#231f20" stroke-width="0.3" font-style="italic">&#954;</text>
<g transform="translate(17.30 425.60) rotate(-90)">
<text transform="translate(0.30 0.00) scale(1.000 1.060)" font-family="DejaVu Sans, sans-serif" font-size="20.60" fill="#231f20" stroke="#231f20" stroke-width="0.3" font-style="italic">&#955;</text>
<text x="14.30" y="3.60" font-family="DejaVu Sans, sans-serif" font-size="14.00" fill="#231f20" stroke="#231f20" stroke-width="0.3">1</text>
<text x="23.30" y="0.60" font-family="DejaVu Sans, sans-serif" font-size="22.00" fill="#231f20" stroke="#231f20" stroke-width="0.3">/</text>
<text x="33.40" y="0.00" font-family="Liberation Serif, Times New Roman, serif" font-size="27.50" fill="#231f20" stroke="#231f20" stroke-width="0.3" font-style="italic">&#954;</text>
</g>
<text transform="translate(158.90 550.00) scale(1.000 1.060)" font-family="DejaVu Sans, sans-serif" font-size="20.60" fill="#231f20" stroke="#231f20" stroke-width="0.3" font-style="italic">&#955;</text>
<text x="172.90" y="553.60" font-family="DejaVu Sans, sans-serif" font-size="14.00" fill="#231f20" stroke="#231f20" stroke-width="0.3">2</text>
<text x="181.90" y="550.60" font-family="DejaVu Sans, sans-serif" font-size="22.00" fill="#231f20" stroke="#231f20" stroke-width="0.3">/</text>
<text x="192.00" y="550.00" font-family="Liberation Serif, Times New Roman, serif" font-size="27.50" fill="#231f20" stroke="#231f20" stroke-width="0.3" font-style="italic">&#954;</text>
<text x="350.50" y="305.10" font-family="Liberation Sans, Arial, sans-serif" font-size="32.50" fill="#231f20" stroke="#231f20" stroke-width="0.3">c</text>
<g clip-path="url(#clc)"><g filter="url(#bl)">
<g transform="translate(420.10 312.20) scale(2.000)" shape-rendering="crispEdges" fill="none">
<path stroke="#ffffff" d="M84 0h1M19 4h1M20 5h1M21 6h1m57 0h1M78 7h1M77 8h1M64 21h1M37 22h1M37 77h1M64 78h1M77 91h1M78 92h1M21 93h1m57 0h1M20 94h1M19 95h1"/>
<path stroke="#fefcf9" d="M16 0h1M16 1h2m65 0h1M17 2h1m64 0h1M18 3h1m63 0h1M81 4h1M80 5h1M22 7h1M23 8h1M76 9h1M75 10h1M74 11h1M28 14h1M28 85h1M74 88h1M75 89h1M76 90h1M23 91h1M22 92h1M80 94h1M81 95h1M18 96h1m63 0h1"/>
<path stroke="#fef9f4" d="M15 0h1m69 0h1M84 1h1M18 2h1m64 0h1M19 3h1m61 0h1M80 4h1M22 8h1M23 9h2M24 10h2M25 11h2M26 12h1m46 0h1M27 13h1m44 0h1M71 14h1M29 15h1M30 16h1M31 17h1M66 19h1M65 20h1M65 79h1M66 80h1M31 82h1M30 83h1M29 84h1M71 85h1M27 86h1m44 0h1M26 87h1m46 0h1M25 88h2M24 89h2M23 90h2M22 91h1M80 95h1M19 96h1m61 0h1"/>
<path stroke="#fdf6ef" d="M83 0h1M18 4h1m1 0h1M19 5h1m1 0h1m57 0h1M20 6h1m57 0h1M21 7h1M78 8h1M77 9h1M76 10h1M75 11h1M27 12h1m46 0h1M28 13h1m44 0h1M72 14h1M70 15h2M69 16h2M68 17h1M32 18h1m34 0h1M36 21h1M36 78h1M32 81h1m34 0h1M68 82h1M69 83h2M70 84h2M72 85h1M28 86h1m44 0h1M27 87h1m46 0h1M75 88h1M76 89h1M77 90h1M78 91h1M21 92h1M20 93h1m57 0h1M19 94h1m1 0h1m57 0h1M18 95h1m1 0h1"/>
<path stroke="#fdf3ea" d="M17 0h1M15 1h1m2 0h1m63 0h1M16 2h1m64 0h1M17 3h1m65 0h1M82 4h1M81 5h1M22 6h1m57 0h1M23 7h1m53 0h1m1 0h1M76 8h1M29 14h1M30 15h1M31 16h1M69 17h1M68 18h1M33 19h1M35 20h1M63 22h1M60 24h1M60 75h1M63 77h1M35 79h1M33 80h1M68 81h1M69 82h1M31 83h1M30 84h1M29 85h1M76 91h1M23 92h1m53 0h1m1 0h1M22 93h1m57 0h1M81 94h1M82 95h1M17 96h1m65 0h1"/>
<path stroke="#fdf0e5" d="M14 0h1m71 0h1M85 1h1M19 2h1m64 0h1M80 3h1M79 4h1M24 8h1M75 9h1M74 10h1M32 17h1M33 18h1M34 19h1M34 20h1M34 79h1M34 80h1M33 81h1M32 82h1M74 89h1M75 90h1M24 91h1M79 95h1M80 96h1"/>
<path stroke="#fcede0" d="M82 0h1M20 3h1M21 4h1M18 5h1m59 0h1M19 6h1M20 7h1M21 8h1M22 9h1m2 0h1M23 10h1m2 0h1M24 11h1m48 0h1M25 12h1m46 0h1M26 13h1M27 14h1M67 19h1M67 80h1M27 85h1M26 86h1M25 87h1m46 0h1M24 88h1m48 0h1M23 89h1m2 0h1M22 90h1m2 0h1M21 91h1M20 92h1M19 93h1M18 94h1m59 0h1M21 95h1M20 96h1"/>
<path stroke="#fceada" d="M13 0h1m4 0h1M14 1h1m4 0h1m61 0h1M15 2h1m64 0h1M16 3h1m67 0h1M17 4h1m65 0h1M22 5h1m59 0h1M23 6h1m53 0h1m3 0h1M76 7h1m3 0h1M79 8h1M78 9h1M77 10h1M27 11h1m48 0h1M75 12h1M71 13h1m2 0h1M28 15h1M29 16h1M38 23h1M38 76h1M29 83h1M28 84h1M71 86h1m2 0h1M75 87h1M27 88h1m48 0h1M77 89h1M78 90h1M79 91h1M76 92h1m3 0h1M23 93h1m53 0h1m3 0h1M22 94h1m59 0h1M17 95h1m65 0h1M16 96h1m67 0h1"/>
<path stroke="#fbe7d5" d="M87 0h1M86 1h1M20 2h1m64 0h1M79 3h1M24 7h1M75 8h1M28 12h1M29 13h1M70 14h1m2 0h1M69 15h1m2 0h1M30 17h1M66 20h1M35 21h1M35 78h1M66 79h1M30 82h1M69 84h1m2 0h1M70 85h1m2 0h1M29 86h1M28 87h1M75 91h1M24 92h1M79 96h1"/>
<path stroke="#fbe4cf" d="M81 0h1M21 3h1M22 4h1m55 0h1M77 5h1M25 8h1M74 9h1M73 10h1M30 14h1M68 16h1m2 0h1M68 83h1m2 0h1M30 85h1M73 89h1M74 90h1M25 91h1M77 94h1M22 95h1m55 0h1M21 96h1"/>
<path stroke="#fbe1c9" d="M12 0h1m6 0h1M13 1h1m6 0h1m59 0h1m6 0h1M14 2h1m64 0h1m6 0h1M15 3h1m69 0h1M16 4h1m67 0h1M17 5h1m5 0h1m59 0h1M18 6h1m57 0h1m5 0h1M19 7h1m61 0h1M20 8h1m59 0h1M21 9h1m4 0h1M22 10h1m4 0h1M23 11h1m48 0h1M24 12h1M31 15h1M67 17h1m2 0h1M31 18h1m34 0h1M31 81h1m34 0h1M67 82h1m2 0h1M31 84h1M24 87h1M23 88h1m48 0h1M22 89h1m4 0h1M21 90h1m4 0h1M20 91h1m59 0h1M19 92h1m61 0h1M18 93h1m57 0h1m5 0h1M17 94h1m5 0h1m59 0h1M16 95h1m67 0h1M15 96h1m69 0h1"/>
<path stroke="#faddc3" d="M88 0h1M21 2h1M78 3h1M24 6h1M75 7h1M79 9h1M78 10h1M28 11h1m48 0h1M71 12h1m4 0h1M25 13h1M26 14h1M32 16h1M33 17h1M69 18h1M32 19h1m32 0h1M65 21h1M65 78h1M32 80h1m32 0h1M69 81h1M33 82h1M32 83h1M26 85h1M25 86h1M71 87h1m4 0h1M28 88h1m48 0h1M78 89h1M79 90h1M75 92h1M24 93h1M78 96h1"/>
<path stroke="#fadabd" d="M80 0h1M12 1h1M22 3h1M77 4h1M25 7h1M74 8h1M29 12h1M70 13h1m4 0h1M74 14h1M27 15h1M34 18h1M64 20h1M63 21h1M62 22h1M61 23h2M61 76h2M62 77h1M63 78h1M64 79h1M34 81h1M27 84h1M74 85h1M70 86h1m4 0h1M29 87h1M74 91h1M25 92h1M77 95h1M22 96h1"/>
<path stroke="#fad6b6" d="M11 0h1m8 0h1m68 0h1M21 1h1m57 0h1m8 0h1M13 2h1m64 0h1m8 0h1M14 3h1m71 0h1M15 4h1m7 0h1m61 0h1M16 5h1m59 0h1m7 0h1M17 6h1M18 7h1M19 8h1m6 0h1M20 9h1m52 0h1M30 13h1M69 14h1M73 15h1M28 16h1M35 19h1m32 0h1M35 80h1m32 0h1M28 83h1M73 84h1M69 85h1M30 86h1M20 90h1m52 0h1M19 91h1m6 0h1M18 92h1M17 93h1M16 94h1m59 0h1m7 0h1M15 95h1m7 0h1m61 0h1M14 96h1m71 0h1"/>
<path stroke="#f9d3b0" d="M22 2h1M77 3h1M24 5h1M75 6h1m7 0h1M82 7h1M81 8h1M27 9h1m52 0h1M21 10h1m50 0h1m6 0h1M22 11h1M23 12h1M31 14h1M68 15h1M72 16h1M29 17h1M33 20h1m2 0h1M36 22h1M36 77h1M33 79h1m2 0h1M29 82h1M72 83h1M68 84h1M31 85h1M23 87h1M22 88h1M21 89h1m50 0h1m6 0h1M27 90h1m52 0h1M81 91h1M82 92h1M75 93h1m7 0h1M24 94h1M77 96h1"/>
<path stroke="#f9d0aa" d="M10 0h1m10 0h1m57 0h1M11 1h1M12 2h1M13 3h1m9 0h1M14 4h1m61 0h1M25 6h1M26 7h1m47 0h1M28 10h1M71 11h1m6 0h1M77 12h1M24 13h1M32 15h1M67 16h1M37 21h1M37 78h1M67 83h1M32 84h1M24 86h1M77 87h1M71 88h1m6 0h1M28 89h1M26 92h1m47 0h1M25 93h1M14 95h1m61 0h1M13 96h1m9 0h1"/>
<path stroke="#f8cca4" d="M90 0h1M22 1h1m55 0h1m10 0h1M77 2h1m10 0h1M87 3h1M24 4h1m61 0h1M15 5h1m59 0h1m9 0h1M16 6h1M17 7h1M18 8h1m54 0h1M29 11h1M70 12h1M76 13h1M25 14h1M66 17h1m4 0h1M30 18h1M67 20h1M38 22h1M38 77h1M67 79h1M30 81h1M66 82h1m4 0h1M25 85h1M76 86h1M70 87h1M29 88h1M18 91h1m54 0h1M17 92h1M16 93h1M15 94h1m59 0h1m9 0h1M24 95h1m61 0h1M87 96h1"/>
<path stroke="#f8c89d" d="M23 2h1M76 3h1M25 5h1M74 6h1m9 0h1M83 7h1M27 8h1m54 0h1M19 9h1m52 0h1M20 10h1M30 12h1M69 13h1M75 14h1M26 15h1M33 16h1M70 18h1M64 22h1M39 23h1M39 76h1M64 77h1M70 81h1M33 83h1M26 84h1M75 85h1M69 86h1M30 87h1M20 89h1M19 90h1m52 0h1M27 91h1m54 0h1M83 92h1M74 93h1m9 0h1M25 94h1M76 96h1"/>
<path stroke="#f8c596" d="M9 0h1m12 0h1m55 0h1m12 0h1M10 1h1m79 0h1M11 2h1M12 3h1m11 0h1M13 4h1m61 0h1M26 6h1M73 7h1M28 9h1m52 0h1M71 10h1m8 0h1M21 11h1M22 12h1M31 13h1M68 14h1M74 15h1M27 16h1M34 17h1M65 18h1M31 19h1M34 21h1M40 24h1M40 75h1M34 78h1M31 80h1M65 81h1M34 82h1M27 83h1M74 84h1M68 85h1M31 86h1M22 87h1M21 88h1M71 89h1m8 0h1M28 90h1m52 0h1M73 92h1M26 93h1M13 95h1m61 0h1M12 96h1m11 0h1"/>
<path stroke="#f7c18f" d="M23 1h1m53 0h1M89 2h1M88 3h1M25 4h1m61 0h1M14 5h1m71 0h1M15 6h1M16 7h1m10 0h1M72 8h1M29 10h1M70 11h1m8 0h1M78 12h1M23 13h1M73 16h1M64 19h1M64 80h1M73 83h1M23 86h1M78 87h1M70 88h1m8 0h1M29 89h1M72 91h1M16 92h1m10 0h1M15 93h1M14 94h1m71 0h1M25 95h1m61 0h1M88 96h1"/>
<path stroke="#f7be88" d="M8 0h1M9 1h1M10 2h1m13 0h1m51 0h1M26 5h1m47 0h1M85 6h1M84 7h1M17 8h1m10 0h1m54 0h1M18 9h1M30 11h1M69 12h1M77 13h1M24 14h1m7 0h1M67 15h1M28 17h1M35 18h1M69 19h1M66 21h1M66 78h1M69 80h1M35 81h1M28 82h1M67 84h1M24 85h1m7 0h1M77 86h1M69 87h1M30 88h1M18 90h1M17 91h1m10 0h1m54 0h1M84 92h1M85 93h1M26 94h1m47 0h1"/>
<path stroke="#f7ba81" d="M23 0h1m53 0h1m14 0h1M91 1h1M90 2h1M11 3h1m13 0h1m49 0h1m13 0h1M12 4h1M13 5h1M73 6h1M71 9h1m10 0h1M19 10h1m61 0h1M20 11h1M76 14h1M25 15h1m7 0h1M66 16h1M72 17h1M36 19h1M32 20h1m30 0h1M32 79h1m30 0h1M36 80h1M72 82h1M66 83h1M25 84h1m7 0h1M76 85h1M20 88h1M19 89h1m61 0h1M71 90h1m10 0h1M73 93h1M13 94h1M12 95h1M11 96h1m13 0h1m49 0h1m13 0h1"/>
<path stroke="#f6b67a" d="M7 0h1M24 1h1m51 0h1M74 4h1m13 0h1M87 5h1M14 6h1m12 0h1m58 0h1M15 7h1m56 0h1M29 9h1M70 10h1M80 11h1M21 12h1m9 0h1M68 13h1M75 15h1M29 18h1M29 81h1M75 84h1M68 86h1M21 87h1m9 0h1M80 88h1M70 89h1M29 90h1M15 92h1m56 0h1M14 93h1m12 0h1m58 0h1M87 94h1M74 95h1m13 0h1"/>
<path stroke="#f6b373" d="M76 0h1m16 0h1M8 1h1m83 0h1M9 2h1m15 0h1m49 0h1M10 3h1M26 4h1M73 5h1M28 7h1m56 0h1M16 8h1m54 0h1m12 0h1M17 9h1M30 10h1M69 11h1M79 12h1M22 13h1m9 0h1M67 14h1M26 16h1m7 0h1M65 17h1M71 18h1M37 20h1m30 0h1M62 21h1M37 23h1M37 76h1M62 78h1M37 79h1m30 0h1M71 81h1M65 82h1M26 83h1m7 0h1M67 85h1M22 86h1m9 0h1M79 87h1M69 88h1M30 89h1M17 90h1M16 91h1m54 0h1m12 0h1M28 92h1m56 0h1M73 94h1M26 95h1M10 96h1"/>
<path stroke="#f5af6c" d="M24 0h1M75 1h1M91 2h1M74 3h1m15 0h1M11 4h1m77 0h1M12 5h1m14 0h1M72 6h1M29 8h1M83 9h1M18 10h1M31 11h1M78 13h1M23 14h1M74 16h1M27 17h1M30 19h1M35 22h1M35 77h1M30 80h1M27 82h1M74 83h1M23 85h1M78 86h1M31 88h1M18 89h1M83 90h1M29 91h1M72 93h1M12 94h1m14 0h1M11 95h1m77 0h1M74 96h1m15 0h1"/>
<path stroke="#f5ac66" d="M6 0h1m87 0h1M7 1h1m17 0h1M8 2h1M26 3h1M73 4h1M88 5h1M13 6h1m14 0h1m58 0h1M14 7h1M70 9h1M82 10h1M19 11h1M68 12h1M33 14h1m43 0h1M24 15h1m41 0h1M35 17h1M64 18h1M70 19h1M33 21h1M63 23h1M39 24h1M39 75h1M63 76h1M33 78h1M70 80h1M64 81h1M35 82h1M24 84h1m41 0h1M33 85h1m43 0h1M68 87h1M19 88h1M82 89h1M70 90h1M14 92h1M13 93h1m14 0h1m58 0h1M88 94h1M73 95h1M26 96h1"/>
<path stroke="#f5a85f" d="M75 0h1M93 1h1M26 2h1m47 0h1m17 0h1M9 3h1m81 0h1M10 4h1m16 0h1M72 5h1M29 7h1m41 0h1m14 0h1M15 8h1m69 0h1M16 9h1m13 0h1M69 10h1M81 11h1M20 12h1m11 0h1m47 0h1M34 15h1m41 0h1M73 17h1M38 21h1M61 22h1m3 0h1M61 77h1m3 0h1M38 78h1M73 82h1M34 84h1m41 0h1M20 87h1m11 0h1m47 0h1M81 88h1M69 89h1M16 90h1m13 0h1M15 91h1m69 0h1M29 92h1m41 0h1m14 0h1M72 94h1M10 95h1m16 0h1M9 96h1m81 0h1"/>
<path stroke="#f4a558" d="M5 0h1m19 0h1M6 1h1m67 0h1M73 3h1M90 4h1M11 5h1m16 0h1m60 0h1M12 6h1M70 8h1M84 9h1M17 10h1m13 0h1M21 13h1m45 0h1M25 16h1m39 0h1M28 18h1m7 0h1M63 19h1M31 20h1M67 21h1M67 78h1M31 79h1M63 80h1M28 81h1m7 0h1M25 83h1m39 0h1M21 86h1m45 0h1M17 89h1m13 0h1M84 90h1M70 91h1M12 93h1M11 94h1m16 0h1m60 0h1M90 95h1M73 96h1"/>
<path stroke="#f4a251" d="M95 0h1M26 1h1m67 0h1M7 2h1m85 0h1M8 3h1m18 0h1M72 4h1M29 6h1m41 0h1m16 0h1M13 7h1M30 8h1M69 9h1M83 10h1M18 11h1m49 0h1M33 13h1m45 0h1M22 14h1m43 0h1M35 16h1m39 0h1M72 18h1M61 24h1M61 75h1M72 81h1M35 83h1m39 0h1M22 85h1m43 0h1M33 86h1m45 0h1M18 88h1m49 0h1M83 89h1M69 90h1M30 91h1M13 92h1M29 93h1m41 0h1m16 0h1M72 95h1M8 96h1m18 0h1"/>
<path stroke="#f39e4a" d="M4 0h1m69 0h1M27 2h1m45 0h1M92 3h1M9 4h1m18 0h1m62 0h1M10 5h1M70 7h1m16 0h1M14 8h1m71 0h1M15 9h1m15 0h1M32 11h1m49 0h1M19 12h1m47 0h1M78 14h1M23 15h1M26 17h1m37 0h1M29 19h1m7 0h1M69 20h1M39 22h1M60 23h1M60 76h1M39 77h1M69 79h1M29 80h1m7 0h1M26 82h1m37 0h1M23 84h1M78 85h1M19 87h1m47 0h1M32 88h1m49 0h1M15 90h1m15 0h1M14 91h1m71 0h1M70 92h1m16 0h1M10 94h1M9 95h1m18 0h1m62 0h1M92 96h1"/>
<path stroke="#f39b43" d="M26 0h1m69 0h1M5 1h1m67 0h1m21 0h1M6 2h1M72 3h1M29 5h1m41 0h1m18 0h1M11 6h1M30 7h1M85 9h1M16 10h1m51 0h1M33 12h1m47 0h1M20 13h1M34 14h1M65 15h1m11 0h1M74 17h1M62 20h1M62 79h1M74 82h1M65 84h1m11 0h1M34 85h1M20 86h1M33 87h1m47 0h1M16 89h1m51 0h1M85 90h1M30 92h1M11 93h1M29 94h1m41 0h1m18 0h1M72 96h1"/>
<path stroke="#f3983c" d="M3 0h1M27 1h1M94 2h1M7 3h1m20 0h1m64 0h1M8 4h1m62 0h1M70 6h1m18 0h1M12 7h1m75 0h1M13 8h1m17 0h1m37 0h1M32 10h1m51 0h1M17 11h1M66 13h1m13 0h1M24 16h1M36 17h1M27 18h1m35 0h1M71 19h1M34 22h1M34 77h1M71 80h1M27 81h1m35 0h1M36 82h1M24 83h1M66 86h1m13 0h1M17 88h1M32 89h1m51 0h1M13 91h1m17 0h1m37 0h1M12 92h1m75 0h1M70 93h1m18 0h1M8 95h1m62 0h1M7 96h1m20 0h1m64 0h1"/>
<path stroke="#f29435" d="M27 0h1m45 0h1m23 0h1M4 1h1m91 0h1M5 2h1m22 0h1m43 0h1M29 4h1m62 0h1M9 5h1m81 0h1M10 6h1m19 0h1M69 7h1M87 8h1M14 9h1m53 0h1M67 11h1m15 0h1M18 12h1M34 13h1M21 14h1m57 0h1M35 15h1M64 16h1m11 0h1M73 18h1M38 20h1M32 21h1M36 23h1m3 0h1M36 76h1m3 0h1M32 78h1M38 79h1M73 81h1M64 83h1m11 0h1M35 84h1M21 85h1m57 0h1M34 86h1M18 87h1M67 88h1m15 0h1M14 90h1m53 0h1M87 91h1M69 92h1M10 93h1m19 0h1M9 94h1m81 0h1M29 95h1m62 0h1"/>
<path stroke="#f2912e" d="M2 0h1M72 1h1M95 2h1M6 3h1m64 0h1m22 0h1M70 5h1M90 6h1M11 7h1m19 0h1M32 9h1m53 0h1M15 10h1M33 11h1M82 12h1M19 13h1M65 14h1M22 15h1M25 17h1M37 18h1M30 20h1M61 21h1m6 0h1M66 22h1M66 77h1M61 78h1m6 0h1M30 79h1M37 81h1M25 82h1M22 84h1M65 85h1M19 86h1M82 87h1M33 88h1M15 89h1M32 90h1m53 0h1M11 92h1m19 0h1M90 93h1M70 94h1M6 96h1m64 0h1m22 0h1"/>
<path stroke="#f18d2b" d="M72 0h1m25 0h1M3 1h1m24 0h1M71 2h1M29 3h1M7 4h1m62 0h1m22 0h1M8 5h1m21 0h1M69 6h1M89 7h1M12 8h1m55 0h1M67 10h1m17 0h1M16 11h1M66 12h1M81 13h1M35 14h1M78 15h1M36 16h1M75 17h1M28 19h1m33 0h1M70 20h1M64 23h1M59 24h1M59 75h1M64 76h1M70 79h1M28 80h1m33 0h1M75 82h1M36 83h1M78 84h1M35 85h1M81 86h1M66 87h1M16 88h1M67 89h1m17 0h1M12 91h1m55 0h1M89 92h1M69 93h1M8 94h1m21 0h1M7 95h1m62 0h1m22 0h1M29 96h1"/>
<path stroke="#f18a29" d="M28 0h1M97 1h1M4 2h1m24 0h1m66 0h1M5 3h1M30 4h1M92 5h1M9 6h1m21 0h1m59 0h1M32 8h1m55 0h1M13 9h1M33 10h1M84 11h1M17 12h1m16 0h1M20 14h1M64 15h1M23 16h1M63 17h1M72 19h1M39 21h1M38 24h1M41 25h1M41 74h1M38 75h1M39 78h1M72 80h1M63 82h1M23 83h1M64 84h1M20 85h1M17 87h1m16 0h1M84 88h1M33 89h1M13 90h1M32 91h1m55 0h1M9 93h1m21 0h1m59 0h1M92 94h1M30 95h1M5 96h1"/>
<path stroke="#f18728" d="M1 0h1m97 0h1M2 1h1m26 0h1m41 0h1M70 3h1m24 0h1M6 4h1m87 0h1M69 5h1M10 7h1m57 0h1m21 0h1M67 9h1m19 0h1M14 10h1M66 11h1M83 12h1M65 13h1M80 14h1M36 15h1M77 16h1M37 17h1M26 18h1M38 19h1M60 22h1M60 77h1M38 80h1M26 81h1M37 82h1M77 83h1M36 84h1M80 85h1M65 86h1M83 87h1M66 88h1M14 89h1M67 90h1m19 0h1M10 92h1m57 0h1m21 0h1M69 94h1M6 95h1m87 0h1M70 96h1m24 0h1"/>
<path stroke="#f18327" d="M71 0h1M98 1h1M3 2h1m66 0h1m26 0h1M4 3h1m25 0h1M69 4h1M7 5h1m23 0h1m61 0h1M8 6h1m59 0h1M32 7h1M11 8h1m55 0h1m21 0h1M12 9h1m20 0h1M86 10h1M15 11h1m18 0h1M18 13h1m16 0h1m46 0h1M21 15h1m57 0h1M63 16h1M24 17h1M62 18h1m11 0h1M61 20h1M31 21h1M33 22h1M41 24h1m20 0h1M59 25h1M59 74h1M41 75h1m20 0h1M33 77h1M31 78h1M61 79h1M62 81h1m11 0h1M24 82h1M63 83h1M21 84h1m57 0h1M18 86h1m16 0h1m46 0h1M15 88h1m18 0h1M86 89h1M12 90h1m20 0h1M11 91h1m55 0h1m21 0h1M32 92h1M8 93h1m59 0h1M7 94h1m23 0h1m61 0h1M69 95h1M4 96h1m25 0h1"/>
<path stroke="#f18026" d="M0 0h1m28 0h1m70 0h1M1 1h1m68 0h1M30 2h1M96 3h1M5 4h1m25 0h1M32 6h1m59 0h1M9 7h1M33 8h1M88 9h1M34 10h1m31 0h1M85 11h1M16 12h1m48 0h1M19 14h1m44 0h1M22 16h1M76 17h1M27 19h1M29 20h1m9 0h1M69 21h1M40 22h1m26 0h1M35 23h1M35 76h1M40 77h1m26 0h1M69 78h1M29 79h1m9 0h1M27 80h1M76 82h1M22 83h1M19 85h1m44 0h1M16 87h1m48 0h1M85 88h1M34 89h1m31 0h1M88 90h1M33 91h1M9 92h1M32 93h1m59 0h1M5 95h1m25 0h1M96 96h1"/>
<path stroke="#f07d24" d="M30 1h1m68 0h1M2 2h1m95 0h1M3 3h1m27 0h1m37 0h1M95 4h1M6 5h1m61 0h1m25 0h1M67 7h1m23 0h1M10 8h1M66 9h1M13 10h1m73 0h1M65 11h1M35 12h1m48 0h1M36 14h1m44 0h1M37 16h1m40 0h1M25 18h1m12 0h1M73 19h1M71 20h1M58 25h1M58 74h1M71 79h1M73 80h1M25 81h1m12 0h1M37 83h1m40 0h1M36 85h1m44 0h1M35 87h1m48 0h1M65 88h1M13 89h1m73 0h1M66 90h1M10 91h1M67 92h1m23 0h1M6 94h1m61 0h1m25 0h1M95 95h1M3 96h1m27 0h1m37 0h1"/>
<path stroke="#f07923" d="M30 0h1m39 0h1m30 0h1M0 1h1M69 2h1M97 3h1M4 4h1m63 0h1M32 5h1M7 6h1m59 0h1m25 0h1M8 7h1m24 0h1M90 8h1M11 9h1m22 0h1M14 11h1m20 0h1m50 0h1M17 13h1m46 0h1m18 0h1M20 15h1m42 0h1M62 17h1M75 18h1M61 19h1M60 21h1M59 23h1m5 0h1M59 76h1m5 0h1M60 78h1M61 80h1M75 81h1M62 82h1M20 84h1m42 0h1M17 86h1m46 0h1m18 0h1M14 88h1m20 0h1m50 0h1M11 90h1m22 0h1M90 91h1M8 92h1m24 0h1M7 93h1m59 0h1m25 0h1M32 94h1M4 95h1m63 0h1M97 96h1"/>
<path stroke="#f07622" d="M69 1h1m30 0h1M1 2h1m29 0h1m67 0h1M2 3h1m65 0h1M32 4h1m63 0h1M5 5h1m89 0h1M33 6h1M92 7h1M9 8h1m24 0h1m31 0h1M89 9h1M12 10h1m52 0h1M15 12h1m48 0h1M36 13h1M18 14h1M37 15h1m42 0h1M23 17h1m14 0h1m38 0h1M39 19h1M37 24h1M42 25h1M42 74h1M37 75h1M39 80h1M23 82h1m14 0h1m38 0h1M37 84h1m42 0h1M18 85h1M36 86h1M15 87h1m48 0h1M12 89h1m52 0h1M89 90h1M9 91h1m24 0h1m31 0h1M92 92h1M33 93h1M5 94h1m89 0h1M32 95h1m63 0h1M2 96h1m65 0h1"/>
<path stroke="#f07321" d="M69 0h1m32 0h1M31 1h1m69 0h1M68 2h1M32 3h1m65 0h1M3 4h1M33 5h1m33 0h1M6 6h1m87 0h1M66 7h1M91 8h1M10 9h1m54 0h1M35 10h1m52 0h1M13 11h1M36 12h1m48 0h1M16 13h1M63 14h1m18 0h1M21 16h1m40 0h1m16 0h1M61 18h1M26 19h1M28 20h1M30 21h1m9 0h1M32 22h1M41 23h1M40 25h1M40 74h1M41 76h1M32 77h1M30 78h1m9 0h1M28 79h1M26 80h1M61 81h1M21 83h1m40 0h1m16 0h1M63 85h1m18 0h1M16 86h1M36 87h1m48 0h1M13 88h1M35 89h1m52 0h1M10 90h1m54 0h1M91 91h1M66 92h1M6 93h1m87 0h1M33 94h1m33 0h1M3 95h1M32 96h1m65 0h1"/>
<path stroke="#ef6f1f" d="M31 0h1M68 1h1M0 2h1m31 0h1m67 0h1M1 3h1M33 4h1m33 0h1m29 0h1M4 5h1M66 6h1M7 7h1m26 0h1m58 0h1M35 9h1m54 0h1M64 11h1m22 0h1M63 13h1m20 0h1M37 14h1M19 15h1M38 16h1M24 18h1M74 19h1M60 20h1m11 0h1M70 21h1M59 22h1m8 0h1M34 23h1M63 24h1M60 25h1M60 74h1M63 75h1M34 76h1M59 77h1m8 0h1M70 78h1M60 79h1m11 0h1M74 80h1M24 81h1M38 83h1M19 84h1M37 85h1M63 86h1m20 0h1M64 88h1m22 0h1M35 90h1m54 0h1M7 92h1m26 0h1m58 0h1M66 93h1M4 94h1M33 95h1m33 0h1m29 0h1M1 96h1"/>
<path stroke="#ee6b1f" d="M68 0h1m34 0h1M32 1h1m69 0h1M67 3h1m31 0h1M2 4h1M66 5h1m29 0h1M5 6h1m28 0h1m60 0h1M8 8h1m26 0h1m29 0h1m26 0h1M11 10h1m52 0h1m24 0h1M36 11h1M14 12h1m71 0h1M37 13h1M17 14h1M62 15h1m18 0h1M22 17h1m38 0h1M39 18h1m36 0h1M40 20h1M58 24h1M58 75h1M40 79h1M39 81h1m36 0h1M22 82h1m38 0h1M62 84h1m18 0h1M17 85h1M37 86h1M14 87h1m71 0h1M36 88h1M11 89h1m52 0h1m24 0h1M8 91h1m26 0h1m29 0h1m26 0h1M5 93h1m28 0h1m60 0h1M66 94h1m29 0h1M2 95h1M67 96h1m31 0h1"/>
<path stroke="#ed671e" d="M32 0h1m71 0h1M67 2h1m33 0h1M0 3h1m32 0h1M66 4h1m31 0h1M3 5h1m30 0h1M6 7h1m58 0h1m28 0h1M9 9h1m54 0h1m26 0h1M36 10h1M12 11h1m75 0h1M63 12h1M15 13h1M62 14h1m20 0h1M38 15h1M20 16h1m59 0h1M78 17h1M60 19h1M41 22h1M66 23h1M66 76h1M41 77h1M60 80h1M78 82h1M20 83h1m59 0h1M38 84h1M62 85h1m20 0h1M15 86h1M63 87h1M12 88h1m75 0h1M36 89h1M9 90h1m54 0h1m26 0h1M6 92h1m58 0h1m28 0h1M3 94h1m30 0h1M66 95h1m31 0h1M0 96h1m32 0h1"/>
<path stroke="#ec631d" d="M33 1h1m33 0h1m35 0h1M33 2h1M66 3h1m33 0h1M1 4h1m32 0h1M97 5h1M4 6h1m60 0h1m30 0h1M35 7h1M7 8h1m85 0h1M36 9h1M10 10h1m79 0h1M63 11h1M13 12h1m23 0h1M85 13h1M38 14h1M18 15h1m63 0h1M61 16h1M39 17h1M23 18h1M25 19h1m14 0h1M27 20h1m45 0h1M29 21h1m29 0h1M31 22h1M36 24h1m5 0h1M36 75h1m5 0h1M31 77h1M29 78h1m29 0h1M27 79h1m45 0h1M25 80h1m14 0h1M23 81h1M39 82h1M61 83h1M18 84h1m63 0h1M38 85h1M85 86h1M13 87h1m23 0h1M63 88h1M10 89h1m79 0h1M36 90h1M7 91h1m85 0h1M35 92h1M4 93h1m60 0h1m30 0h1M97 94h1M1 95h1m32 0h1M66 96h1m33 0h1"/>
<path stroke="#eb5f1c" d="M33 0h1m33 0h1M66 2h1m35 0h1M34 3h1M99 4h1M2 5h1m62 0h1M35 6h1M5 7h1m89 0h1M36 8h1m27 0h1M8 9h1M63 10h1M11 11h1m25 0h1M87 12h1M62 13h1M16 14h1m67 0h1M39 16h1M21 17h1M60 18h1m16 0h1M75 19h1M41 21h1m29 0h1M69 22h1M58 23h1M64 24h1M39 25h1M39 74h1M64 75h1M58 76h1M69 77h1M41 78h1m29 0h1M75 80h1M60 81h1m16 0h1M21 82h1M39 83h1M16 85h1m67 0h1M62 86h1M87 87h1M11 88h1m25 0h1M63 89h1M8 90h1M36 91h1m27 0h1M5 92h1m89 0h1M35 93h1M2 94h1m62 0h1M99 95h1M34 96h1"/>
<path stroke="#ea5b1c" d="M66 1h1m37 0h1M34 2h1M101 3h1M0 4h1m34 0h1m29 0h1M35 5h1m62 0h1M3 6h1m93 0h1M36 7h1m27 0h1M6 8h1M63 9h1m28 0h1M9 10h1m27 0h1M89 11h1M62 12h1M14 13h1m23 0h1m47 0h1M17 15h1m43 0h1M19 16h1m61 0h1M79 17h1M40 18h1M59 20h1M33 23h1m8 0h1M57 25h1m3 0h1M57 74h1m3 0h1M33 76h1m8 0h1M59 79h1M40 81h1M79 82h1M19 83h1m61 0h1M17 84h1m43 0h1M14 86h1m23 0h1m47 0h1M62 87h1M89 88h1M9 89h1m27 0h1M63 90h1m28 0h1M6 91h1M36 92h1m27 0h1M3 93h1m93 0h1M35 94h1m62 0h1M0 95h1m34 0h1m29 0h1M101 96h1"/>
<path stroke="#e9571b" d="M34 0h1m31 0h1M34 1h1M65 2h1m37 0h1M35 3h1m29 0h1m36 0h1M100 4h1M1 5h1m62 0h1m34 0h1M36 6h1m27 0h1M4 7h1m91 0h1M63 8h1m30 0h1M7 9h1m29 0h1M91 10h1M10 11h1m51 0h1M12 12h1m25 0h1m49 0h1M15 14h1m45 0h1M39 15h1m43 0h1M40 17h1m19 0h1M22 18h1M24 19h1M26 20h1m14 0h1M28 21h1M58 22h1M67 23h1M67 76h1M58 77h1M28 78h1M26 79h1m14 0h1M24 80h1M22 81h1M40 82h1m19 0h1M39 84h1m43 0h1M15 85h1m45 0h1M12 87h1m25 0h1m49 0h1M10 88h1m51 0h1M91 89h1M7 90h1m29 0h1M63 91h1m30 0h1M4 92h1m91 0h1M36 93h1m27 0h1M1 94h1m62 0h1m34 0h1M100 95h1M35 96h1m29 0h1m36 0h1"/>
<path stroke="#e8531a" d="M65 1h1M35 2h1m68 0h1M64 4h1m36 0h1M36 5h1M2 6h1m95 0h1M63 7h1M5 8h1m31 0h1M93 9h1M8 10h1m53 0h1M38 11h1m51 0h1M13 13h1m47 0h1M39 14h1m45 0h1M18 16h1m41 0h1M20 17h1m59 0h1M78 18h1M59 19h1m16 0h1M74 20h1M72 21h1M30 22h1m11 0h1M57 24h1M43 25h1M43 74h1M57 75h1M30 77h1m11 0h1M72 78h1M74 79h1M59 80h1m16 0h1M78 81h1M20 82h1m59 0h1M18 83h1m41 0h1M39 85h1m45 0h1M13 86h1m47 0h1M38 88h1m51 0h1M8 89h1m53 0h1M93 90h1M5 91h1m31 0h1M63 92h1M2 93h1m95 0h1M36 94h1M64 95h1m36 0h1"/>
<path stroke="#e74f1a" d="M35 0h1m29 0h1M35 1h1M36 3h1m27 0h1m38 0h1M36 4h1M0 5h1m99 0h1M63 6h1M3 7h1m33 0h1m59 0h1M95 8h1M6 9h1m55 0h1M38 10h1m53 0h1M11 12h1m49 0h1m27 0h1M39 13h1m47 0h1M16 15h1m43 0h1M40 16h1m41 0h1M59 18h1M41 19h1M58 21h1M70 22h1M35 24h1m29 0h1M38 25h1M38 74h1M35 75h1m29 0h1M70 77h1M58 78h1M41 80h1M59 81h1M40 83h1m41 0h1M16 84h1m43 0h1M39 86h1m47 0h1M11 87h1m49 0h1m27 0h1M38 89h1m53 0h1M6 90h1m55 0h1M95 91h1M3 92h1m33 0h1m59 0h1M63 93h1M0 94h1m99 0h1M36 95h1M36 96h1m27 0h1m38 0h1"/>
<path stroke="#e64c1a" d="M64 1h1M36 2h1m27 0h1M63 4h1m38 0h1M37 5h1m25 0h1M1 6h1m35 0h1m61 0h1M4 8h1m33 0h1m23 0h1m33 0h1M38 9h1m55 0h1M7 10h1M9 11h1m51 0h1m29 0h1M39 12h1M12 13h1M14 14h1m45 0h1m25 0h1M40 15h1m43 0h1M19 17h1m39 0h1M21 18h1m19 0h1M23 19h1M25 20h1m32 0h1M27 21h1m14 0h1M32 23h1m24 0h1m10 0h1M43 24h1M62 25h1M62 74h1M43 75h1M32 76h1m24 0h1m10 0h1M27 78h1m14 0h1M25 79h1m32 0h1M23 80h1M21 81h1m19 0h1M19 82h1m39 0h1M40 84h1m43 0h1M14 85h1m45 0h1m25 0h1M12 86h1M39 87h1M9 88h1m51 0h1m29 0h1M7 89h1M38 90h1m55 0h1M4 91h1m33 0h1m23 0h1m33 0h1M1 93h1m35 0h1m61 0h1M37 94h1m25 0h1M63 95h1m38 0h1"/>
<path stroke="#e4491b" d="M36 0h1m27 0h1M36 1h1M37 3h1m25 0h1m40 0h1M37 4h1M101 5h1M62 6h1M2 7h1m35 0h1m23 0h1m35 0h1M5 9h1m55 0h1M39 10h1m21 0h1m31 0h1M39 11h1M10 12h1M60 13h1m27 0h1M40 14h1M15 15h1M17 16h1m41 0h1M41 17h1m39 0h1M79 18h1M58 19h1m18 0h1M42 20h1m32 0h1M73 21h1M29 22h1M43 23h1M42 26h1m15 0h1M42 73h1m15 0h1M43 76h1M29 77h1M73 78h1M42 79h1m32 0h1M58 80h1m18 0h1M79 81h1M41 82h1m39 0h1M17 83h1m41 0h1M15 84h1M40 85h1M60 86h1m27 0h1M10 87h1M39 88h1M39 89h1m21 0h1m31 0h1M5 90h1m55 0h1M2 92h1m35 0h1m23 0h1m35 0h1M62 93h1M101 94h1M37 95h1M37 96h1m25 0h1m40 0h1"/>
<path stroke="#e2461b" d="M63 1h1M37 2h1m25 0h1M62 4h1m40 0h1M38 5h1m23 0h1M0 6h1m37 0h1m61 0h1M3 8h1m57 0h1m35 0h1M39 9h1m55 0h1M6 10h1M8 11h1m51 0h1m31 0h1M40 12h1m19 0h1m29 0h1M40 13h1M13 14h1m73 0h1M59 15h1m25 0h1M41 16h1m41 0h1M58 18h1M42 19h1M57 22h1m13 0h1M34 24h1M56 25h1M56 74h1M34 75h1M57 77h1m13 0h1M42 80h1M58 81h1M41 83h1m41 0h1M59 84h1m25 0h1M13 85h1m73 0h1M40 86h1M40 87h1m19 0h1m29 0h1M8 88h1m51 0h1m31 0h1M6 89h1M39 90h1m55 0h1M3 91h1m57 0h1m35 0h1M0 93h1m37 0h1m61 0h1M38 94h1m23 0h1M62 95h1m40 0h1"/>
<path stroke="#e1431c" d="M37 0h1m25 0h1M37 1h1M62 2h1M38 3h1m23 0h1M38 4h1m65 0h1M102 5h1M61 6h1M1 7h1m37 0h1m21 0h1m37 0h1M39 8h1M4 9h1M60 10h1m33 0h1M40 11h1M9 12h1M11 13h1m47 0h1m29 0h1M41 14h1m17 0h1M41 15h1M16 16h1M18 17h1m39 0h1M20 18h1m21 0h1m37 0h1M22 19h1m55 0h1M24 20h1M26 21h1m30 0h1M43 22h1M31 23h1M56 24h1m9 0h1M37 25h1m6 0h1M41 26h1M41 73h1M37 74h1m6 0h1M56 75h1m9 0h1M31 76h1M43 77h1M26 78h1m30 0h1M24 79h1M22 80h1m55 0h1M20 81h1m21 0h1m37 0h1M18 82h1m39 0h1M16 83h1M41 84h1M41 85h1m17 0h1M11 86h1m47 0h1m29 0h1M9 87h1M40 88h1M60 89h1m33 0h1M4 90h1M39 91h1M1 92h1m37 0h1m21 0h1m37 0h1M61 93h1M102 94h1M38 95h1m65 0h1M38 96h1m23 0h1"/>
<path stroke="#df3f1d" d="M62 0h1M38 1h1m23 0h1M38 2h1M61 4h1M39 5h1m21 0h1m41 0h1M39 6h1m61 0h1M0 7h1M2 8h1m57 0h1m37 0h1M40 9h1m19 0h1m35 0h1M5 10h1m34 0h1M7 11h1m85 0h1M59 12h1m31 0h1M41 13h1M12 14h1M14 15h1m71 0h1M58 16h1m25 0h1M42 17h1m39 0h1M43 20h1m13 0h1m18 0h1M43 21h1m30 0h1M28 22h1M56 23h1m12 0h1M44 24h1M63 25h1M59 26h1M59 73h1M63 74h1M44 75h1M56 76h1m12 0h1M28 77h1M43 78h1m30 0h1M43 79h1m13 0h1m18 0h1M42 82h1m39 0h1M58 83h1m25 0h1M14 84h1m71 0h1M12 85h1M41 86h1M59 87h1m31 0h1M7 88h1m85 0h1M5 89h1m34 0h1M40 90h1m19 0h1m35 0h1M2 91h1m57 0h1m37 0h1M0 92h1M39 93h1m61 0h1M39 94h1m21 0h1m41 0h1M61 95h1"/>
<path stroke="#dd3c1d" d="M38 0h1M61 2h1M39 3h1m21 0h1M39 4h1M60 6h1m41 0h1M40 7h1m19 0h1m39 0h1M1 8h1m38 0h1M3 9h1m93 0h1M59 10h1m35 0h1M41 11h1m17 0h1M8 12h1m32 0h1M10 13h1m79 0h1M58 14h1m29 0h1M42 15h1m15 0h1M42 16h1M17 17h1M19 18h1m37 0h1M21 19h1m21 0h1m13 0h1M56 22h1m15 0h1M44 23h1M33 24h1M33 75h1M44 76h1M56 77h1m15 0h1M21 80h1m21 0h1m13 0h1M19 81h1m37 0h1M17 82h1M42 83h1M42 84h1m15 0h1M58 85h1m29 0h1M10 86h1m79 0h1M8 87h1m32 0h1M41 88h1m17 0h1M59 89h1m35 0h1M3 90h1m93 0h1M1 91h1m38 0h1M40 92h1m19 0h1m39 0h1M60 93h1m41 0h1M39 95h1M39 96h1m21 0h1"/>
<path stroke="#dc391e" d="M39 0h1m21 0h1M39 1h1m21 0h1M39 2h1M60 3h1M40 4h1m19 0h1M40 5h1m19 0h1m43 0h1M40 6h1M59 7h1m41 0h1M59 8h1m39 0h1M41 9h1m17 0h1M4 10h1m36 0h1M6 11h1m87 0h1M58 12h1m33 0h1M42 13h1m15 0h1M11 14h1m30 0h1M13 15h1m73 0h1M15 16h1m41 0h1m27 0h1M43 17h1m13 0h1m25 0h1M43 18h1m37 0h1M79 19h1M23 20h1m53 0h1M25 21h1m30 0h1M44 22h1M30 23h1M67 24h1M36 25h1m18 0h1M40 26h1m19 0h1M40 73h1m19 0h1M36 74h1m18 0h1M67 75h1M30 76h1M44 77h1M25 78h1m30 0h1M23 79h1m53 0h1M79 80h1M43 81h1m37 0h1M43 82h1m13 0h1m25 0h1M15 83h1m41 0h1m27 0h1M13 84h1m73 0h1M11 85h1m30 0h1M42 86h1m15 0h1M58 87h1m33 0h1M6 88h1m87 0h1M4 89h1m36 0h1M41 90h1m17 0h1M59 91h1m39 0h1M59 92h1m41 0h1M40 93h1M40 94h1m19 0h1m43 0h1M40 95h1m19 0h1M60 96h1"/>
<path stroke="#da361f" d="M60 0h1M40 1h1m19 0h1M40 2h1m19 0h1M40 3h1M59 5h1M41 6h1m17 0h1m43 0h1M41 7h1M0 8h1m40 0h1M2 9h1m55 0h1m39 0h1M58 10h1m37 0h1M5 11h1m36 0h1m15 0h1M7 12h1m34 0h1M9 13h1m81 0h1M57 14h1m31 0h1M43 15h1m13 0h1M43 16h1M56 19h1M44 20h1m11 0h1M44 21h1m30 0h1M27 22h1M70 23h1M55 24h1M45 25h1m18 0h1M45 74h1m18 0h1M55 75h1M70 76h1M27 77h1M44 78h1m30 0h1M44 79h1m11 0h1M56 80h1M43 83h1M43 84h1m13 0h1M57 85h1m31 0h1M9 86h1m81 0h1M7 87h1m34 0h1M5 88h1m36 0h1m15 0h1M58 89h1m37 0h1M2 90h1m55 0h1m39 0h1M0 91h1m40 0h1M41 92h1M41 93h1m17 0h1m43 0h1M59 94h1M40 96h1"/>
<path stroke="#d8331f" d="M40 0h1M59 1h1M41 2h1m17 0h1M41 3h1m17 0h1M41 4h1m17 0h1M41 5h1M58 6h1M42 7h1m15 0h1m43 0h1M42 8h1m15 0h1m41 0h1M1 9h1m40 0h1M3 10h1m38 0h1m54 0h1M57 11h1m37 0h1M57 12h1m35 0h1M43 13h1m13 0h1M10 14h1m32 0h1M12 15h1m75 0h1M14 16h1m71 0h1M16 17h1m39 0h1m27 0h1M18 18h1m25 0h1m11 0h1m25 0h1M20 19h1m23 0h1m35 0h1M22 20h1M55 22h1m17 0h1M45 23h1m9 0h1M32 24h1m12 0h1M39 26h1M39 73h1M32 75h1m12 0h1M45 76h1m9 0h1M55 77h1m17 0h1M22 79h1M20 80h1m23 0h1m35 0h1M18 81h1m25 0h1m11 0h1m25 0h1M16 82h1m39 0h1m27 0h1M14 83h1m71 0h1M12 84h1m75 0h1M10 85h1m32 0h1M43 86h1m13 0h1M57 87h1m35 0h1M57 88h1m37 0h1M3 89h1m38 0h1m54 0h1M1 90h1m40 0h1M42 91h1m15 0h1m41 0h1M42 92h1m15 0h1m43 0h1M58 93h1M41 94h1M41 95h1m17 0h1M41 96h1m17 0h1"/>
<path stroke="#d63020" d="M41 0h1m17 0h1M41 1h1M58 2h1M42 3h1m15 0h1M42 4h1m15 0h1M42 5h1m15 0h1M42 6h1m61 0h1M57 8h1m43 0h1M43 9h1m13 0h1m41 0h1M43 10h1m13 0h1M4 11h1m38 0h1M6 12h1m36 0h1m50 0h1M8 13h1m47 0h1m35 0h1M56 14h1m33 0h1M44 15h1m11 0h1M44 16h1m11 0h1M44 17h1M55 19h1M55 20h1m22 0h1M24 21h1m20 0h1m9 0h1m20 0h1M45 22h1M29 23h1m41 0h1M68 24h1M35 25h1m18 0h1m10 0h1M46 26h1m7 0h1m6 0h1M46 73h1m7 0h1m6 0h1M35 74h1m18 0h1m10 0h1M68 75h1M29 76h1m41 0h1M45 77h1M24 78h1m20 0h1m9 0h1m20 0h1M55 79h1m22 0h1M55 80h1M44 82h1M44 83h1m11 0h1M44 84h1m11 0h1M56 85h1m33 0h1M8 86h1m47 0h1m35 0h1M6 87h1m36 0h1m50 0h1M4 88h1m38 0h1M43 89h1m13 0h1M43 90h1m13 0h1m41 0h1M57 91h1m43 0h1M42 93h1m61 0h1M42 94h1m15 0h1M42 95h1m15 0h1M42 96h1m15 0h1"/>
<path stroke="#d42e20" d="M42 0h1m15 0h1M42 1h1m15 0h1M42 2h1m14 0h1M57 3h1M43 4h1m13 0h1M43 5h1m13 0h1M43 6h1m13 0h1M43 7h1m13 0h1m45 0h1M43 8h1M0 9h1m55 0h1m43 0h1M2 10h1m53 0h1m41 0h1M44 11h1m11 0h1m39 0h1M44 12h1m11 0h1M7 13h1m36 0h1M9 14h1m34 0h1M11 15h1m77 0h1M13 16h1m41 0h1m31 0h1M15 17h1m29 0h1m9 0h1m29 0h1M17 18h1m27 0h1m9 0h1m27 0h1M19 19h1m25 0h1M45 20h1M26 22h1m27 0h1m19 0h1M54 23h1M46 24h1m7 0h1M46 25h1M57 26h1M57 73h1M46 74h1M46 75h1m7 0h1M54 76h1M26 77h1m27 0h1m19 0h1M45 79h1M19 80h1m25 0h1M17 81h1m27 0h1m9 0h1m27 0h1M15 82h1m29 0h1m9 0h1m29 0h1M13 83h1m41 0h1m31 0h1M11 84h1m77 0h1M9 85h1m34 0h1M7 86h1m36 0h1M44 87h1m11 0h1M44 88h1m11 0h1m39 0h1M2 89h1m53 0h1m41 0h1M0 90h1m55 0h1m43 0h1M43 91h1M43 92h1m13 0h1m45 0h1M43 93h1m13 0h1M43 94h1m13 0h1M43 95h1m13 0h1M57 96h1"/>
<path stroke="#d12b20" d="M43 0h1m13 0h1M43 1h1m13 0h1M43 2h1m12 0h1M43 3h1m12 0h1M44 4h1m11 0h1M44 5h1m11 0h1M44 6h1m11 0h1M44 7h1m11 0h1m47 0h1M44 8h1m11 0h1m45 0h1M44 9h1M1 10h1m42 0h1m10 0h1M3 11h1m51 0h1m41 0h1M5 12h1m39 0h1m9 0h1m39 0h1M45 13h1m9 0h1m37 0h1M45 14h1m9 0h1m35 0h1M45 15h1m9 0h1M45 16h1M54 18h1M54 19h1m26 0h1M21 20h1m24 0h1m7 0h1m24 0h1M23 21h1m22 0h1m7 0h1M46 22h1M28 23h1m17 0h1M31 24h1m37 0h1M34 25h1m18 0h1M38 26h1m4 0h1m9 0h1m8 0h1M38 73h1m4 0h1m9 0h1m8 0h1M34 74h1m18 0h1M31 75h1m37 0h1M28 76h1m17 0h1M46 77h1M23 78h1m22 0h1m7 0h1M21 79h1m24 0h1m7 0h1m24 0h1M54 80h1m26 0h1M54 81h1M45 83h1M45 84h1m9 0h1M45 85h1m9 0h1m35 0h1M45 86h1m9 0h1m37 0h1M5 87h1m39 0h1m9 0h1m39 0h1M3 88h1m51 0h1m41 0h1M1 89h1m42 0h1m10 0h1M44 90h1M44 91h1m11 0h1m45 0h1M44 92h1m11 0h1m47 0h1M44 93h1m11 0h1M44 94h1m11 0h1M44 95h1m11 0h1M43 96h1m12 0h1"/>
<path stroke="#ce2820" d="M44 0h1m10 0h2M44 1h1m10 0h2M44 2h2m9 0h1M44 3h2m9 0h1M45 4h1m9 0h1M45 5h1m9 0h1M45 6h1m9 0h1M45 7h1m9 0h1M45 8h1m9 0h1m47 0h1M45 9h1m9 0h1m45 0h1M45 10h1m8 0h1m44 0h1M45 11h1m8 0h1M4 12h1m41 0h1m7 0h1M6 13h1m39 0h1m7 0h1M8 14h1m37 0h1m7 0h1m37 0h1M10 15h1m35 0h1m7 0h1m35 0h1M12 16h1m33 0h1m7 0h1m33 0h1M14 17h1m31 0h1m7 0h1m31 0h1M16 18h1m29 0h1m37 0h1M18 19h1m27 0h1m6 0h1M53 20h1M53 21h1m23 0h1M25 22h1m21 0h1m5 0h1M47 23h1m5 0h1m18 0h1M47 24h1m5 0h1M47 25h1m18 0h1M45 26h1m1 0h1M57 27h1M57 72h1M45 73h1m1 0h1M47 74h1m18 0h1M47 75h1m5 0h1M47 76h1m5 0h1m18 0h1M25 77h1m21 0h1m5 0h1M53 78h1m23 0h1M53 79h1M18 80h1m27 0h1m6 0h1M16 81h1m29 0h1m37 0h1M14 82h1m31 0h1m7 0h1m31 0h1M12 83h1m33 0h1m7 0h1m33 0h1M10 84h1m35 0h1m7 0h1m35 0h1M8 85h1m37 0h1m7 0h1m37 0h1M6 86h1m39 0h1m7 0h1M4 87h1m41 0h1m7 0h1M45 88h1m8 0h1M45 89h1m8 0h1m44 0h1M45 90h1m9 0h1m45 0h1M45 91h1m9 0h1m47 0h1M45 92h1m9 0h1M45 93h1m9 0h1M45 94h1m9 0h1M45 95h1m9 0h1M44 96h2m9 0h1"/>
<path stroke="#cc2621" d="M45 0h2m7 0h1M45 1h2m7 0h1M46 2h1m7 0h1M46 3h1m6 0h2M46 4h1m6 0h2M46 5h1m6 0h2M46 6h1m6 0h2M46 7h2m5 0h2M46 8h2m5 0h2M46 9h2m5 0h2M0 10h1m45 0h2m5 0h1m46 0h1M2 11h1m43 0h2m5 0h1m44 0h1M47 12h1m5 0h1m42 0h1M47 13h1m5 0h1m40 0h1M47 14h1m5 0h1M47 15h1m5 0h1M47 16h1m5 0h1M47 17h1m5 0h1M47 18h1m4 0h2M47 19h1m4 0h1m29 0h1M20 20h1m26 0h1m4 0h1m27 0h1M22 21h1m24 0h1m4 0h1M48 22h1m3 0h1m22 0h1M48 23h1m3 0h1M30 24h1m17 0h1m3 0h1M48 25h1m3 0h1M37 26h1m6 0h1m3 0h1m3 0h1m2 0h2M42 27h1M42 72h1M37 73h1m6 0h1m3 0h1m3 0h1m2 0h2M48 74h1m3 0h1M30 75h1m17 0h1m3 0h1M48 76h1m3 0h1M48 77h1m3 0h1m22 0h1M22 78h1m24 0h1m4 0h1M20 79h1m26 0h1m4 0h1m27 0h1M47 80h1m4 0h1m29 0h1M47 81h1m4 0h2M47 82h1m5 0h1M47 83h1m5 0h1M47 84h1m5 0h1M47 85h1m5 0h1M47 86h1m5 0h1m40 0h1M47 87h1m5 0h1m42 0h1M2 88h1m43 0h2m5 0h1m44 0h1M0 89h1m45 0h2m5 0h1m46 0h1M46 90h2m5 0h2M46 91h2m5 0h2M46 92h2m5 0h2M46 93h1m6 0h2M46 94h1m6 0h2M46 95h1m6 0h2M46 96h1m6 0h2"/>
<path stroke="#c92321" d="M47 0h7M47 1h7M47 2h7M47 3h6M47 4h6M47 5h6M47 6h6M48 7h5M48 8h5m51 0h1M48 9h5m49 0h1M48 10h5M1 11h1m46 0h5M3 12h1m44 0h5m44 0h1M5 13h1m42 0h5m42 0h1M7 14h1m40 0h5m40 0h1M9 15h1m38 0h5m38 0h1M11 16h1m36 0h5m36 0h1M13 17h1m34 0h5m34 0h1M15 18h1m32 0h4m33 0h1M17 19h1m30 0h4M48 20h4M48 21h4m26 0h1M24 22h1m24 0h3M27 23h1m21 0h3m21 0h1M49 24h3m18 0h1M33 25h1m15 0h3m15 0h1M49 26h3m11 0h1M58 27h1M58 72h1M49 73h3m11 0h1M33 74h1m15 0h3m15 0h1M49 75h3m18 0h1M27 76h1m21 0h3m21 0h1M24 77h1m24 0h3M48 78h4m26 0h1M48 79h4M17 80h1m30 0h4M15 81h1m32 0h4m33 0h1M13 82h1m34 0h5m34 0h1M11 83h1m36 0h5m36 0h1M9 84h1m38 0h5m38 0h1M7 85h1m40 0h5m40 0h1M5 86h1m42 0h5m42 0h1M3 87h1m44 0h5m44 0h1M1 88h1m46 0h5M48 89h5M48 90h5m49 0h1M48 91h5m51 0h1M48 92h5M47 93h6M47 94h6M47 95h6M47 96h6"/>
<path stroke="#c72121" d="M103 9h1M101 10h1M99 11h1M6 14h1M8 15h1M10 16h1M83 19h1M19 20h1m61 0h1M76 22h1M29 24h1M36 26h1M41 27h1m17 0h1M41 72h1m17 0h1M36 73h1M29 75h1M76 77h1M19 79h1m61 0h1M83 80h1M10 83h1M8 84h1M6 85h1M99 88h1M101 89h1M103 90h1"/>
<path stroke="#c41e21" d="M104 9h1M102 10h1M0 11h1m99 0h1M2 12h1m95 0h1M4 13h1m91 0h1M94 14h1M92 15h1M90 16h1M12 17h1m75 0h1M14 18h1m71 0h1M16 19h1M21 21h1m57 0h1M26 23h1m47 0h1M71 24h1M32 25h1m35 0h1M64 26h1M64 73h1M32 74h1m35 0h1M71 75h1M26 76h1m47 0h1M21 78h1m57 0h1M16 80h1M14 81h1m71 0h1M12 82h1m75 0h1M90 83h1M92 84h1M94 85h1M4 86h1m91 0h1M2 87h1m95 0h1M0 88h1m99 0h1M102 89h1M104 90h1"/>
<path stroke="#c21d22" d="M1 12h1M3 13h1m93 0h1M5 14h1m89 0h1M7 15h1M9 16h1M11 17h1M84 19h1M18 20h1m63 0h1M23 22h1m53 0h1M35 26h1M40 27h1m2 0h1m16 0h1M40 72h1m2 0h1m16 0h1M35 73h1M23 77h1m53 0h1M18 79h1m63 0h1M84 80h1M11 82h1M9 83h1M7 84h1M5 85h1m89 0h1M3 86h1m93 0h1M1 87h1"/>
<path stroke="#c01d22" d="M103 10h1M101 11h1M99 12h1M93 15h1M91 16h1M89 17h1M13 18h1m73 0h1M15 19h1M20 21h1m59 0h1M25 23h1m49 0h1M28 24h1m43 0h1M31 25h1m37 0h1M65 26h1M39 27h1M39 72h1M65 73h1M31 74h1m37 0h1M28 75h1m43 0h1M25 76h1m49 0h1M20 78h1m59 0h1M15 80h1M13 81h1m73 0h1M89 82h1M91 83h1M93 84h1M99 87h1M101 88h1M103 89h1"/>
<path stroke="#be1d22" d="M104 10h1M102 11h1M0 12h1m99 0h1M2 13h1m95 0h1M4 14h1m91 0h1M6 15h1m87 0h1M8 16h1m83 0h1M10 17h1m79 0h1M12 18h1M85 19h1M17 20h1m65 0h1M19 21h1M22 22h1m55 0h1M34 26h1M61 27h1M61 72h1M34 73h1M22 77h1m55 0h1M19 78h1M17 79h1m65 0h1M85 80h1M12 81h1M10 82h1m79 0h1M8 83h1m83 0h1M6 84h1m87 0h1M4 85h1m91 0h1M2 86h1m95 0h1M0 87h1m99 0h1M102 88h1M104 89h1"/>
<path stroke="#bc1d22" d="M103 11h1M101 12h1M1 13h1m97 0h1M3 14h1m93 0h1M5 15h1M7 16h1M88 18h1M14 19h1m71 0h1M16 20h1M81 21h1M21 22h1M24 23h1m51 0h1M27 24h1m45 0h1M30 25h1m39 0h1M66 26h1M38 27h1m23 0h1M38 72h1m23 0h1M66 73h1M30 74h1m39 0h1M27 75h1m45 0h1M24 76h1m51 0h1M21 77h1M81 78h1M16 79h1M14 80h1m71 0h1M88 81h1M7 83h1M5 84h1M3 85h1m93 0h1M1 86h1m97 0h1M101 87h1M103 88h1"/>
<path stroke="#ba1d22" d="M0 13h1M95 15h1M93 16h1M9 17h1m81 0h1M11 18h1m77 0h1M84 20h1M18 21h1M79 22h1M26 24h1M33 26h1m33 0h1M33 73h1m33 0h1M26 75h1M79 77h1M18 78h1M84 79h1M11 81h1m77 0h1M9 82h1m81 0h1M93 83h1M95 84h1M0 86h1"/>
<path stroke="#b81c23" d="M104 11h1M102 12h1M100 13h1M2 14h1m95 0h1M4 15h1m91 0h1M6 16h1m87 0h1M8 17h1M13 19h1m73 0h1M15 20h1M82 21h1M20 22h1M23 23h1m53 0h1M74 24h1M29 25h1m41 0h1M37 27h1m25 0h1M43 28h1m13 0h1M43 71h1m13 0h1M37 72h1m25 0h1M29 74h1m41 0h1M74 75h1M23 76h1m53 0h1M20 77h1M82 78h1M15 79h1M13 80h1m73 0h1M8 82h1M6 83h1m87 0h1M4 84h1m91 0h1M2 85h1m95 0h1M100 86h1M102 87h1M104 88h1"/>
<path stroke="#b61c23" d="M103 12h1M101 13h1M1 14h1m97 0h1M3 15h1m93 0h1M5 16h1M92 17h1M10 18h1m79 0h1M12 19h1M85 20h1M17 21h1m65 0h1M80 22h1M22 23h1M25 24h1M32 26h1m35 0h1M36 27h1m19 0h1m7 0h1M42 28h1m15 0h1M42 71h1m15 0h1M36 72h1m19 0h1m7 0h1M32 73h1m35 0h1M25 75h1M22 76h1M80 77h1M17 78h1m65 0h1M85 79h1M12 80h1M10 81h1m79 0h1M92 82h1M5 83h1M3 84h1m93 0h1M1 85h1m97 0h1M101 86h1M103 87h1"/>
<path stroke="#b41c23" d="M104 12h1M102 13h1M0 14h1M95 16h1M7 17h1m85 0h1M9 18h1m81 0h1M88 19h1M14 20h1m71 0h1M19 22h1m61 0h1M78 23h1M75 24h1M28 25h1m43 0h1M31 26h1M44 27h1M41 28h1m17 0h1M41 71h1m17 0h1M44 72h1M31 73h1M28 74h1m43 0h1M75 75h1M78 76h1M19 77h1m61 0h1M14 79h1m71 0h1M88 80h1M9 81h1m81 0h1M7 82h1m85 0h1M95 83h1M0 85h1M102 86h1M104 87h1"/>
<path stroke="#b11c23" d="M100 14h1M2 15h1m95 0h1M4 16h1m91 0h1M6 17h1m87 0h1M11 19h1m77 0h1M13 20h1M16 21h1m67 0h1M18 22h1M21 23h1m57 0h1M24 24h1m51 0h1M27 25h1M69 26h1M35 27h1m29 0h1M40 28h1m19 0h1M40 71h1m19 0h1M35 72h1m29 0h1M69 73h1M27 74h1M24 75h1m51 0h1M21 76h1m57 0h1M18 77h1M16 78h1m67 0h1M13 79h1M11 80h1m77 0h1M6 82h1m87 0h1M4 83h1m91 0h1M2 84h1m95 0h1M100 85h1"/>
<path stroke="#af1c24" d="M103 13h1M101 14h1M1 15h1m97 0h1M3 16h1m93 0h1M8 18h1m83 0h1M10 19h1m79 0h1M87 20h1M15 21h1m69 0h1M82 22h1M73 25h1M30 26h1m39 0h1M34 27h1m10 0h1m9 0h1m10 0h1M39 28h1m16 0h1M39 71h1m16 0h1M34 72h1m10 0h1m9 0h1m10 0h1M30 73h1m39 0h1M73 74h1M82 77h1M15 78h1m69 0h1M87 79h1M10 80h1m79 0h1M8 81h1m83 0h1M3 83h1m93 0h1M1 84h1m97 0h1M101 85h1M103 86h1"/>
<path stroke="#ae1c24" d="M104 13h1M102 14h1M0 15h1m99 0h1M2 16h1M5 17h1m89 0h1M7 18h1m85 0h1M12 20h1m75 0h1M17 22h1m65 0h1M20 23h1m59 0h1M23 24h1m53 0h1M26 25h1m47 0h1M61 28h1M61 71h1M26 74h1m47 0h1M23 75h1m53 0h1M20 76h1m59 0h1M17 77h1m65 0h1M12 79h1m75 0h1M7 81h1m85 0h1M5 82h1m89 0h1M2 83h1M0 84h1m99 0h1M102 85h1M104 86h1"/>
<path stroke="#ac1c24" d="M103 14h1M98 16h1M4 17h1m91 0h1M6 18h1M9 19h1m81 0h1M11 20h1M14 21h1m71 0h1M19 23h1M22 24h1m55 0h1M25 25h1M29 26h1m41 0h1M33 27h1m12 0h1m7 0h1m12 0h1M38 28h1m5 0h1m17 0h1M38 71h1m5 0h1m17 0h1M33 72h1m12 0h1m7 0h1m12 0h1M29 73h1m41 0h1M25 74h1M22 75h1m55 0h1M19 76h1M14 78h1m71 0h1M11 79h1M9 80h1m81 0h1M6 81h1M4 82h1m91 0h1M98 83h1M103 85h1"/>
<path stroke="#ab1c24" d="M104 14h1M101 15h1M1 16h1m97 0h1M3 17h1m93 0h1M94 18h1M8 19h1m83 0h1M89 20h1M13 21h1m73 0h1M16 22h1m67 0h1M81 23h1M75 25h1M28 26h1m43 0h1M32 27h1m14 0h1m4 0h2m14 0h1M37 28h1m25 0h1M44 29h1m11 0h1M44 70h1m11 0h1M37 71h1m25 0h1M32 72h1m14 0h1m4 0h2m14 0h1M28 73h1m43 0h1M75 74h1M81 76h1M16 77h1m67 0h1M13 78h1m73 0h1M89 79h1M8 80h1m83 0h1M94 81h1M3 82h1m93 0h1M1 83h1m97 0h1M101 84h1M104 85h1"/>
<path stroke="#a91c24" d="M102 15h1M0 16h1m99 0h1M2 17h1M5 18h1m89 0h1M7 19h1m85 0h1M10 20h1m79 0h1M12 21h1M15 22h1m69 0h1M18 23h1m63 0h1M21 24h1m57 0h1M24 25h1m51 0h1M27 26h1M31 27h1m16 0h4M36 28h1m27 0h1M43 29h1m13 0h1M43 70h1m13 0h1M36 71h1m27 0h1M31 72h1m16 0h4M27 73h1M24 74h1m51 0h1M21 75h1m57 0h1M18 76h1m63 0h1M15 77h1m69 0h1M12 78h1M10 79h1m79 0h1M7 80h1m85 0h1M5 81h1m89 0h1M2 82h1M0 83h1m99 0h1M102 84h1"/>
<path stroke="#a71c24" d="M103 15h1M101 16h1M1 17h1m96 0h1M4 18h1m91 0h1M6 19h1M9 20h1m81 0h1M88 21h1M14 22h1M17 23h1m65 0h1M20 24h1m59 0h1M23 25h1M73 26h1M69 27h1M35 28h1m29 0h1M41 29h2m15 0h1M41 70h2m15 0h1M35 71h1m29 0h1M69 72h1M73 73h1M23 74h1M20 75h1m59 0h1M17 76h1m65 0h1M14 77h1M88 78h1M9 79h1m81 0h1M6 80h1M4 81h1m91 0h1M1 82h1m96 0h1M101 83h1M103 84h1"/>
<path stroke="#a61c24" d="M104 15h1M102 16h1M99 17h1M3 18h1m93 0h1M94 19h1M8 20h1m83 0h1M11 21h1m77 0h1M86 22h1M16 23h1M19 24h1M77 25h1M26 26h1m47 0h1M30 27h1m39 0h1M34 28h1m20 0h1M40 29h1m18 0h2M40 70h1m18 0h2M34 71h1m20 0h1M30 72h1m39 0h1M26 73h1m47 0h1M77 74h1M19 75h1M16 76h1M86 77h1M11 78h1m77 0h1M8 79h1m83 0h1M94 80h1M3 81h1m93 0h1M99 82h1M102 83h1M104 84h1"/>
<path stroke="#a41c24" d="M0 17h1m99 0h1M2 18h1m95 0h1M5 19h1m89 0h1M7 20h1M10 21h1m79 0h1M13 22h1m73 0h1M84 23h1M81 24h1M22 25h1m55 0h1M25 26h1m49 0h1M29 27h1m41 0h1M33 28h1m11 0h1m20 0h1M39 29h1m21 0h1M39 70h1m21 0h1M33 71h1m11 0h1m20 0h1M29 72h1m41 0h1M25 73h1m49 0h1M22 74h1m55 0h1M81 75h1M84 76h1M13 77h1m73 0h1M10 78h1m79 0h1M7 79h1M5 80h1m89 0h1M2 81h1m95 0h1M0 82h1m99 0h1"/>
<path stroke="#a31c24" d="M103 16h1M101 17h1M1 18h1M4 19h1m91 0h1M6 20h1m86 0h1M9 21h1m81 0h1M12 22h1m75 0h1M15 23h1m69 0h1M18 24h1m63 0h1M21 25h1m57 0h1M24 26h1M28 27h1m43 0h1M67 28h1M38 29h1m23 0h1M38 70h1m23 0h1M67 71h1M28 72h1m43 0h1M24 73h1M21 74h1m57 0h1M18 75h1m63 0h1M15 76h1m69 0h1M12 77h1m75 0h1M9 78h1m81 0h1M6 79h1m86 0h1M4 80h1m91 0h1M1 81h1M101 82h1M103 83h1"/>
<path stroke="#a11c24" d="M104 16h1M102 17h1M0 18h1m98 0h1M3 19h1m93 0h1M94 20h1M8 21h1M11 22h1m77 0h1M14 23h1m71 0h1M17 24h1m65 0h1M20 25h1m59 0h1M76 26h1M27 27h1M32 28h1m21 0h1m13 0h1M37 29h1m25 0h1M37 70h1m25 0h1M32 71h1m21 0h1m13 0h1M27 72h1M76 73h1M20 74h1m59 0h1M17 75h1m65 0h1M14 76h1m71 0h1M11 77h1m77 0h1M8 78h1M94 79h1M3 80h1m93 0h1M0 81h1m98 0h1M102 82h1M104 83h1"/>
<path stroke="#a01c24" d="M103 17h1M100 18h1M2 19h1m95 0h1M5 20h1m89 0h1M7 21h1m84 0h1M10 22h1m79 0h1M13 23h1m73 0h1M16 24h1m67 0h1M19 25h1M23 26h1m53 0h1M26 27h1m46 0h1M31 28h1m14 0h1m22 0h1M36 29h1m18 0h1m8 0h1M44 30h1m10 0h2M44 69h1m10 0h2M36 70h1m18 0h1m8 0h1M31 71h1m14 0h1m22 0h1M26 72h1m46 0h1M23 73h1m53 0h1M19 74h1M16 75h1m67 0h1M13 76h1m73 0h1M10 77h1m79 0h1M7 78h1m84 0h1M5 79h1m89 0h1M2 80h1m95 0h1M100 81h1M103 82h1"/>
<path stroke="#9e1c24" d="M104 17h1M101 18h1M1 19h1m97 0h1M4 20h1m91 0h1M6 21h1m86 0h1M9 22h1M12 23h1m75 0h1M15 24h1m69 0h1M18 25h1m62 0h1M22 26h1m55 0h1M74 27h1M30 28h1m16 0h1m5 0h1m16 0h1M35 29h1m9 0h1m19 0h1M42 30h2m13 0h2M42 69h2m13 0h2M35 70h1m9 0h1m19 0h1M30 71h1m16 0h1m5 0h1m16 0h1M74 72h1M22 73h1m55 0h1M18 74h1m62 0h1M15 75h1m69 0h1M12 76h1m75 0h1M9 77h1M6 78h1m86 0h1M4 79h1m91 0h1M1 80h1m97 0h1M101 81h1M104 82h1"/>
<path stroke="#9c1c24" d="M102 18h1M0 19h1m99 0h1M3 20h1m93 0h1M5 21h1m88 0h1M8 22h1m82 0h1M11 23h1M14 24h1M82 25h1M21 26h1m57 0h1M25 27h1m49 0h1M29 28h1m18 0h1m3 0h1m18 0h1M34 29h1m31 0h1M40 30h2m17 0h1M40 69h2m17 0h1M34 70h1m31 0h1M29 71h1m18 0h1m3 0h1m18 0h1M25 72h1m49 0h1M21 73h1m57 0h1M82 74h1M14 75h1M11 76h1M8 77h1m82 0h1M5 78h1m88 0h1M3 79h1m93 0h1M0 80h1m99 0h1M102 81h1"/>
<path stroke="#9b1b23" d="M103 18h2M101 19h1M2 20h1m95 0h1M4 21h1m90 0h1M7 22h1m84 0h1M10 23h1m78 0h1M13 24h1m72 0h1M17 25h1m65 0h1M20 26h1m59 0h1M24 27h1m51 0h1M28 28h1m20 0h3m20 0h1M33 29h1m33 0h1M39 30h1m5 0h1m14 0h2M39 69h1m5 0h1m14 0h2M33 70h1m33 0h1M28 71h1m20 0h3m20 0h1M24 72h1m51 0h1M20 73h1m59 0h1M17 74h1m65 0h1M13 75h1m72 0h1M10 76h1m78 0h1M7 77h1m84 0h1M4 78h1m90 0h1M2 79h1m95 0h1M101 80h1M103 81h2"/>
<path stroke="#991b23" d="M102 19h1M1 20h1m97 0h1M3 21h1m92 0h1M6 22h1m86 0h1M9 23h1m80 0h1M12 24h1m74 0h1M16 25h1m67 0h1M19 26h1m61 0h1M23 27h1m53 0h1M27 28h1m45 0h1M31 29h2m21 0h1m13 0h1M37 30h2m23 0h1M37 69h2m23 0h1M31 70h2m21 0h1m13 0h1M27 71h1m45 0h1M23 72h1m53 0h1M19 73h1m61 0h1M16 74h1m67 0h1M12 75h1m74 0h1M9 76h1m80 0h1M6 77h1m86 0h1M3 78h1m92 0h1M1 79h1m97 0h1M102 80h1"/>
<path stroke="#981b23" d="M103 19h1M0 20h1m99 0h1M2 21h1m94 0h1M5 22h1m88 0h1M8 23h1m82 0h1M11 24h1m76 0h1M15 25h1m69 0h1M18 26h1m63 0h1M22 27h1m55 0h1M26 28h1m47 0h1M30 29h1m15 0h1m22 0h1M36 30h1m26 0h2M36 69h1m26 0h2M30 70h1m15 0h1m22 0h1M26 71h1m47 0h1M22 72h1m55 0h1M18 73h1m63 0h1M15 74h1m69 0h1M11 75h1m76 0h1M8 76h1m82 0h1M5 77h1m88 0h1M2 78h1m94 0h1M0 79h1m99 0h1M103 80h1"/>
<path stroke="#961b23" d="M104 19h1M101 20h1M1 21h1m96 0h2M4 22h1m90 0h2M7 23h1m84 0h2M10 24h1m78 0h1M14 25h1m71 0h1M17 26h1m65 0h1M21 27h1m57 0h1M25 28h1m49 0h1M29 29h1m40 0h1M35 30h1m29 0h1M43 31h3m9 0h3M43 68h3m9 0h3M35 69h1m29 0h1M29 70h1m40 0h1M25 71h1m49 0h1M21 72h1m57 0h1M17 73h1m65 0h1M14 74h1m71 0h1M10 75h1m78 0h1M7 76h1m84 0h2M4 77h1m90 0h2M1 78h1m96 0h2M101 79h1M104 80h1"/>
<path stroke="#951b23" d="M102 20h2M0 21h1m99 0h1M3 22h1m93 0h1M6 23h1m87 0h1M9 24h1m80 0h1M13 25h1m73 0h1M16 26h1m67 0h1M20 27h1m59 0h1M24 28h1m51 0h1M28 29h1m18 0h1m5 0h1m17 0h2M33 30h2m31 0h1M41 31h2m15 0h2M41 68h2m15 0h2M33 69h2m31 0h1M28 70h1m18 0h1m5 0h1m17 0h2M24 71h1m51 0h1M20 72h1m59 0h1M16 73h1m67 0h1M13 74h1m73 0h1M9 75h1m80 0h1M6 76h1m87 0h1M3 77h1m93 0h1M0 78h1m99 0h1M102 79h2"/>
<path stroke="#931b23" d="M104 20h1M101 21h1M2 22h1m95 0h1M5 23h1m89 0h1M8 24h1m82 0h2M11 25h2m75 0h1M15 26h1m69 0h1M19 27h1m61 0h1M23 28h1m53 0h1M27 29h1m20 0h1m3 0h1m20 0h1M32 30h1m21 0h1m12 0h2M39 31h2m19 0h2M39 68h2m19 0h2M32 69h1m21 0h1m12 0h2M27 70h1m20 0h1m3 0h1m20 0h1M23 71h1m53 0h1M19 72h1m61 0h1M15 73h1m69 0h1M11 74h2m75 0h1M8 75h1m82 0h2M5 76h1m89 0h1M2 77h1m95 0h1M101 78h1M104 79h1"/>
<path stroke="#911a22" d="M102 21h1M1 22h1m97 0h1M4 23h1m91 0h1M7 24h1m85 0h1M10 25h1m78 0h1M14 26h1m71 0h1M17 27h2m63 0h1M21 28h2m55 0h1M26 29h1m22 0h3m22 0h1M31 30h1m14 0h1m22 0h1M37 31h2m23 0h2M37 68h2m23 0h2M31 69h1m14 0h1m22 0h1M26 70h1m22 0h3m22 0h1M21 71h2m55 0h1M17 72h2m63 0h1M14 73h1m71 0h1M10 74h1m78 0h1M7 75h1m85 0h1M4 76h1m91 0h1M1 77h1m97 0h1M102 78h1"/>
<path stroke="#901a22" d="M103 21h1M0 22h1m99 0h1M2 23h2m93 0h1M6 24h1m87 0h1M9 25h1m80 0h2M13 26h1m73 0h1M16 27h1m66 0h2M20 28h1m58 0h2M24 29h2m49 0h1M29 30h2m39 0h1M36 31h1m17 0h1m9 0h1M36 68h1m17 0h1m9 0h1M29 69h2m39 0h1M24 70h2m49 0h1M20 71h1m58 0h2M16 72h1m66 0h2M13 73h1m73 0h1M9 74h1m80 0h2M6 75h1m87 0h1M2 76h2m93 0h1M0 77h1m99 0h1M103 78h1"/>
<path stroke="#8e1a22" d="M104 21h1M101 22h2M1 23h1m96 0h2M4 24h2m89 0h1M8 25h1m83 0h1M11 26h2m75 0h1M15 27h1m69 0h1M19 28h1m61 0h1M23 29h1m52 0h2M28 30h1m24 0h1m17 0h2M34 31h2m29 0h2M43 32h3m8 0h4M43 67h3m8 0h4M34 68h2m29 0h2M28 69h1m24 0h1m17 0h2M23 70h1m52 0h2M19 71h1m61 0h1M15 72h1m69 0h1M11 73h2m75 0h1M8 74h1m83 0h1M4 75h2m89 0h1M1 76h1m96 0h2M101 77h2M104 78h1"/>
<path stroke="#8d1a22" d="M103 22h1M0 23h1m99 0h1M3 24h1m92 0h2M7 25h1m85 0h1M10 26h1m78 0h2M14 27h1m71 0h1M18 28h1m63 0h1M22 29h1m55 0h1M27 30h1m19 0h1m25 0h1M32 31h2m12 0h1m20 0h1M40 32h3m3 0h1m11 0h3M40 67h3m3 0h1m11 0h3M32 68h2m12 0h1m20 0h1M27 69h1m19 0h1m25 0h1M22 70h1m55 0h1M18 71h1m63 0h1M14 72h1m71 0h1M10 73h1m78 0h2M7 74h1m85 0h1M3 75h1m92 0h2M0 76h1m99 0h1M103 77h1"/>
<path stroke="#8b1a22" d="M104 22h1M101 23h1M2 24h1m95 0h1M5 25h2m87 0h2M9 26h1m81 0h1M12 27h2m73 0h1M16 28h2m65 0h1M21 29h1m57 0h1M25 30h2m21 0h1m3 0h1m21 0h1M31 31h1m36 0h2M38 32h2m21 0h2M38 67h2m21 0h2M31 68h1m36 0h2M25 69h2m21 0h1m3 0h1m21 0h1M21 70h1m57 0h1M16 71h2m65 0h1M12 72h2m73 0h1M9 73h1m81 0h1M5 74h2m87 0h2M2 75h1m95 0h1M101 76h1M104 77h1"/>
<path stroke="#8a1a22" d="M102 23h2M0 24h2m97 0h1M4 25h1m91 0h1M7 26h2m83 0h1M11 27h1m76 0h2M15 28h1m68 0h2M19 29h2m59 0h2M24 30h1m24 0h3m23 0h2M29 31h2m39 0h2M36 32h2m25 0h2M36 67h2m25 0h2M29 68h2m39 0h2M24 69h1m24 0h3m23 0h2M19 70h2m59 0h2M15 71h1m68 0h2M11 72h1m76 0h2M7 73h2m83 0h1M4 74h1m91 0h1M0 75h2m97 0h1M102 76h2"/>
<path stroke="#881a22" d="M104 23h1M100 24h2M2 25h2m93 0h2M6 26h1m86 0h2M10 27h1m79 0h1M14 28h1m71 0h1M18 29h1m63 0h1M22 30h2m53 0h1M28 31h1m18 0h1m5 0h1m18 0h1M34 32h2m29 0h2M44 33h3m7 0h2M44 66h3m7 0h2M34 67h2m29 0h2M28 68h1m18 0h1m5 0h1m18 0h1M22 69h2m53 0h1M18 70h1m63 0h1M14 71h1m71 0h1M10 72h1m79 0h1M6 73h1m86 0h2M2 74h2m93 0h2M100 75h2M104 76h1"/>
<path stroke="#861921" d="M102 24h2M1 25h1m97 0h1M4 26h2m89 0h1M8 27h2m81 0h2M12 28h2m73 0h2M16 29h2m65 0h2M21 30h1m56 0h2M26 31h2m45 0h2M32 32h2m33 0h2M41 33h3m12 0h4M41 66h3m12 0h4M32 67h2m33 0h2M26 68h2m45 0h2M21 69h1m56 0h2M16 70h2m65 0h2M12 71h2m73 0h2M8 72h2m81 0h2M4 73h2m89 0h1M1 74h1m97 0h1M102 75h2"/>
<path stroke="#841820" d="M104 24h1M0 25h1m99 0h2M3 26h1m92 0h2M7 27h1m85 0h1M10 28h2m77 0h1M15 29h1m69 0h1M19 30h2m59 0h2M24 31h2m22 0h1m3 0h1m22 0h2M30 32h2m21 0h1m15 0h2M38 33h3m19 0h3M38 66h3m19 0h3M30 67h2m21 0h1m15 0h2M24 68h2m22 0h1m3 0h1m22 0h2M19 69h2m59 0h2M15 70h1m69 0h1M10 71h2m77 0h1M7 72h1m85 0h1M3 73h1m92 0h2M0 74h1m99 0h2M104 75h1"/>
<path stroke="#811720" d="M102 25h1M1 26h2m95 0h2M5 27h2m87 0h2M9 28h1m80 0h2M13 29h2m71 0h2M18 30h1m63 0h1M22 31h2m25 0h3m25 0h1M28 32h2m17 0h1m23 0h2M35 33h3m25 0h2M35 66h3m25 0h2M28 67h2m17 0h1m23 0h2M22 68h2m25 0h3m25 0h1M18 69h1m63 0h1M13 70h2m71 0h2M9 71h1m80 0h2M5 72h2m87 0h2M1 73h2m95 0h2M102 74h1"/>
<path stroke="#7f161f" d="M103 25h2M0 26h1m99 0h2M3 27h2m91 0h2M7 28h2m83 0h2M11 29h2m75 0h1M16 30h2m65 0h2M21 31h1m56 0h2M26 32h2m45 0h2M33 33h2m18 0h1m11 0h3M44 34h3m6 0h3M44 65h3m6 0h3M33 66h2m18 0h1m11 0h3M26 67h2m45 0h2M21 68h1m56 0h2M16 69h2m65 0h2M11 70h2m75 0h1M7 71h2m83 0h2M3 72h2m91 0h2M0 73h1m99 0h2M103 74h2"/>
<path stroke="#7c151e" d="M102 26h1M1 27h2m95 0h1M5 28h2m87 0h1M10 29h1m78 0h2M14 30h2m69 0h2M19 31h2m59 0h2M24 32h2m22 0h1m3 0h1m22 0h1M31 33h2m14 0h1m20 0h2M40 34h4m12 0h5M40 65h4m12 0h5M31 66h2m14 0h1m20 0h2M24 67h2m22 0h1m3 0h1m22 0h1M19 68h2m59 0h2M14 69h2m69 0h2M10 70h1m78 0h2M5 71h2m87 0h1M1 72h2m95 0h1M102 73h1"/>
<path stroke="#7a151d" d="M103 26h2M0 27h1m98 0h2M3 28h2m90 0h2M8 29h2m81 0h2M12 30h2m73 0h2M17 31h2m63 0h2M22 32h2m25 0h1m1 0h1m24 0h2M28 33h3m39 0h2M37 34h3m21 0h3M37 65h3m21 0h3M28 66h3m39 0h2M22 67h2m25 0h1m1 0h1m24 0h2M17 68h2m63 0h2M12 69h2m73 0h2M8 70h2m81 0h2M3 71h2m90 0h2M0 72h1m98 0h2M103 73h2"/>
<path stroke="#78141c" d="M101 27h2M1 28h2m94 0h2M6 29h2m85 0h2M10 30h2m77 0h2M15 31h2m67 0h2M20 32h2m28 0h1m27 0h3M26 33h2m44 0h3M34 34h3m10 0h1m16 0h3M34 65h3m10 0h1m16 0h3M26 66h2m44 0h3M20 67h2m28 0h1m27 0h3M15 68h2m67 0h2M10 69h2m77 0h2M6 70h2m85 0h2M1 71h2m94 0h2M101 72h2"/>
<path stroke="#75131c" d="M103 27h2M0 28h1m98 0h2M4 29h2m89 0h2M8 30h2m81 0h2M13 31h2m71 0h2M18 32h2m61 0h2M24 33h2m22 0h1m3 0h1m22 0h2M31 34h3m33 0h3M42 35h6m5 0h6M42 64h6m5 0h6M31 65h3m33 0h3M24 66h2m22 0h1m3 0h1m22 0h2M18 67h2m61 0h2M13 68h2m71 0h2M8 69h2m81 0h2M4 70h2m89 0h2M0 71h1m98 0h2M103 72h2"/>
<path stroke="#73121b" d="M101 28h3M1 29h3m93 0h2M6 30h2m85 0h2M11 31h2m75 0h2M16 32h2m65 0h2M22 33h2m25 0h1m1 0h1m25 0h2M28 34h3m39 0h3M37 35h5m17 0h5M37 64h5m17 0h5M28 65h3m39 0h3M22 66h2m25 0h1m1 0h1m25 0h2M16 67h2m65 0h2M11 68h2m75 0h2M6 69h2m85 0h2M1 70h3m93 0h2M101 71h3"/>
<path stroke="#70111a" d="M104 28h1M0 29h1m98 0h3M4 30h2m89 0h2M8 31h3m79 0h2M14 32h2m69 0h2M19 33h3m28 0h1m28 0h3M26 34h2m24 0h1m20 0h2M34 35h3m27 0h3M34 64h3m27 0h3M26 65h2m24 0h1m20 0h2M19 66h3m28 0h1m28 0h3M14 67h2m69 0h2M8 68h3m79 0h2M4 69h2m89 0h2M0 70h1m98 0h3M104 71h1"/>
<path stroke="#6e1019" d="M102 29h2M1 30h3m93 0h3M6 31h2m84 0h3M11 32h3m73 0h3M17 33h2m63 0h2M23 34h3m22 0h1m26 0h3M30 35h4m33 0h3M42 36h6m5 0h6M42 63h6m5 0h6M30 64h4m33 0h3M23 65h3m22 0h1m26 0h3M17 66h2m63 0h2M11 67h3m73 0h3M6 68h2m84 0h3M1 69h3m93 0h3M102 70h2"/>
<path stroke="#6c0f19" d="M104 29h1M0 30h1m99 0h2M3 31h3m89 0h2M8 32h3m79 0h2M14 33h3m67 0h3M20 34h3m26 0h3m26 0h3M27 35h3m22 0h1m17 0h4M37 36h5m17 0h5M37 63h5m17 0h5M27 64h3m22 0h1m17 0h4M20 65h3m26 0h3m26 0h3M14 66h3m67 0h3M8 67h3m79 0h2M3 68h3m89 0h2M0 69h1m99 0h2M104 70h1"/>
<path stroke="#690e18" d="M102 30h3M0 31h3m94 0h3M6 32h2m84 0h3M11 33h3m73 0h3M17 34h3m61 0h3M24 35h3m21 0h1m25 0h3M32 36h5m15 0h1m11 0h4M32 63h5m15 0h1m11 0h4M24 64h3m21 0h1m25 0h3M17 65h3m61 0h3M11 66h3m73 0h3M6 67h2m84 0h3M0 68h3m94 0h3M102 69h3"/>
<path stroke="#670d17" d="M100 31h3M3 32h3m89 0h3M8 33h3m79 0h3M14 34h3m67 0h3M21 35h3m25 0h1m1 0h1m25 0h3M29 36h3m16 0h1m19 0h4M41 37h7m4 0h8M41 62h7m4 0h8M29 63h3m16 0h1m19 0h4M21 64h3m25 0h1m1 0h1m25 0h3M14 65h3m67 0h3M8 66h3m79 0h3M3 67h3m89 0h3M100 68h3"/>
<path stroke="#640d16" d="M103 31h2M0 32h3m95 0h3M5 33h3m85 0h3M11 34h3m73 0h3M17 35h4m29 0h1m29 0h3M25 36h4m43 0h4M35 37h6m7 0h1m11 0h6M35 62h6m7 0h1m11 0h6M25 63h4m43 0h4M17 64h4m29 0h1m29 0h3M11 65h3m73 0h3M5 66h3m85 0h3M0 67h3m95 0h3M103 68h2"/>
<path stroke="#620c16" d="M101 32h4M1 33h4m91 0h3M7 34h4m79 0h3M14 35h3m66 0h4M21 36h4m26 0h1m24 0h4M30 37h5m31 0h5M46 38h3m3 0h3M46 61h3m3 0h3M30 62h5m31 0h5M21 63h4m26 0h1m24 0h4M14 64h3m66 0h4M7 65h4m79 0h3M1 66h4m91 0h3M101 67h4"/>
<path stroke="#600b15" d="M0 33h1m98 0h4M4 34h3m86 0h4M10 35h4m73 0h4M17 36h4m28 0h2m29 0h4M25 37h5m41 0h5M36 38h10m9 0h9M36 61h10m9 0h9M25 62h5m41 0h5M17 63h4m28 0h2m29 0h4M10 64h4m73 0h4M4 65h3m86 0h4M0 66h1m98 0h4"/>
<path stroke="#5d0a14" d="M103 33h2M0 34h4m93 0h4M6 35h4m81 0h4M13 36h4m67 0h4M20 37h5m24 0h1m1 0h1m24 0h4M30 38h6m28 0h7M30 61h6m28 0h7M20 62h5m24 0h1m1 0h1m24 0h4M13 63h4m67 0h4M6 64h4m81 0h4M0 65h4m93 0h4M103 66h2"/>
<path stroke="#5b0a13" d="M101 34h4M1 35h5m89 0h5M8 36h5m75 0h5M16 37h4m30 0h1m29 0h5M25 38h5m41 0h5M37 39h12m3 0h12M37 60h12m3 0h12M25 61h5m41 0h5M16 62h4m30 0h1m29 0h5M8 63h5m75 0h5M1 64h5m89 0h5M101 65h4"/>
<path stroke="#580912" d="M0 35h1m99 0h5M3 36h5m85 0h5M10 37h6m69 0h5M19 38h6m24 0h1m1 0h1m24 0h6M29 39h8m27 0h7M29 60h8m27 0h7M19 61h6m24 0h1m1 0h1m24 0h6M10 62h6m69 0h5M3 63h5m85 0h5M0 64h1m99 0h5"/>
<path stroke="#560811" d="M0 36h3m95 0h5M5 37h5m80 0h6M13 38h6m31 0h1m31 0h6M22 39h7m20 0h1m1 0h1m19 0h7M36 40h13m2 0h14M36 59h13m2 0h14M22 60h7m20 0h1m1 0h1m19 0h7M13 61h6m31 0h1m31 0h6M5 62h5m80 0h6M0 63h3m95 0h5"/>
<path stroke="#530710" d="M103 36h2M0 37h5m91 0h6M6 38h7m75 0h6M15 39h7m28 0h1m27 0h7M27 40h9m13 0h1m15 0h9M27 59h9m13 0h1m15 0h9M15 60h7m28 0h1m27 0h7M6 61h7m75 0h6M0 62h5m91 0h6M103 63h2"/>
<path stroke="#51070f" d="M102 37h3M0 38h6m88 0h8M8 39h7m70 0h8M18 40h9m47 0h9M31 41h19m1 0h18M31 58h19m1 0h18M18 59h9m47 0h9M8 60h7m70 0h8M0 61h6m88 0h8M102 62h3"/>
<path stroke="#4e060e" d="M102 38h3M0 39h8m85 0h9M9 40h9m32 0h1m32 0h9M20 41h11m38 0h11M37 42h13m1 0h12M37 57h13m1 0h12M20 58h11m38 0h11M9 59h9m32 0h1m32 0h9M0 60h8m85 0h9M102 61h3"/>
<path stroke="#4b050d" d="M102 39h3M0 40h9m83 0h11M9 41h11m30 0h1m29 0h12M22 42h15m26 0h16M22 57h15m26 0h16M9 58h11m30 0h1m29 0h12M0 59h9m83 0h11M102 60h3"/>
<path stroke="#49050c" d="M103 40h2M0 41h9m83 0h13M7 42h15m28 0h1m28 0h15M22 43h28m1 0h28M22 56h28m1 0h28M7 57h15m28 0h1m28 0h15M0 58h9m83 0h13M103 59h2"/>
<path stroke="#46040b" d="M0 42h7m87 0h11M1 43h21m28 0h1m28 0h21M18 44h32m1 0h32M18 55h32m1 0h32M1 56h21m28 0h1m28 0h21M0 57h7m87 0h11"/>
<path stroke="#44030a" d="M0 43h1m99 0h5M0 44h18m32 0h1m32 0h22M3 45h95M31 46h19m1 0h18M31 53h19m1 0h18M3 54h95M0 55h18m32 0h1m32 0h22M0 56h1m99 0h5"/>
<path stroke="#410209" d="M0 45h3m95 0h7M0 46h31m19 0h1m18 0h36M0 47h105M0 48h105M0 49h105M0 50h105M0 51h105M0 52h105M0 53h31m19 0h1m18 0h36M0 54h3m95 0h7"/>
</g>
</g></g>
<rect x="424.10" y="315.20" width="201.90" height="185.20" fill="none" stroke="#231f20" stroke-width="1.30"/>
<path d="M418.90 315.20H424.10" stroke="#231f20" stroke-width="2.30"/>
<text transform="translate(417.20 323.56) scale(1.000 1.080)" font-family="Liberation Sans, Arial, sans-serif" font-size="21.60" fill="#231f20" stroke="#231f20" stroke-width="0.3" text-anchor="end">0.50</text>
<path d="M418.90 361.50H424.10" stroke="#231f20" stroke-width="2.30"/>
<text transform="translate(417.20 369.86) scale(1.000 1.080)" font-family="Liberation Sans, Arial, sans-serif" font-size="21.60" fill="#231f20" stroke="#231f20" stroke-width="0.3" text-anchor="end">0.25</text>
<path d="M418.90 407.80H424.10" stroke="#231f20" stroke-width="2.30"/>
<text transform="translate(417.20 416.16) scale(1.000 1.080)" font-family="Liberation Sans, Arial, sans-serif" font-size="21.60" fill="#231f20" stroke="#231f20" stroke-width="0.3" text-anchor="end">0.00</text>
<path d="M418.90 454.10H424.10" stroke="#231f20" stroke-width="2.30"/>
<text transform="translate(418.40 462.46) scale(1.000 1.080)" font-family="Liberation Sans, Arial, sans-serif" font-size="21.60" fill="#231f20" stroke="#231f20" stroke-width="0.3" text-anchor="end">-0.25</text>
<path d="M418.90 500.40H424.10" stroke="#231f20" stroke-width="2.30"/>
<text transform="translate(418.40 508.76) scale(1.000 1.080)" font-family="Liberation Sans, Arial, sans-serif" font-size="21.60" fill="#231f20" stroke="#231f20" stroke-width="0.3" text-anchor="end">-0.50</text>
<path d="M424.10 500.40V505.60" stroke="#231f20" stroke-width="2.30"/>
<text transform="translate(424.10 526.50) scale(1.000 1.080)" font-family="Liberation Sans, Arial, sans-serif" font-size="21.60" fill="#231f20" stroke="#231f20" stroke-width="0.3" text-anchor="middle">-0.50</text>
<path d="M525.05 500.40V505.60" stroke="#231f20" stroke-width="2.30"/>
<text transform="translate(525.05 526.50) scale(1.000 1.080)" font-family="Liberation Sans, Arial, sans-serif" font-size="21.60" fill="#231f20" stroke="#231f20" stroke-width="0.3" text-anchor="middle">0.00</text>
<path d="M626.00 500.40V505.60" stroke="#231f20" stroke-width="2.30"/>
<text transform="translate(626.00 526.50) scale(1.000 1.080)" font-family="Liberation Sans, Arial, sans-serif" font-size="21.60" fill="#231f20" stroke="#231f20" stroke-width="0.3" text-anchor="middle">0.50</text>
<rect x="638.50" y="315.20" width="9.50" height="185.20" fill="url(#cmg)" stroke="#231f20" stroke-width="1.1"/>
<path d="M648.00 500.40H653.00" stroke="#231f20" stroke-width="2.3"/>
<text transform="translate(653.80 508.26) scale(1.080 1.000)" font-family="Liberation Sans, Arial, sans-serif" font-size="21.60" fill="#231f20" stroke="#231f20" stroke-width="0.3">0.0</text>
<path d="M648.00 438.67H653.00" stroke="#231f20" stroke-width="2.3"/>
<text transform="translate(653.80 446.53) scale(1.080 1.000)" font-family="Liberation Sans, Arial, sans-serif" font-size="21.60" fill="#231f20" stroke="#231f20" stroke-width="0.3">0.2</text>
<path d="M648.00 376.93H653.00" stroke="#231f20" stroke-width="2.3"/>
<text transform="translate(653.80 384.79) scale(1.080 1.000)" font-family="Liberation Sans, Arial, sans-serif" font-size="21.60" fill="#231f20" stroke="#231f20" stroke-width="0.3">0.4</text>
<path d="M648.00 315.20H653.00" stroke="#231f20" stroke-width="2.3"/>
<text transform="translate(653.80 323.06) scale(1.080 1.000)" font-family="Liberation Sans, Arial, sans-serif" font-size="21.60" fill="#231f20" stroke="#231f20" stroke-width="0.3">0.6</text>
<text x="456.20" y="307.70" font-family="Liberation Serif, Times New Roman, serif" font-size="24.00" fill="#231f20" stroke="#231f20" stroke-width="0.3">max</text>
<text x="497.70" y="307.70" font-family="Liberation Serif, Times New Roman, serif" font-size="24.00" fill="#231f20" stroke="#231f20" stroke-width="0.3">|</text>
<text x="503.20" y="307.70" font-family="Liberation Serif, Times New Roman, serif" font-size="23.80" fill="#231f20" stroke="#231f20" stroke-width="0.3">Im</text>
<text x="530.10" y="307.70" font-family="Liberation Serif, Times New Roman, serif" font-size="24.00" fill="#231f20" stroke="#231f20" stroke-width="0.3">(</text>
<text x="534.80" y="306.90" font-family="DejaVu Serif, serif" font-size="26.50" fill="#231f20" stroke="#231f20" stroke-width="0.3">&#916;</text>
<text x="551.50" y="309.50" font-family="Liberation Serif, Times New Roman, serif" font-size="17.00" fill="#231f20" stroke="#231f20" stroke-width="0.3" font-style="italic">n,m</text>
<text x="576.00" y="307.70" font-family="Liberation Serif, Times New Roman, serif" font-size="24.00" fill="#231f20" stroke="#231f20" stroke-width="0.3">)</text>
<text x="583.45" y="307.70" font-family="Liberation Serif, Times New Roman, serif" font-size="24.00" fill="#231f20" stroke="#231f20" stroke-width="0.3">|</text>
<text x="588.50" y="307.90" font-family="Liberation Serif, Times New Roman, serif" font-size="24.50" fill="#231f20" stroke="#231f20" stroke-width="0.3">/</text>
<text x="594.30" y="307.80" font-family="Liberation Serif, Times New Roman, serif" font-size="29.50" fill="#231f20" stroke="#231f20" stroke-width="0.3" font-style="italic">&#954;</text>
<g transform="translate(368.80 425.60) rotate(-90)">
<text transform="translate(0.30 0.00) scale(1.000 1.060)" font-family="DejaVu Sans, sans-serif" font-size="20.60" fill="#231f20" stroke="#231f20" stroke-width="0.3" font-style="italic">&#955;</text>
<text x="14.30" y="3.60" font-family="DejaVu Sans, sans-serif" font-size="14.00" fill="#231f20" stroke="#231f20" stroke-width="0.3">1</text>
<text x="23.30" y="0.60" font-family="DejaVu Sans, sans-serif" font-size="22.00" fill="#231f20" stroke="#231f20" stroke-width="0.3">/</text>
<text x="33.40" y="0.00" font-family="Liberation Serif, Times New Roman, serif" font-size="27.50" fill="#231f20" stroke="#231f20" stroke-width="0.3" font-style="italic">&#954;</text>
</g>
<text transform="translate(506.30 549.00) scale(1.000 1.060)" font-family="DejaVu Sans, sans-serif" font-size="20.60" fill="#231f20" stroke="#231f20" stroke-width="0.3" font-style="italic">&#955;</text>
<text x="520.30" y="552.60" font-family="DejaVu Sans, sans-serif" font-size="14.00" fill="#231f20" stroke="#231f20" stroke-width="0.3">2</text>
<text x="529.30" y="549.60" font-family="DejaVu Sans, sans-serif" font-size="22.00" fill="#231f20" stroke="#231f20" stroke-width="0.3">/</text>
<text x="539.40" y="549.00" font-family="Liberation Serif, Times New Roman, serif" font-size="27.50" fill="#231f20" stroke="#231f20" stroke-width="0.3" font-style="italic">&#954;</text>
</svg>
</body></html>
